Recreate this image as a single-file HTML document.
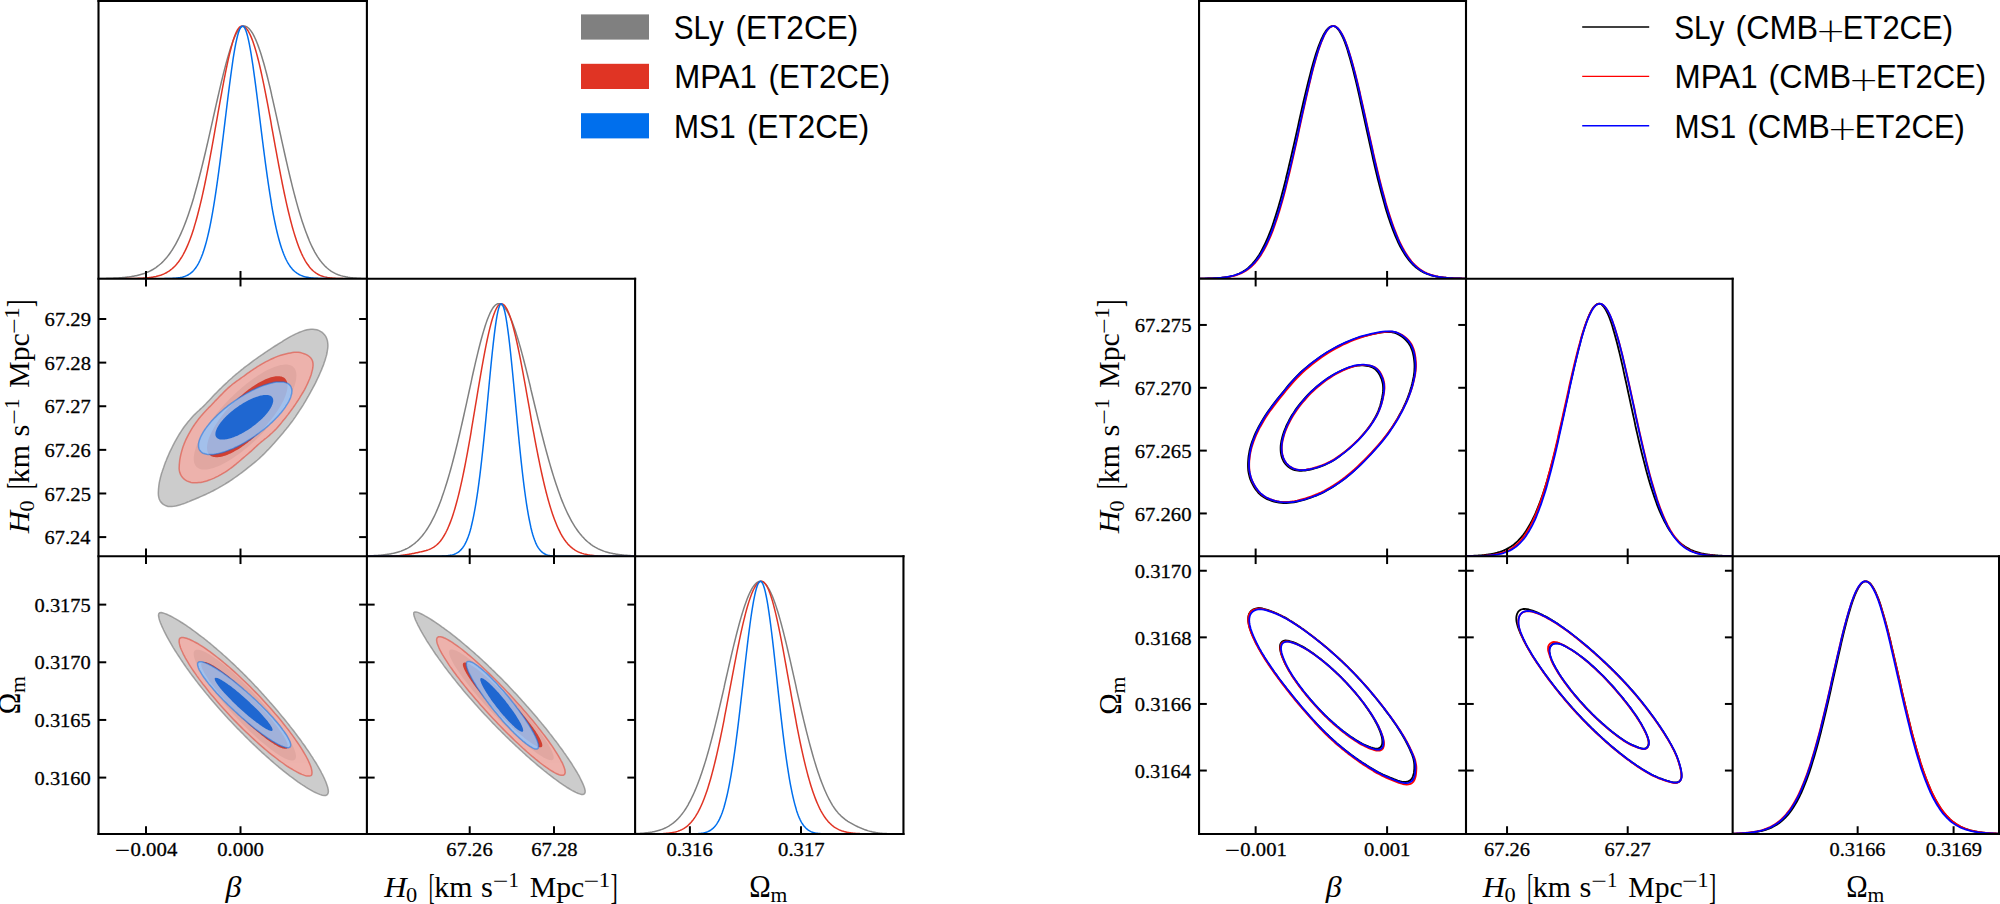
<!DOCTYPE html>
<html><head><meta charset="utf-8"><title>Triangle plots</title>
<style>html,body{margin:0;padding:0;background:#fff}svg{display:block}</style></head>
<body><svg width="2000" height="904" viewBox="0 0 2000 904">
<rect width="2000" height="904" fill="#fff"/>
<g opacity="1"><path d="M204.7,405.0 L206.1,403.6 L207.5,402.1 L208.8,400.7 L210.2,399.2 L211.6,397.7 L212.9,396.3 L214.3,394.8 L215.7,393.4 L217.1,391.9 L218.5,390.5 L219.9,389.1 L221.4,387.7 L222.8,386.3 L224.3,384.9 L225.7,383.6 L227.2,382.2 L228.6,380.8 L230.1,379.5 L231.6,378.2 L233.1,376.8 L234.6,375.5 L236.2,374.2 L237.7,373.0 L239.3,371.7 L240.8,370.4 L242.4,369.2 L243.9,367.9 L245.5,366.7 L247.1,365.5 L248.7,364.3 L250.3,363.1 L251.9,361.9 L253.5,360.7 L255.1,359.5 L256.8,358.3 L258.4,357.2 L260.0,356.0 L261.7,354.9 L263.3,353.8 L265.0,352.6 L266.6,351.5 L268.3,350.4 L270.0,349.3 L271.7,348.2 L273.3,347.1 L275.0,346.0 L276.7,345.0 L278.4,343.9 L280.1,342.8 L281.8,341.8 L283.5,340.7 L285.2,339.6 L286.9,338.6 L288.6,337.6 L290.4,336.6 L292.2,335.7 L293.9,334.8 L295.7,333.9 L297.6,333.1 L299.4,332.3 L301.3,331.6 L303.1,330.9 L305.1,330.3 L307.0,329.8 L309.0,329.5 L310.9,329.3 L312.9,329.2 L314.9,329.4 L316.9,329.8 L318.7,330.4 L320.5,331.3 L322.2,332.4 L323.6,333.7 L324.9,335.2 L326.0,336.9 L326.8,338.7 L327.4,340.6 L327.7,342.6 L327.9,344.6 L327.9,346.6 L327.7,348.6 L327.4,350.5 L327.1,352.5 L326.7,354.5 L326.2,356.4 L325.6,358.3 L325.1,360.2 L324.4,362.1 L323.8,364.0 L323.1,365.9 L322.3,367.8 L321.6,369.6 L320.8,371.5 L320.0,373.3 L319.2,375.1 L318.4,376.9 L317.5,378.8 L316.6,380.6 L315.8,382.4 L314.9,384.2 L314.0,385.9 L313.0,387.7 L312.1,389.5 L311.1,391.2 L310.2,393.0 L309.2,394.7 L308.2,396.5 L307.2,398.2 L306.2,399.9 L305.2,401.7 L304.1,403.4 L303.1,405.1 L302.0,406.8 L300.9,408.5 L299.8,410.1 L298.7,411.8 L297.6,413.5 L296.5,415.1 L295.4,416.8 L294.3,418.4 L293.1,420.1 L291.9,421.7 L290.7,423.3 L289.5,424.9 L288.3,426.5 L287.0,428.0 L285.8,429.6 L284.5,431.1 L283.2,432.7 L281.9,434.2 L280.6,435.7 L279.3,437.3 L278.0,438.8 L276.7,440.3 L275.4,441.8 L274.1,443.3 L272.7,444.8 L271.4,446.2 L270.0,447.7 L268.6,449.2 L267.2,450.6 L265.9,452.0 L264.5,453.5 L263.0,454.9 L261.6,456.3 L260.1,457.6 L258.7,459.0 L257.2,460.3 L255.6,461.6 L254.1,462.9 L252.5,464.1 L251.0,465.4 L249.4,466.6 L247.8,467.9 L246.3,469.1 L244.7,470.4 L243.1,471.6 L241.5,472.8 L239.9,474.0 L238.3,475.2 L236.7,476.3 L235.0,477.5 L233.4,478.6 L231.7,479.8 L230.1,480.9 L228.4,482.0 L226.7,483.0 L225.0,484.1 L223.3,485.1 L221.6,486.1 L219.8,487.1 L218.1,488.1 L216.3,489.1 L214.6,490.0 L212.8,491.0 L211.0,491.9 L209.2,492.8 L207.4,493.6 L205.6,494.5 L203.8,495.3 L201.9,496.1 L200.1,496.9 L198.3,497.7 L196.4,498.5 L194.6,499.3 L192.7,500.0 L190.9,500.8 L189.0,501.6 L187.2,502.3 L185.3,503.1 L183.4,503.8 L181.5,504.4 L179.6,505.0 L177.7,505.5 L175.8,506.0 L173.8,506.3 L171.8,506.5 L169.8,506.6 L167.9,506.4 L166.0,505.8 L164.2,504.9 L162.6,503.8 L161.2,502.4 L160.1,500.8 L159.2,499.0 L158.7,497.1 L158.4,495.1 L158.3,493.1 L158.4,491.1 L158.5,489.1 L158.7,487.2 L158.9,485.2 L159.2,483.2 L159.6,481.2 L160.0,479.3 L160.5,477.3 L161.0,475.4 L161.5,473.5 L162.2,471.6 L162.8,469.7 L163.5,467.8 L164.1,465.9 L164.8,464.0 L165.5,462.1 L166.3,460.3 L167.0,458.4 L167.8,456.6 L168.6,454.7 L169.4,452.9 L170.2,451.1 L171.1,449.3 L172.0,447.5 L172.9,445.7 L173.8,443.9 L174.7,442.2 L175.7,440.4 L176.7,438.6 L177.7,436.9 L178.7,435.2 L179.7,433.5 L180.8,431.8 L181.9,430.1 L183.0,428.5 L184.2,426.8 L185.4,425.2 L186.6,423.7 L187.9,422.1 L189.2,420.6 L190.5,419.0 L191.8,417.5 L193.1,416.1 L194.5,414.6 L195.9,413.2 L197.4,411.8 L198.9,410.5 L200.3,409.1 L201.8,407.8 L203.3,406.4Z" fill="#cccccc"/><path d="M293.5,367.2 L294.2,367.9 L294.7,368.6 L295.2,369.5 L295.6,370.4 L295.9,371.4 L296.2,372.4 L296.3,373.6 L296.4,374.7 L296.4,376.0 L296.3,377.3 L296.2,378.7 L296.0,380.1 L295.7,381.6 L295.3,383.2 L294.8,384.8 L294.3,386.4 L293.6,388.1 L293.0,389.9 L292.2,391.6 L291.3,393.5 L290.4,395.3 L289.5,397.2 L288.4,399.2 L287.3,401.1 L286.1,403.1 L284.9,405.1 L283.6,407.1 L282.2,409.1 L280.8,411.2 L279.3,413.2 L277.8,415.3 L276.2,417.3 L274.6,419.4 L272.9,421.5 L271.2,423.5 L269.4,425.6 L267.6,427.6 L265.8,429.6 L264.0,431.6 L262.1,433.6 L260.1,435.5 L258.2,437.4 L256.3,439.3 L254.3,441.2 L252.3,443.0 L250.3,444.7 L248.3,446.5 L246.3,448.2 L244.2,449.8 L242.2,451.4 L240.2,452.9 L238.2,454.4 L236.2,455.8 L234.2,457.2 L232.3,458.5 L230.3,459.7 L228.4,460.9 L226.5,462.0 L224.7,463.0 L222.8,464.0 L221.0,464.9 L219.3,465.7 L217.5,466.4 L215.9,467.1 L214.2,467.7 L212.6,468.2 L211.1,468.6 L209.6,469.0 L208.2,469.2 L206.8,469.4 L205.5,469.5 L204.3,469.6 L203.1,469.5 L201.9,469.4 L200.9,469.2 L199.9,468.9 L199.0,468.5 L198.1,468.0 L197.3,467.5 L196.6,466.9 L196.0,466.2 L195.4,465.5 L195.0,464.6 L194.6,463.7 L194.2,462.7 L194.0,461.7 L193.8,460.5 L193.8,459.4 L193.7,458.1 L193.8,456.8 L194.0,455.4 L194.2,454.0 L194.5,452.5 L194.9,450.9 L195.4,449.3 L195.9,447.7 L196.5,446.0 L197.2,444.2 L198.0,442.5 L198.8,440.6 L199.7,438.8 L200.7,436.9 L201.7,434.9 L202.9,433.0 L204.0,431.0 L205.3,429.0 L206.6,427.0 L208.0,425.0 L209.4,422.9 L210.8,420.9 L212.4,418.8 L214.0,416.8 L215.6,414.7 L217.3,412.6 L219.0,410.6 L220.7,408.5 L222.5,406.5 L224.3,404.5 L226.2,402.5 L228.1,400.5 L230.0,398.6 L232.0,396.7 L233.9,394.8 L235.9,392.9 L237.9,391.1 L239.9,389.4 L241.9,387.6 L243.9,385.9 L245.9,384.3 L247.9,382.7 L249.9,381.2 L251.9,379.7 L253.9,378.3 L255.9,376.9 L257.9,375.6 L259.8,374.4 L261.7,373.2 L263.6,372.1 L265.5,371.1 L267.3,370.1 L269.1,369.2 L270.9,368.4 L272.6,367.7 L274.3,367.0 L275.9,366.4 L277.5,365.9 L279.1,365.5 L280.5,365.1 L282.0,364.9 L283.3,364.7 L284.7,364.6 L285.9,364.5 L287.1,364.6 L288.2,364.7 L289.3,364.9 L290.3,365.2 L291.2,365.6 L292.0,366.1 L292.8,366.6Z" fill="#808080"/></g>
<path d="M204.7,405.0 L206.1,403.6 L207.5,402.1 L208.8,400.7 L210.2,399.2 L211.6,397.7 L212.9,396.3 L214.3,394.8 L215.7,393.4 L217.1,391.9 L218.5,390.5 L219.9,389.1 L221.4,387.7 L222.8,386.3 L224.3,384.9 L225.7,383.6 L227.2,382.2 L228.6,380.8 L230.1,379.5 L231.6,378.2 L233.1,376.8 L234.6,375.5 L236.2,374.2 L237.7,373.0 L239.3,371.7 L240.8,370.4 L242.4,369.2 L243.9,367.9 L245.5,366.7 L247.1,365.5 L248.7,364.3 L250.3,363.1 L251.9,361.9 L253.5,360.7 L255.1,359.5 L256.8,358.3 L258.4,357.2 L260.0,356.0 L261.7,354.9 L263.3,353.8 L265.0,352.6 L266.6,351.5 L268.3,350.4 L270.0,349.3 L271.7,348.2 L273.3,347.1 L275.0,346.0 L276.7,345.0 L278.4,343.9 L280.1,342.8 L281.8,341.8 L283.5,340.7 L285.2,339.6 L286.9,338.6 L288.6,337.6 L290.4,336.6 L292.2,335.7 L293.9,334.8 L295.7,333.9 L297.6,333.1 L299.4,332.3 L301.3,331.6 L303.1,330.9 L305.1,330.3 L307.0,329.8 L309.0,329.5 L310.9,329.3 L312.9,329.2 L314.9,329.4 L316.9,329.8 L318.7,330.4 L320.5,331.3 L322.2,332.4 L323.6,333.7 L324.9,335.2 L326.0,336.9 L326.8,338.7 L327.4,340.6 L327.7,342.6 L327.9,344.6 L327.9,346.6 L327.7,348.6 L327.4,350.5 L327.1,352.5 L326.7,354.5 L326.2,356.4 L325.6,358.3 L325.1,360.2 L324.4,362.1 L323.8,364.0 L323.1,365.9 L322.3,367.8 L321.6,369.6 L320.8,371.5 L320.0,373.3 L319.2,375.1 L318.4,376.9 L317.5,378.8 L316.6,380.6 L315.8,382.4 L314.9,384.2 L314.0,385.9 L313.0,387.7 L312.1,389.5 L311.1,391.2 L310.2,393.0 L309.2,394.7 L308.2,396.5 L307.2,398.2 L306.2,399.9 L305.2,401.7 L304.1,403.4 L303.1,405.1 L302.0,406.8 L300.9,408.5 L299.8,410.1 L298.7,411.8 L297.6,413.5 L296.5,415.1 L295.4,416.8 L294.3,418.4 L293.1,420.1 L291.9,421.7 L290.7,423.3 L289.5,424.9 L288.3,426.5 L287.0,428.0 L285.8,429.6 L284.5,431.1 L283.2,432.7 L281.9,434.2 L280.6,435.7 L279.3,437.3 L278.0,438.8 L276.7,440.3 L275.4,441.8 L274.1,443.3 L272.7,444.8 L271.4,446.2 L270.0,447.7 L268.6,449.2 L267.2,450.6 L265.9,452.0 L264.5,453.5 L263.0,454.9 L261.6,456.3 L260.1,457.6 L258.7,459.0 L257.2,460.3 L255.6,461.6 L254.1,462.9 L252.5,464.1 L251.0,465.4 L249.4,466.6 L247.8,467.9 L246.3,469.1 L244.7,470.4 L243.1,471.6 L241.5,472.8 L239.9,474.0 L238.3,475.2 L236.7,476.3 L235.0,477.5 L233.4,478.6 L231.7,479.8 L230.1,480.9 L228.4,482.0 L226.7,483.0 L225.0,484.1 L223.3,485.1 L221.6,486.1 L219.8,487.1 L218.1,488.1 L216.3,489.1 L214.6,490.0 L212.8,491.0 L211.0,491.9 L209.2,492.8 L207.4,493.6 L205.6,494.5 L203.8,495.3 L201.9,496.1 L200.1,496.9 L198.3,497.7 L196.4,498.5 L194.6,499.3 L192.7,500.0 L190.9,500.8 L189.0,501.6 L187.2,502.3 L185.3,503.1 L183.4,503.8 L181.5,504.4 L179.6,505.0 L177.7,505.5 L175.8,506.0 L173.8,506.3 L171.8,506.5 L169.8,506.6 L167.9,506.4 L166.0,505.8 L164.2,504.9 L162.6,503.8 L161.2,502.4 L160.1,500.8 L159.2,499.0 L158.7,497.1 L158.4,495.1 L158.3,493.1 L158.4,491.1 L158.5,489.1 L158.7,487.2 L158.9,485.2 L159.2,483.2 L159.6,481.2 L160.0,479.3 L160.5,477.3 L161.0,475.4 L161.5,473.5 L162.2,471.6 L162.8,469.7 L163.5,467.8 L164.1,465.9 L164.8,464.0 L165.5,462.1 L166.3,460.3 L167.0,458.4 L167.8,456.6 L168.6,454.7 L169.4,452.9 L170.2,451.1 L171.1,449.3 L172.0,447.5 L172.9,445.7 L173.8,443.9 L174.7,442.2 L175.7,440.4 L176.7,438.6 L177.7,436.9 L178.7,435.2 L179.7,433.5 L180.8,431.8 L181.9,430.1 L183.0,428.5 L184.2,426.8 L185.4,425.2 L186.6,423.7 L187.9,422.1 L189.2,420.6 L190.5,419.0 L191.8,417.5 L193.1,416.1 L194.5,414.6 L195.9,413.2 L197.4,411.8 L198.9,410.5 L200.3,409.1 L201.8,407.8 L203.3,406.4Z" fill="none" stroke="#808080" stroke-opacity="0.7" stroke-width="1.5"/>
<g opacity="0.85"><path d="M211.4,405.0 L212.8,403.5 L214.2,402.1 L215.5,400.6 L216.9,399.2 L218.3,397.8 L219.7,396.3 L221.1,394.9 L222.5,393.5 L223.9,392.0 L225.3,390.6 L226.8,389.2 L228.2,387.9 L229.7,386.6 L231.3,385.3 L232.8,384.0 L234.4,382.8 L236.0,381.6 L237.7,380.5 L239.3,379.3 L240.9,378.1 L242.5,377.0 L244.2,375.8 L245.8,374.6 L247.4,373.4 L249.0,372.3 L250.7,371.1 L252.3,370.0 L254.0,368.9 L255.7,367.8 L257.4,366.7 L259.1,365.7 L260.8,364.6 L262.5,363.6 L264.3,362.6 L266.0,361.7 L267.8,360.8 L269.6,359.9 L271.4,359.0 L273.2,358.2 L275.0,357.4 L276.9,356.6 L278.8,355.9 L280.7,355.3 L282.6,354.7 L284.5,354.2 L286.5,353.7 L288.4,353.3 L290.4,352.9 L292.3,352.6 L294.3,352.3 L296.3,352.2 L298.3,352.3 L300.3,352.6 L302.2,353.1 L304.1,353.7 L305.9,354.4 L307.7,355.4 L309.3,356.5 L310.8,357.9 L311.9,359.5 L312.6,361.3 L313.0,363.2 L313.1,365.2 L312.9,367.2 L312.6,369.1 L312.1,371.1 L311.6,373.0 L311.1,374.9 L310.4,376.8 L309.7,378.7 L308.9,380.5 L308.1,382.4 L307.3,384.2 L306.4,386.0 L305.5,387.8 L304.6,389.6 L303.6,391.3 L302.6,393.0 L301.6,394.7 L300.5,396.4 L299.5,398.1 L298.4,399.8 L297.3,401.5 L296.2,403.2 L295.1,404.8 L293.9,406.5 L292.8,408.1 L291.6,409.7 L290.4,411.4 L289.2,413.0 L288.0,414.6 L286.8,416.1 L285.6,417.7 L284.3,419.3 L283.0,420.8 L281.8,422.4 L280.5,423.9 L279.2,425.4 L277.9,426.9 L276.6,428.4 L275.2,429.9 L273.8,431.3 L272.3,432.7 L270.8,434.0 L269.4,435.4 L267.8,436.7 L266.3,438.0 L264.7,439.2 L263.2,440.5 L261.6,441.7 L260.1,443.0 L258.6,444.3 L257.1,445.6 L255.6,447.0 L254.1,448.4 L252.7,449.7 L251.2,451.1 L249.7,452.4 L248.2,453.7 L246.7,455.0 L245.2,456.3 L243.6,457.6 L242.1,458.9 L240.6,460.2 L239.1,461.5 L237.5,462.8 L236.0,464.1 L234.4,465.4 L232.9,466.6 L231.3,467.8 L229.7,469.0 L228.1,470.2 L226.4,471.3 L224.7,472.4 L223.0,473.4 L221.3,474.4 L219.5,475.4 L217.8,476.3 L216.0,477.2 L214.2,478.1 L212.3,478.9 L210.5,479.6 L208.6,480.3 L206.7,481.0 L204.8,481.5 L202.8,482.0 L200.9,482.4 L198.9,482.6 L196.9,482.8 L194.9,482.8 L192.9,482.7 L191.0,482.4 L189.1,481.8 L187.2,481.1 L185.5,480.1 L183.9,478.9 L182.5,477.5 L181.3,475.9 L180.4,474.2 L179.7,472.3 L179.3,470.4 L179.1,468.4 L179.2,466.4 L179.3,464.4 L179.5,462.4 L179.7,460.4 L180.0,458.5 L180.4,456.5 L180.8,454.5 L181.3,452.6 L181.8,450.7 L182.4,448.7 L183.0,446.8 L183.7,445.0 L184.4,443.1 L185.2,441.3 L186.0,439.4 L186.9,437.6 L187.8,435.8 L188.7,434.1 L189.7,432.3 L190.7,430.6 L191.7,428.9 L192.8,427.2 L193.9,425.5 L195.0,423.9 L196.2,422.2 L197.4,420.6 L198.6,419.0 L199.8,417.5 L201.1,415.9 L202.4,414.4 L203.7,412.9 L205.1,411.4 L206.5,410.0 L207.9,408.6 L209.3,407.1 L210.7,405.7Z" fill="#f3aea7"/><path d="M285.0,378.6 L285.6,379.2 L286.0,379.8 L286.4,380.5 L286.8,381.2 L287.0,382.0 L287.3,382.9 L287.4,383.8 L287.5,384.7 L287.5,385.7 L287.5,386.8 L287.4,387.9 L287.3,389.0 L287.0,390.2 L286.8,391.4 L286.4,392.7 L286.0,394.0 L285.6,395.3 L285.1,396.7 L284.5,398.1 L283.9,399.5 L283.2,401.0 L282.4,402.5 L281.6,404.0 L280.8,405.5 L279.9,407.0 L278.9,408.6 L277.9,410.2 L276.9,411.7 L275.8,413.3 L274.6,414.9 L273.5,416.5 L272.2,418.1 L271.0,419.7 L269.7,421.3 L268.3,422.8 L267.0,424.4 L265.6,426.0 L264.2,427.5 L262.7,429.0 L261.2,430.5 L259.8,432.0 L258.2,433.5 L256.7,434.9 L255.2,436.3 L253.6,437.7 L252.1,439.0 L250.5,440.4 L248.9,441.6 L247.3,442.9 L245.7,444.1 L244.2,445.2 L242.6,446.3 L241.0,447.4 L239.5,448.4 L237.9,449.4 L236.4,450.3 L234.9,451.1 L233.4,452.0 L231.9,452.7 L230.5,453.4 L229.0,454.1 L227.7,454.7 L226.3,455.2 L225.0,455.7 L223.7,456.1 L222.4,456.4 L221.2,456.7 L220.0,456.9 L218.9,457.1 L217.8,457.2 L216.7,457.2 L215.7,457.2 L214.7,457.1 L213.8,457.0 L213.0,456.8 L212.2,456.5 L211.4,456.2 L210.8,455.8 L210.1,455.3 L209.5,454.8 L209.0,454.2 L208.6,453.6 L208.2,452.9 L207.8,452.2 L207.5,451.4 L207.3,450.5 L207.2,449.6 L207.1,448.7 L207.0,447.7 L207.1,446.6 L207.2,445.5 L207.3,444.4 L207.5,443.2 L207.8,442.0 L208.1,440.7 L208.5,439.4 L209.0,438.1 L209.5,436.7 L210.1,435.3 L210.7,433.9 L211.4,432.4 L212.2,430.9 L213.0,429.4 L213.8,427.9 L214.7,426.4 L215.7,424.8 L216.7,423.2 L217.7,421.7 L218.8,420.1 L219.9,418.5 L221.1,416.9 L222.3,415.3 L223.6,413.7 L224.9,412.1 L226.2,410.6 L227.6,409.0 L229.0,407.4 L230.4,405.9 L231.9,404.4 L233.3,402.9 L234.8,401.4 L236.3,399.9 L237.9,398.5 L239.4,397.1 L241.0,395.7 L242.5,394.4 L244.1,393.0 L245.7,391.8 L247.3,390.5 L248.8,389.3 L250.4,388.2 L252.0,387.1 L253.6,386.0 L255.1,385.0 L256.7,384.0 L258.2,383.1 L259.7,382.3 L261.2,381.4 L262.7,380.7 L264.1,380.0 L265.5,379.3 L266.9,378.7 L268.3,378.2 L269.6,377.7 L270.9,377.3 L272.2,377.0 L273.4,376.7 L274.6,376.5 L275.7,376.3 L276.8,376.2 L277.9,376.2 L278.9,376.2 L279.8,376.3 L280.7,376.4 L281.6,376.6 L282.4,376.9 L283.1,377.2 L283.8,377.6 L284.5,378.1Z" fill="#E03424"/></g>
<path d="M211.4,405.0 L212.8,403.5 L214.2,402.1 L215.5,400.6 L216.9,399.2 L218.3,397.8 L219.7,396.3 L221.1,394.9 L222.5,393.5 L223.9,392.0 L225.3,390.6 L226.8,389.2 L228.2,387.9 L229.7,386.6 L231.3,385.3 L232.8,384.0 L234.4,382.8 L236.0,381.6 L237.7,380.5 L239.3,379.3 L240.9,378.1 L242.5,377.0 L244.2,375.8 L245.8,374.6 L247.4,373.4 L249.0,372.3 L250.7,371.1 L252.3,370.0 L254.0,368.9 L255.7,367.8 L257.4,366.7 L259.1,365.7 L260.8,364.6 L262.5,363.6 L264.3,362.6 L266.0,361.7 L267.8,360.8 L269.6,359.9 L271.4,359.0 L273.2,358.2 L275.0,357.4 L276.9,356.6 L278.8,355.9 L280.7,355.3 L282.6,354.7 L284.5,354.2 L286.5,353.7 L288.4,353.3 L290.4,352.9 L292.3,352.6 L294.3,352.3 L296.3,352.2 L298.3,352.3 L300.3,352.6 L302.2,353.1 L304.1,353.7 L305.9,354.4 L307.7,355.4 L309.3,356.5 L310.8,357.9 L311.9,359.5 L312.6,361.3 L313.0,363.2 L313.1,365.2 L312.9,367.2 L312.6,369.1 L312.1,371.1 L311.6,373.0 L311.1,374.9 L310.4,376.8 L309.7,378.7 L308.9,380.5 L308.1,382.4 L307.3,384.2 L306.4,386.0 L305.5,387.8 L304.6,389.6 L303.6,391.3 L302.6,393.0 L301.6,394.7 L300.5,396.4 L299.5,398.1 L298.4,399.8 L297.3,401.5 L296.2,403.2 L295.1,404.8 L293.9,406.5 L292.8,408.1 L291.6,409.7 L290.4,411.4 L289.2,413.0 L288.0,414.6 L286.8,416.1 L285.6,417.7 L284.3,419.3 L283.0,420.8 L281.8,422.4 L280.5,423.9 L279.2,425.4 L277.9,426.9 L276.6,428.4 L275.2,429.9 L273.8,431.3 L272.3,432.7 L270.8,434.0 L269.4,435.4 L267.8,436.7 L266.3,438.0 L264.7,439.2 L263.2,440.5 L261.6,441.7 L260.1,443.0 L258.6,444.3 L257.1,445.6 L255.6,447.0 L254.1,448.4 L252.7,449.7 L251.2,451.1 L249.7,452.4 L248.2,453.7 L246.7,455.0 L245.2,456.3 L243.6,457.6 L242.1,458.9 L240.6,460.2 L239.1,461.5 L237.5,462.8 L236.0,464.1 L234.4,465.4 L232.9,466.6 L231.3,467.8 L229.7,469.0 L228.1,470.2 L226.4,471.3 L224.7,472.4 L223.0,473.4 L221.3,474.4 L219.5,475.4 L217.8,476.3 L216.0,477.2 L214.2,478.1 L212.3,478.9 L210.5,479.6 L208.6,480.3 L206.7,481.0 L204.8,481.5 L202.8,482.0 L200.9,482.4 L198.9,482.6 L196.9,482.8 L194.9,482.8 L192.9,482.7 L191.0,482.4 L189.1,481.8 L187.2,481.1 L185.5,480.1 L183.9,478.9 L182.5,477.5 L181.3,475.9 L180.4,474.2 L179.7,472.3 L179.3,470.4 L179.1,468.4 L179.2,466.4 L179.3,464.4 L179.5,462.4 L179.7,460.4 L180.0,458.5 L180.4,456.5 L180.8,454.5 L181.3,452.6 L181.8,450.7 L182.4,448.7 L183.0,446.8 L183.7,445.0 L184.4,443.1 L185.2,441.3 L186.0,439.4 L186.9,437.6 L187.8,435.8 L188.7,434.1 L189.7,432.3 L190.7,430.6 L191.7,428.9 L192.8,427.2 L193.9,425.5 L195.0,423.9 L196.2,422.2 L197.4,420.6 L198.6,419.0 L199.8,417.5 L201.1,415.9 L202.4,414.4 L203.7,412.9 L205.1,411.4 L206.5,410.0 L207.9,408.6 L209.3,407.1 L210.7,405.7Z" fill="none" stroke="#E03424" stroke-opacity="0.5" stroke-width="1.5"/>
<g opacity="0.85"><path d="M290.4,385.8 L290.8,386.5 L291.2,387.2 L291.4,388.0 L291.7,388.8 L291.8,389.6 L291.9,390.5 L291.9,391.5 L291.8,392.5 L291.7,393.5 L291.4,394.5 L291.1,395.6 L290.8,396.8 L290.4,398.0 L289.9,399.1 L289.3,400.4 L288.7,401.6 L288.0,402.9 L287.2,404.2 L286.3,405.5 L285.5,406.9 L284.5,408.3 L283.5,409.6 L282.4,411.0 L281.3,412.4 L280.1,413.8 L278.8,415.3 L277.5,416.7 L276.2,418.1 L274.8,419.5 L273.3,421.0 L271.9,422.4 L270.3,423.8 L268.8,425.2 L267.2,426.6 L265.5,428.0 L263.9,429.3 L262.2,430.7 L260.4,432.0 L258.7,433.3 L256.9,434.6 L255.2,435.9 L253.4,437.1 L251.5,438.3 L249.7,439.5 L247.9,440.6 L246.1,441.7 L244.2,442.8 L242.4,443.8 L240.6,444.8 L238.7,445.8 L236.9,446.7 L235.1,447.5 L233.4,448.4 L231.6,449.1 L229.8,449.8 L228.1,450.5 L226.4,451.1 L224.8,451.7 L223.1,452.2 L221.5,452.7 L220.0,453.1 L218.4,453.5 L217.0,453.8 L215.5,454.1 L214.1,454.3 L212.8,454.4 L211.5,454.5 L210.2,454.5 L209.0,454.5 L207.9,454.4 L206.8,454.3 L205.8,454.1 L204.9,453.8 L204.0,453.5 L203.1,453.2 L202.4,452.8 L201.7,452.3 L201.0,451.8 L200.5,451.2 L200.0,450.6 L199.5,449.9 L199.2,449.2 L198.9,448.4 L198.7,447.6 L198.5,446.8 L198.5,445.9 L198.5,444.9 L198.5,443.9 L198.7,442.9 L198.9,441.9 L199.2,440.8 L199.6,439.6 L200.0,438.4 L200.5,437.3 L201.1,436.0 L201.7,434.8 L202.4,433.5 L203.2,432.2 L204.0,430.9 L204.9,429.5 L205.9,428.1 L206.9,426.8 L208.0,425.4 L209.1,424.0 L210.3,422.6 L211.5,421.1 L212.8,419.7 L214.2,418.3 L215.6,416.9 L217.0,415.4 L218.5,414.0 L220.0,412.6 L221.6,411.2 L223.2,409.8 L224.8,408.4 L226.5,407.1 L228.2,405.7 L229.9,404.4 L231.6,403.1 L233.4,401.8 L235.2,400.5 L237.0,399.3 L238.8,398.1 L240.6,396.9 L242.5,395.8 L244.3,394.7 L246.1,393.6 L248.0,392.6 L249.8,391.6 L251.6,390.6 L253.4,389.7 L255.2,388.9 L257.0,388.0 L258.8,387.3 L260.5,386.6 L262.2,385.9 L263.9,385.3 L265.6,384.7 L267.2,384.2 L268.8,383.7 L270.4,383.3 L271.9,382.9 L273.4,382.6 L274.8,382.3 L276.2,382.1 L277.6,382.0 L278.9,381.9 L280.1,381.9 L281.3,381.9 L282.4,382.0 L283.5,382.1 L284.5,382.3 L285.5,382.6 L286.4,382.9 L287.2,383.2 L288.0,383.6 L288.7,384.1 L289.3,384.6 L289.9,385.2Z" fill="#99c5f8"/><path d="M272.3,397.4 L272.6,397.8 L272.8,398.3 L273.0,398.7 L273.1,399.2 L273.2,399.8 L273.2,400.3 L273.2,400.9 L273.2,401.5 L273.1,402.1 L272.9,402.8 L272.7,403.5 L272.5,404.2 L272.2,404.9 L271.9,405.6 L271.6,406.4 L271.2,407.1 L270.7,407.9 L270.3,408.7 L269.7,409.6 L269.2,410.4 L268.6,411.2 L268.0,412.1 L267.3,412.9 L266.6,413.8 L265.8,414.7 L265.1,415.5 L264.3,416.4 L263.4,417.3 L262.6,418.2 L261.7,419.0 L260.7,419.9 L259.8,420.8 L258.8,421.6 L257.8,422.5 L256.8,423.3 L255.8,424.2 L254.7,425.0 L253.7,425.8 L252.6,426.6 L251.5,427.4 L250.4,428.2 L249.3,429.0 L248.2,429.7 L247.0,430.4 L245.9,431.1 L244.8,431.8 L243.6,432.4 L242.5,433.1 L241.4,433.7 L240.2,434.3 L239.1,434.8 L238.0,435.4 L236.9,435.9 L235.8,436.3 L234.7,436.8 L233.7,437.2 L232.6,437.6 L231.6,437.9 L230.6,438.2 L229.6,438.5 L228.6,438.8 L227.7,439.0 L226.8,439.2 L225.9,439.3 L225.0,439.5 L224.2,439.6 L223.4,439.6 L222.6,439.6 L221.9,439.6 L221.2,439.6 L220.5,439.5 L219.9,439.4 L219.3,439.2 L218.8,439.0 L218.2,438.8 L217.8,438.5 L217.3,438.3 L217.0,437.9 L216.6,437.6 L216.3,437.2 L216.0,436.8 L215.8,436.3 L215.7,435.9 L215.5,435.4 L215.4,434.8 L215.4,434.3 L215.4,433.7 L215.5,433.1 L215.5,432.5 L215.7,431.8 L215.9,431.1 L216.1,430.4 L216.4,429.7 L216.7,429.0 L217.0,428.2 L217.4,427.5 L217.9,426.7 L218.3,425.9 L218.9,425.0 L219.4,424.2 L220.0,423.4 L220.6,422.5 L221.3,421.7 L222.0,420.8 L222.8,419.9 L223.5,419.1 L224.3,418.2 L225.2,417.3 L226.0,416.4 L226.9,415.6 L227.9,414.7 L228.8,413.8 L229.8,413.0 L230.8,412.1 L231.8,411.3 L232.8,410.4 L233.9,409.6 L234.9,408.8 L236.0,408.0 L237.1,407.2 L238.2,406.4 L239.3,405.6 L240.5,404.9 L241.6,404.2 L242.7,403.5 L243.8,402.8 L245.0,402.2 L246.1,401.5 L247.2,400.9 L248.4,400.3 L249.5,399.8 L250.6,399.2 L251.7,398.7 L252.8,398.3 L253.9,397.8 L254.9,397.4 L256.0,397.0 L257.0,396.7 L258.0,396.4 L259.0,396.1 L260.0,395.8 L260.9,395.6 L261.8,395.4 L262.7,395.3 L263.6,395.1 L264.4,395.0 L265.2,395.0 L266.0,395.0 L266.7,395.0 L267.4,395.0 L268.1,395.1 L268.7,395.2 L269.3,395.4 L269.9,395.6 L270.4,395.8 L270.8,396.1 L271.3,396.3 L271.7,396.7 L272.0,397.0Z" fill="#006FED"/></g>
<path d="M290.4,385.8 L290.8,386.5 L291.2,387.2 L291.4,388.0 L291.7,388.8 L291.8,389.6 L291.9,390.5 L291.9,391.5 L291.8,392.5 L291.7,393.5 L291.4,394.5 L291.1,395.6 L290.8,396.8 L290.4,398.0 L289.9,399.1 L289.3,400.4 L288.7,401.6 L288.0,402.9 L287.2,404.2 L286.3,405.5 L285.5,406.9 L284.5,408.3 L283.5,409.6 L282.4,411.0 L281.3,412.4 L280.1,413.8 L278.8,415.3 L277.5,416.7 L276.2,418.1 L274.8,419.5 L273.3,421.0 L271.9,422.4 L270.3,423.8 L268.8,425.2 L267.2,426.6 L265.5,428.0 L263.9,429.3 L262.2,430.7 L260.4,432.0 L258.7,433.3 L256.9,434.6 L255.2,435.9 L253.4,437.1 L251.5,438.3 L249.7,439.5 L247.9,440.6 L246.1,441.7 L244.2,442.8 L242.4,443.8 L240.6,444.8 L238.7,445.8 L236.9,446.7 L235.1,447.5 L233.4,448.4 L231.6,449.1 L229.8,449.8 L228.1,450.5 L226.4,451.1 L224.8,451.7 L223.1,452.2 L221.5,452.7 L220.0,453.1 L218.4,453.5 L217.0,453.8 L215.5,454.1 L214.1,454.3 L212.8,454.4 L211.5,454.5 L210.2,454.5 L209.0,454.5 L207.9,454.4 L206.8,454.3 L205.8,454.1 L204.9,453.8 L204.0,453.5 L203.1,453.2 L202.4,452.8 L201.7,452.3 L201.0,451.8 L200.5,451.2 L200.0,450.6 L199.5,449.9 L199.2,449.2 L198.9,448.4 L198.7,447.6 L198.5,446.8 L198.5,445.9 L198.5,444.9 L198.5,443.9 L198.7,442.9 L198.9,441.9 L199.2,440.8 L199.6,439.6 L200.0,438.4 L200.5,437.3 L201.1,436.0 L201.7,434.8 L202.4,433.5 L203.2,432.2 L204.0,430.9 L204.9,429.5 L205.9,428.1 L206.9,426.8 L208.0,425.4 L209.1,424.0 L210.3,422.6 L211.5,421.1 L212.8,419.7 L214.2,418.3 L215.6,416.9 L217.0,415.4 L218.5,414.0 L220.0,412.6 L221.6,411.2 L223.2,409.8 L224.8,408.4 L226.5,407.1 L228.2,405.7 L229.9,404.4 L231.6,403.1 L233.4,401.8 L235.2,400.5 L237.0,399.3 L238.8,398.1 L240.6,396.9 L242.5,395.8 L244.3,394.7 L246.1,393.6 L248.0,392.6 L249.8,391.6 L251.6,390.6 L253.4,389.7 L255.2,388.9 L257.0,388.0 L258.8,387.3 L260.5,386.6 L262.2,385.9 L263.9,385.3 L265.6,384.7 L267.2,384.2 L268.8,383.7 L270.4,383.3 L271.9,382.9 L273.4,382.6 L274.8,382.3 L276.2,382.1 L277.6,382.0 L278.9,381.9 L280.1,381.9 L281.3,381.9 L282.4,382.0 L283.5,382.1 L284.5,382.3 L285.5,382.6 L286.4,382.9 L287.2,383.2 L288.0,383.6 L288.7,384.1 L289.3,384.6 L289.9,385.2Z" fill="none" stroke="#006FED" stroke-opacity="0.5" stroke-width="1.5"/>
<g opacity="1"><path d="M327.3,794.6 L325.9,795.4 L324.1,795.5 L322.2,795.2 L320.3,794.6 L318.4,793.9 L316.6,793.1 L314.8,792.3 L313.0,791.3 L311.3,790.4 L309.5,789.4 L307.8,788.4 L306.1,787.3 L304.4,786.2 L302.7,785.1 L301.1,784.0 L299.4,782.9 L297.8,781.8 L296.2,780.6 L294.5,779.4 L292.9,778.2 L291.3,777.0 L289.7,775.8 L288.2,774.6 L286.6,773.4 L285.0,772.1 L283.4,770.9 L281.9,769.6 L280.3,768.3 L278.8,767.1 L277.3,765.8 L275.7,764.5 L274.2,763.2 L272.7,761.9 L271.2,760.6 L269.7,759.3 L268.2,757.9 L266.7,756.6 L265.2,755.3 L263.7,753.9 L262.2,752.6 L260.8,751.2 L259.3,749.9 L257.8,748.5 L256.4,747.1 L254.9,745.7 L253.5,744.4 L252.0,743.0 L250.6,741.6 L249.2,740.2 L247.7,738.8 L246.3,737.4 L244.9,736.0 L243.5,734.6 L242.1,733.1 L240.7,731.7 L239.3,730.3 L237.9,728.9 L236.5,727.4 L235.1,726.0 L233.7,724.5 L232.3,723.1 L230.9,721.6 L229.6,720.2 L228.2,718.7 L226.9,717.2 L225.5,715.8 L224.2,714.3 L222.8,712.8 L221.5,711.3 L220.1,709.8 L218.8,708.3 L217.5,706.8 L216.2,705.3 L214.9,703.8 L213.6,702.3 L212.3,700.7 L211.0,699.2 L209.7,697.7 L208.4,696.1 L207.1,694.6 L205.9,693.1 L204.6,691.5 L203.3,689.9 L202.1,688.4 L200.8,686.8 L199.6,685.2 L198.4,683.7 L197.2,682.1 L195.9,680.5 L194.7,678.9 L193.5,677.3 L192.3,675.7 L191.1,674.1 L189.9,672.5 L188.8,670.9 L187.6,669.2 L186.4,667.6 L185.3,666.0 L184.1,664.3 L183.0,662.7 L181.9,661.0 L180.8,659.4 L179.7,657.7 L178.6,656.0 L177.5,654.3 L176.4,652.7 L175.3,651.0 L174.3,649.3 L173.2,647.6 L172.2,645.8 L171.2,644.1 L170.2,642.4 L169.2,640.7 L168.2,638.9 L167.2,637.2 L166.3,635.4 L165.4,633.6 L164.5,631.8 L163.6,630.0 L162.8,628.2 L161.9,626.4 L161.2,624.6 L160.4,622.7 L159.7,620.8 L159.1,618.9 L158.7,617.0 L158.5,615.2 L158.8,613.7 L159.7,612.8 L161.2,612.6 L163.1,612.9 L164.9,613.6 L166.8,614.3 L168.6,615.1 L170.4,616.0 L172.2,616.9 L173.9,617.9 L175.7,618.9 L177.4,619.9 L179.1,620.9 L180.8,622.0 L182.5,623.0 L184.2,624.1 L185.8,625.2 L187.5,626.4 L189.1,627.5 L190.8,628.6 L192.4,629.8 L194.0,631.0 L195.6,632.2 L197.2,633.3 L198.8,634.6 L200.4,635.8 L202.0,637.0 L203.6,638.2 L205.2,639.5 L206.7,640.7 L208.3,642.0 L209.8,643.2 L211.4,644.5 L212.9,645.8 L214.4,647.1 L216.0,648.4 L217.5,649.7 L219.0,651.0 L220.5,652.3 L222.0,653.6 L223.5,655.0 L225.0,656.3 L226.5,657.6 L228.0,659.0 L229.4,660.3 L230.9,661.7 L232.4,663.1 L233.8,664.4 L235.3,665.8 L236.7,667.2 L238.2,668.6 L239.6,670.0 L241.0,671.4 L242.5,672.8 L243.9,674.2 L245.3,675.6 L246.7,677.0 L248.1,678.5 L249.5,679.9 L250.9,681.3 L252.3,682.8 L253.7,684.2 L255.0,685.7 L256.4,687.1 L257.8,688.6 L259.1,690.1 L260.5,691.5 L261.8,693.0 L263.2,694.5 L264.5,696.0 L265.9,697.5 L267.2,699.0 L268.5,700.4 L269.8,702.0 L271.2,703.5 L272.5,705.0 L273.8,706.5 L275.1,708.0 L276.4,709.5 L277.7,711.0 L279.0,712.6 L280.2,714.1 L281.5,715.7 L282.8,717.2 L284.1,718.8 L285.3,720.3 L286.6,721.9 L287.8,723.4 L289.1,725.0 L290.3,726.6 L291.5,728.1 L292.8,729.7 L294.0,731.3 L295.2,732.9 L296.4,734.5 L297.6,736.1 L298.8,737.7 L300.0,739.3 L301.2,740.9 L302.3,742.6 L303.5,744.2 L304.7,745.8 L305.8,747.5 L306.9,749.1 L308.1,750.8 L309.2,752.4 L310.3,754.1 L311.4,755.8 L312.5,757.4 L313.5,759.1 L314.6,760.8 L315.7,762.5 L316.7,764.2 L317.7,766.0 L318.7,767.7 L319.7,769.4 L320.7,771.2 L321.6,773.0 L322.5,774.7 L323.4,776.5 L324.3,778.3 L325.1,780.2 L325.9,782.0 L326.6,783.9 L327.2,785.8 L327.8,787.7 L328.2,789.6 L328.4,791.5 L328.1,793.3Z" fill="#cccccc"/><path d="M294.8,759.6 L294.4,759.9 L293.8,760.2 L293.2,760.4 L292.5,760.5 L291.8,760.5 L290.9,760.4 L290.0,760.2 L289.0,760.0 L288.0,759.7 L286.9,759.2 L285.7,758.7 L284.5,758.2 L283.2,757.5 L281.8,756.7 L280.4,755.9 L278.9,755.0 L277.4,754.0 L275.8,753.0 L274.2,751.8 L272.5,750.6 L270.8,749.4 L269.1,748.0 L267.3,746.6 L265.5,745.1 L263.6,743.6 L261.7,742.0 L259.8,740.4 L257.9,738.7 L256.0,736.9 L254.0,735.1 L252.0,733.3 L250.0,731.4 L248.0,729.4 L246.0,727.4 L244.0,725.4 L242.0,723.4 L240.0,721.3 L238.0,719.2 L236.0,717.1 L234.0,715.0 L232.1,712.9 L230.1,710.7 L228.2,708.5 L226.3,706.4 L224.5,704.2 L222.7,702.0 L220.9,699.8 L219.1,697.7 L217.4,695.5 L215.7,693.4 L214.1,691.3 L212.5,689.2 L211.0,687.1 L209.5,685.1 L208.1,683.1 L206.7,681.1 L205.4,679.1 L204.1,677.2 L203.0,675.4 L201.8,673.6 L200.8,671.8 L199.8,670.1 L198.9,668.4 L198.0,666.8 L197.2,665.3 L196.5,663.8 L195.9,662.4 L195.4,661.0 L194.9,659.8 L194.5,658.5 L194.2,657.4 L193.9,656.3 L193.8,655.3 L193.7,654.4 L193.7,653.6 L193.7,652.8 L193.9,652.1 L194.1,651.5 L194.4,651.0 L194.8,650.6 L195.3,650.3 L195.8,650.0 L196.4,649.8 L197.1,649.7 L197.9,649.7 L198.7,649.8 L199.6,650.0 L200.6,650.2 L201.6,650.5 L202.8,651.0 L203.9,651.5 L205.2,652.0 L206.5,652.7 L207.8,653.5 L209.2,654.3 L210.7,655.2 L212.2,656.2 L213.8,657.2 L215.4,658.4 L217.1,659.6 L218.8,660.8 L220.6,662.2 L222.3,663.6 L224.2,665.1 L226.0,666.6 L227.9,668.2 L229.8,669.8 L231.7,671.5 L233.7,673.3 L235.7,675.1 L237.6,676.9 L239.6,678.8 L241.6,680.8 L243.6,682.8 L245.6,684.8 L247.7,686.8 L249.7,688.9 L251.7,691.0 L253.6,693.1 L255.6,695.2 L257.6,697.3 L259.5,699.5 L261.4,701.7 L263.3,703.8 L265.2,706.0 L267.0,708.2 L268.8,710.4 L270.5,712.5 L272.2,714.7 L273.9,716.8 L275.6,718.9 L277.1,721.0 L278.7,723.1 L280.1,725.1 L281.6,727.1 L282.9,729.1 L284.2,731.1 L285.5,733.0 L286.7,734.8 L287.8,736.6 L288.9,738.4 L289.8,740.1 L290.8,741.8 L291.6,743.4 L292.4,744.9 L293.1,746.4 L293.7,747.8 L294.3,749.2 L294.7,750.4 L295.1,751.7 L295.5,752.8 L295.7,753.9 L295.9,754.9 L296.0,755.8 L296.0,756.6 L295.9,757.4 L295.7,758.1 L295.5,758.7 L295.2,759.2Z" fill="#808080"/></g>
<path d="M327.3,794.6 L325.9,795.4 L324.1,795.5 L322.2,795.2 L320.3,794.6 L318.4,793.9 L316.6,793.1 L314.8,792.3 L313.0,791.3 L311.3,790.4 L309.5,789.4 L307.8,788.4 L306.1,787.3 L304.4,786.2 L302.7,785.1 L301.1,784.0 L299.4,782.9 L297.8,781.8 L296.2,780.6 L294.5,779.4 L292.9,778.2 L291.3,777.0 L289.7,775.8 L288.2,774.6 L286.6,773.4 L285.0,772.1 L283.4,770.9 L281.9,769.6 L280.3,768.3 L278.8,767.1 L277.3,765.8 L275.7,764.5 L274.2,763.2 L272.7,761.9 L271.2,760.6 L269.7,759.3 L268.2,757.9 L266.7,756.6 L265.2,755.3 L263.7,753.9 L262.2,752.6 L260.8,751.2 L259.3,749.9 L257.8,748.5 L256.4,747.1 L254.9,745.7 L253.5,744.4 L252.0,743.0 L250.6,741.6 L249.2,740.2 L247.7,738.8 L246.3,737.4 L244.9,736.0 L243.5,734.6 L242.1,733.1 L240.7,731.7 L239.3,730.3 L237.9,728.9 L236.5,727.4 L235.1,726.0 L233.7,724.5 L232.3,723.1 L230.9,721.6 L229.6,720.2 L228.2,718.7 L226.9,717.2 L225.5,715.8 L224.2,714.3 L222.8,712.8 L221.5,711.3 L220.1,709.8 L218.8,708.3 L217.5,706.8 L216.2,705.3 L214.9,703.8 L213.6,702.3 L212.3,700.7 L211.0,699.2 L209.7,697.7 L208.4,696.1 L207.1,694.6 L205.9,693.1 L204.6,691.5 L203.3,689.9 L202.1,688.4 L200.8,686.8 L199.6,685.2 L198.4,683.7 L197.2,682.1 L195.9,680.5 L194.7,678.9 L193.5,677.3 L192.3,675.7 L191.1,674.1 L189.9,672.5 L188.8,670.9 L187.6,669.2 L186.4,667.6 L185.3,666.0 L184.1,664.3 L183.0,662.7 L181.9,661.0 L180.8,659.4 L179.7,657.7 L178.6,656.0 L177.5,654.3 L176.4,652.7 L175.3,651.0 L174.3,649.3 L173.2,647.6 L172.2,645.8 L171.2,644.1 L170.2,642.4 L169.2,640.7 L168.2,638.9 L167.2,637.2 L166.3,635.4 L165.4,633.6 L164.5,631.8 L163.6,630.0 L162.8,628.2 L161.9,626.4 L161.2,624.6 L160.4,622.7 L159.7,620.8 L159.1,618.9 L158.7,617.0 L158.5,615.2 L158.8,613.7 L159.7,612.8 L161.2,612.6 L163.1,612.9 L164.9,613.6 L166.8,614.3 L168.6,615.1 L170.4,616.0 L172.2,616.9 L173.9,617.9 L175.7,618.9 L177.4,619.9 L179.1,620.9 L180.8,622.0 L182.5,623.0 L184.2,624.1 L185.8,625.2 L187.5,626.4 L189.1,627.5 L190.8,628.6 L192.4,629.8 L194.0,631.0 L195.6,632.2 L197.2,633.3 L198.8,634.6 L200.4,635.8 L202.0,637.0 L203.6,638.2 L205.2,639.5 L206.7,640.7 L208.3,642.0 L209.8,643.2 L211.4,644.5 L212.9,645.8 L214.4,647.1 L216.0,648.4 L217.5,649.7 L219.0,651.0 L220.5,652.3 L222.0,653.6 L223.5,655.0 L225.0,656.3 L226.5,657.6 L228.0,659.0 L229.4,660.3 L230.9,661.7 L232.4,663.1 L233.8,664.4 L235.3,665.8 L236.7,667.2 L238.2,668.6 L239.6,670.0 L241.0,671.4 L242.5,672.8 L243.9,674.2 L245.3,675.6 L246.7,677.0 L248.1,678.5 L249.5,679.9 L250.9,681.3 L252.3,682.8 L253.7,684.2 L255.0,685.7 L256.4,687.1 L257.8,688.6 L259.1,690.1 L260.5,691.5 L261.8,693.0 L263.2,694.5 L264.5,696.0 L265.9,697.5 L267.2,699.0 L268.5,700.4 L269.8,702.0 L271.2,703.5 L272.5,705.0 L273.8,706.5 L275.1,708.0 L276.4,709.5 L277.7,711.0 L279.0,712.6 L280.2,714.1 L281.5,715.7 L282.8,717.2 L284.1,718.8 L285.3,720.3 L286.6,721.9 L287.8,723.4 L289.1,725.0 L290.3,726.6 L291.5,728.1 L292.8,729.7 L294.0,731.3 L295.2,732.9 L296.4,734.5 L297.6,736.1 L298.8,737.7 L300.0,739.3 L301.2,740.9 L302.3,742.6 L303.5,744.2 L304.7,745.8 L305.8,747.5 L306.9,749.1 L308.1,750.8 L309.2,752.4 L310.3,754.1 L311.4,755.8 L312.5,757.4 L313.5,759.1 L314.6,760.8 L315.7,762.5 L316.7,764.2 L317.7,766.0 L318.7,767.7 L319.7,769.4 L320.7,771.2 L321.6,773.0 L322.5,774.7 L323.4,776.5 L324.3,778.3 L325.1,780.2 L325.9,782.0 L326.6,783.9 L327.2,785.8 L327.8,787.7 L328.2,789.6 L328.4,791.5 L328.1,793.3Z" fill="none" stroke="#808080" stroke-opacity="0.7" stroke-width="1.5"/>
<g opacity="0.85"><path d="M311.2,775.4 L310.8,775.7 L310.2,775.9 L309.6,776.1 L308.8,776.1 L307.9,776.1 L306.8,775.9 L305.7,775.7 L304.5,775.4 L303.2,774.9 L301.8,774.4 L300.3,773.7 L298.8,773.0 L297.1,772.1 L295.4,771.2 L293.5,770.2 L291.7,769.0 L289.7,767.8 L287.6,766.5 L285.5,765.1 L283.4,763.5 L281.2,762.0 L278.9,760.3 L276.6,758.5 L274.2,756.7 L271.8,754.8 L269.3,752.8 L266.8,750.7 L264.3,748.6 L261.7,746.4 L259.1,744.1 L256.5,741.8 L253.9,739.4 L251.3,737.0 L248.7,734.5 L246.0,732.0 L243.4,729.5 L240.8,726.9 L238.2,724.2 L235.6,721.6 L233.0,718.9 L230.4,716.2 L227.9,713.5 L225.4,710.7 L222.9,708.0 L220.4,705.3 L218.0,702.5 L215.7,699.8 L213.4,697.1 L211.1,694.4 L208.9,691.7 L206.8,689.0 L204.7,686.3 L202.6,683.7 L200.7,681.1 L198.8,678.6 L197.0,676.1 L195.3,673.6 L193.6,671.2 L192.0,668.9 L190.5,666.6 L189.1,664.4 L187.8,662.2 L186.6,660.1 L185.4,658.1 L184.4,656.2 L183.4,654.3 L182.6,652.5 L181.8,650.8 L181.1,649.2 L180.5,647.7 L180.0,646.3 L179.7,645.0 L179.4,643.7 L179.2,642.6 L179.1,641.6 L179.1,640.7 L179.2,639.9 L179.3,639.2 L179.6,638.7 L179.9,638.3 L180.3,638.0 L180.9,637.8 L181.5,637.6 L182.3,637.6 L183.2,637.6 L184.3,637.8 L185.4,638.0 L186.6,638.3 L187.9,638.8 L189.3,639.3 L190.8,640.0 L192.3,640.7 L194.0,641.6 L195.7,642.5 L197.6,643.5 L199.4,644.7 L201.4,645.9 L203.5,647.2 L205.6,648.6 L207.7,650.2 L209.9,651.7 L212.2,653.4 L214.5,655.2 L216.9,657.0 L219.3,658.9 L221.8,660.9 L224.3,663.0 L226.8,665.1 L229.4,667.3 L232.0,669.6 L234.6,671.9 L237.2,674.3 L239.8,676.7 L242.4,679.2 L245.1,681.7 L247.7,684.2 L250.3,686.8 L252.9,689.5 L255.5,692.1 L258.1,694.8 L260.7,697.5 L263.2,700.2 L265.7,703.0 L268.2,705.7 L270.7,708.4 L273.1,711.2 L275.4,713.9 L277.7,716.6 L280.0,719.3 L282.2,722.0 L284.3,724.7 L286.4,727.4 L288.5,730.0 L290.4,732.6 L292.3,735.1 L294.1,737.6 L295.8,740.1 L297.5,742.5 L299.1,744.8 L300.6,747.1 L302.0,749.3 L303.3,751.5 L304.5,753.6 L305.7,755.6 L306.7,757.5 L307.7,759.4 L308.6,761.2 L309.3,762.9 L310.0,764.5 L310.6,766.0 L311.1,767.4 L311.4,768.7 L311.7,770.0 L311.9,771.1 L312.0,772.1 L312.0,773.0 L311.9,773.8 L311.8,774.5 L311.5,775.0Z" fill="#f3aea7"/><path d="M287.1,748.2 L286.8,748.5 L286.4,748.7 L285.9,748.8 L285.4,748.8 L284.8,748.8 L284.2,748.8 L283.4,748.6 L282.7,748.4 L281.8,748.1 L281.0,747.8 L280.0,747.4 L279.0,746.9 L278.0,746.4 L276.9,745.8 L275.7,745.1 L274.5,744.4 L273.3,743.6 L272.0,742.8 L270.7,741.9 L269.3,740.9 L267.9,739.9 L266.4,738.9 L264.9,737.8 L263.4,736.6 L261.9,735.4 L260.3,734.1 L258.7,732.8 L257.1,731.5 L255.5,730.1 L253.8,728.7 L252.2,727.2 L250.5,725.7 L248.8,724.2 L247.1,722.6 L245.4,721.1 L243.7,719.4 L242.0,717.8 L240.3,716.2 L238.6,714.5 L237.0,712.8 L235.3,711.1 L233.6,709.5 L232.0,707.7 L230.4,706.0 L228.8,704.3 L227.2,702.6 L225.7,700.9 L224.2,699.2 L222.7,697.5 L221.2,695.9 L219.8,694.2 L218.4,692.6 L217.1,690.9 L215.8,689.3 L214.6,687.8 L213.4,686.2 L212.2,684.7 L211.1,683.2 L210.0,681.8 L209.0,680.3 L208.1,679.0 L207.2,677.6 L206.4,676.3 L205.6,675.1 L204.9,673.9 L204.2,672.7 L203.6,671.6 L203.1,670.6 L202.6,669.6 L202.2,668.6 L201.9,667.7 L201.6,666.9 L201.4,666.1 L201.3,665.4 L201.2,664.8 L201.2,664.2 L201.3,663.7 L201.4,663.2 L201.6,662.8 L201.9,662.5 L202.2,662.2 L202.6,662.0 L203.1,661.9 L203.6,661.9 L204.2,661.9 L204.8,661.9 L205.5,662.1 L206.3,662.3 L207.1,662.6 L208.0,662.9 L209.0,663.3 L210.0,663.8 L211.0,664.3 L212.1,664.9 L213.3,665.6 L214.5,666.3 L215.7,667.1 L217.0,667.9 L218.3,668.8 L219.7,669.8 L221.1,670.8 L222.5,671.8 L224.0,672.9 L225.5,674.1 L227.1,675.3 L228.7,676.6 L230.2,677.9 L231.9,679.2 L233.5,680.6 L235.1,682.0 L236.8,683.5 L238.5,685.0 L240.2,686.5 L241.9,688.1 L243.6,689.6 L245.3,691.3 L247.0,692.9 L248.7,694.5 L250.3,696.2 L252.0,697.9 L253.7,699.6 L255.3,701.2 L257.0,703.0 L258.6,704.7 L260.2,706.4 L261.8,708.1 L263.3,709.8 L264.8,711.5 L266.3,713.2 L267.7,714.8 L269.2,716.5 L270.5,718.1 L271.9,719.8 L273.2,721.4 L274.4,722.9 L275.6,724.5 L276.8,726.0 L277.9,727.5 L278.9,728.9 L279.9,730.4 L280.9,731.7 L281.8,733.1 L282.6,734.4 L283.4,735.6 L284.1,736.8 L284.7,738.0 L285.3,739.1 L285.9,740.1 L286.3,741.1 L286.7,742.1 L287.1,743.0 L287.3,743.8 L287.5,744.6 L287.7,745.3 L287.7,745.9 L287.7,746.5 L287.7,747.0 L287.5,747.5 L287.4,747.9Z" fill="#E03424"/></g>
<path d="M311.2,775.4 L310.8,775.7 L310.2,775.9 L309.6,776.1 L308.8,776.1 L307.9,776.1 L306.8,775.9 L305.7,775.7 L304.5,775.4 L303.2,774.9 L301.8,774.4 L300.3,773.7 L298.8,773.0 L297.1,772.1 L295.4,771.2 L293.5,770.2 L291.7,769.0 L289.7,767.8 L287.6,766.5 L285.5,765.1 L283.4,763.5 L281.2,762.0 L278.9,760.3 L276.6,758.5 L274.2,756.7 L271.8,754.8 L269.3,752.8 L266.8,750.7 L264.3,748.6 L261.7,746.4 L259.1,744.1 L256.5,741.8 L253.9,739.4 L251.3,737.0 L248.7,734.5 L246.0,732.0 L243.4,729.5 L240.8,726.9 L238.2,724.2 L235.6,721.6 L233.0,718.9 L230.4,716.2 L227.9,713.5 L225.4,710.7 L222.9,708.0 L220.4,705.3 L218.0,702.5 L215.7,699.8 L213.4,697.1 L211.1,694.4 L208.9,691.7 L206.8,689.0 L204.7,686.3 L202.6,683.7 L200.7,681.1 L198.8,678.6 L197.0,676.1 L195.3,673.6 L193.6,671.2 L192.0,668.9 L190.5,666.6 L189.1,664.4 L187.8,662.2 L186.6,660.1 L185.4,658.1 L184.4,656.2 L183.4,654.3 L182.6,652.5 L181.8,650.8 L181.1,649.2 L180.5,647.7 L180.0,646.3 L179.7,645.0 L179.4,643.7 L179.2,642.6 L179.1,641.6 L179.1,640.7 L179.2,639.9 L179.3,639.2 L179.6,638.7 L179.9,638.3 L180.3,638.0 L180.9,637.8 L181.5,637.6 L182.3,637.6 L183.2,637.6 L184.3,637.8 L185.4,638.0 L186.6,638.3 L187.9,638.8 L189.3,639.3 L190.8,640.0 L192.3,640.7 L194.0,641.6 L195.7,642.5 L197.6,643.5 L199.4,644.7 L201.4,645.9 L203.5,647.2 L205.6,648.6 L207.7,650.2 L209.9,651.7 L212.2,653.4 L214.5,655.2 L216.9,657.0 L219.3,658.9 L221.8,660.9 L224.3,663.0 L226.8,665.1 L229.4,667.3 L232.0,669.6 L234.6,671.9 L237.2,674.3 L239.8,676.7 L242.4,679.2 L245.1,681.7 L247.7,684.2 L250.3,686.8 L252.9,689.5 L255.5,692.1 L258.1,694.8 L260.7,697.5 L263.2,700.2 L265.7,703.0 L268.2,705.7 L270.7,708.4 L273.1,711.2 L275.4,713.9 L277.7,716.6 L280.0,719.3 L282.2,722.0 L284.3,724.7 L286.4,727.4 L288.5,730.0 L290.4,732.6 L292.3,735.1 L294.1,737.6 L295.8,740.1 L297.5,742.5 L299.1,744.8 L300.6,747.1 L302.0,749.3 L303.3,751.5 L304.5,753.6 L305.7,755.6 L306.7,757.5 L307.7,759.4 L308.6,761.2 L309.3,762.9 L310.0,764.5 L310.6,766.0 L311.1,767.4 L311.4,768.7 L311.7,770.0 L311.9,771.1 L312.0,772.1 L312.0,773.0 L311.9,773.8 L311.8,774.5 L311.5,775.0Z" fill="none" stroke="#E03424" stroke-opacity="0.5" stroke-width="1.5"/>
<g opacity="0.85"><path d="M290.1,746.9 L289.8,747.2 L289.4,747.4 L288.9,747.6 L288.3,747.7 L287.7,747.7 L287.1,747.7 L286.3,747.6 L285.5,747.4 L284.6,747.1 L283.7,746.8 L282.7,746.5 L281.6,746.0 L280.5,745.6 L279.4,745.0 L278.1,744.4 L276.9,743.7 L275.5,742.9 L274.2,742.1 L272.7,741.3 L271.3,740.4 L269.8,739.4 L268.2,738.4 L266.6,737.3 L265.0,736.2 L263.4,735.0 L261.7,733.8 L260.0,732.5 L258.3,731.2 L256.5,729.9 L254.7,728.5 L252.9,727.0 L251.1,725.6 L249.3,724.1 L247.5,722.6 L245.7,721.0 L243.9,719.4 L242.0,717.9 L240.2,716.2 L238.4,714.6 L236.6,712.9 L234.8,711.3 L233.0,709.6 L231.2,707.9 L229.5,706.2 L227.8,704.6 L226.1,702.9 L224.4,701.2 L222.7,699.5 L221.1,697.8 L219.6,696.2 L218.0,694.5 L216.5,692.9 L215.1,691.3 L213.7,689.7 L212.3,688.1 L211.0,686.6 L209.7,685.1 L208.5,683.6 L207.4,682.1 L206.3,680.7 L205.3,679.3 L204.3,678.0 L203.4,676.7 L202.5,675.4 L201.7,674.2 L201.0,673.0 L200.4,671.9 L199.8,670.8 L199.2,669.8 L198.8,668.9 L198.4,668.0 L198.1,667.1 L197.9,666.3 L197.7,665.6 L197.6,664.9 L197.6,664.3 L197.6,663.8 L197.7,663.3 L197.9,662.9 L198.2,662.5 L198.5,662.2 L198.9,662.0 L199.4,661.8 L199.9,661.7 L200.6,661.7 L201.2,661.7 L202.0,661.8 L202.8,662.0 L203.7,662.3 L204.6,662.6 L205.6,662.9 L206.6,663.4 L207.8,663.8 L208.9,664.4 L210.2,665.0 L211.4,665.7 L212.8,666.5 L214.1,667.3 L215.5,668.1 L217.0,669.0 L218.5,670.0 L220.1,671.0 L221.7,672.1 L223.3,673.2 L224.9,674.4 L226.6,675.6 L228.3,676.9 L230.0,678.2 L231.8,679.5 L233.6,680.9 L235.4,682.4 L237.2,683.8 L239.0,685.3 L240.8,686.8 L242.6,688.4 L244.4,690.0 L246.3,691.5 L248.1,693.2 L249.9,694.8 L251.7,696.5 L253.5,698.1 L255.3,699.8 L257.1,701.5 L258.8,703.2 L260.5,704.8 L262.2,706.5 L263.9,708.2 L265.6,709.9 L267.2,711.6 L268.7,713.2 L270.3,714.9 L271.8,716.5 L273.2,718.1 L274.6,719.7 L276.0,721.3 L277.3,722.8 L278.5,724.3 L279.8,725.8 L280.9,727.3 L282.0,728.7 L283.0,730.1 L284.0,731.4 L284.9,732.7 L285.8,734.0 L286.6,735.2 L287.3,736.4 L287.9,737.5 L288.5,738.6 L289.0,739.6 L289.5,740.5 L289.9,741.4 L290.2,742.3 L290.4,743.1 L290.6,743.8 L290.7,744.5 L290.7,745.1 L290.7,745.6 L290.6,746.1 L290.4,746.5Z" fill="#99c5f8"/><path d="M272.3,730.6 L272.2,730.7 L272.0,730.8 L271.7,730.9 L271.4,730.9 L271.1,730.9 L270.7,730.8 L270.2,730.7 L269.8,730.6 L269.3,730.4 L268.7,730.2 L268.1,729.9 L267.5,729.6 L266.8,729.3 L266.1,728.9 L265.4,728.5 L264.6,728.0 L263.8,727.5 L263.0,727.0 L262.2,726.4 L261.3,725.8 L260.4,725.2 L259.4,724.5 L258.5,723.8 L257.5,723.1 L256.5,722.4 L255.4,721.6 L254.4,720.8 L253.3,719.9 L252.2,719.1 L251.1,718.2 L250.0,717.3 L248.9,716.4 L247.8,715.4 L246.7,714.5 L245.5,713.5 L244.4,712.5 L243.3,711.5 L242.1,710.5 L241.0,709.5 L239.9,708.5 L238.8,707.4 L237.6,706.4 L236.5,705.3 L235.4,704.3 L234.3,703.3 L233.3,702.2 L232.2,701.2 L231.2,700.1 L230.2,699.1 L229.2,698.1 L228.2,697.1 L227.3,696.1 L226.3,695.1 L225.4,694.1 L224.6,693.2 L223.7,692.2 L222.9,691.3 L222.1,690.4 L221.4,689.5 L220.7,688.7 L220.0,687.9 L219.4,687.1 L218.8,686.3 L218.2,685.5 L217.7,684.8 L217.2,684.1 L216.8,683.5 L216.4,682.8 L216.0,682.2 L215.7,681.7 L215.4,681.1 L215.2,680.7 L215.0,680.2 L214.9,679.8 L214.8,679.4 L214.7,679.1 L214.7,678.8 L214.7,678.5 L214.8,678.3 L214.9,678.1 L215.1,678.0 L215.3,677.9 L215.6,677.8 L215.9,677.8 L216.2,677.8 L216.6,677.9 L217.0,678.0 L217.5,678.1 L218.0,678.3 L218.6,678.5 L219.1,678.8 L219.8,679.1 L220.4,679.4 L221.1,679.8 L221.9,680.2 L222.6,680.7 L223.4,681.2 L224.3,681.7 L225.1,682.3 L226.0,682.9 L226.9,683.5 L227.9,684.2 L228.8,684.9 L229.8,685.6 L230.8,686.3 L231.8,687.1 L232.9,687.9 L234.0,688.8 L235.0,689.6 L236.1,690.5 L237.2,691.4 L238.3,692.3 L239.5,693.3 L240.6,694.2 L241.7,695.2 L242.9,696.2 L244.0,697.2 L245.1,698.2 L246.3,699.2 L247.4,700.2 L248.5,701.3 L249.6,702.3 L250.7,703.4 L251.8,704.4 L252.9,705.4 L254.0,706.5 L255.0,707.5 L256.1,708.6 L257.1,709.6 L258.1,710.6 L259.1,711.6 L260.0,712.6 L260.9,713.6 L261.8,714.6 L262.7,715.5 L263.5,716.5 L264.4,717.4 L265.1,718.3 L265.9,719.2 L266.6,720.0 L267.3,720.8 L267.9,721.6 L268.5,722.4 L269.1,723.2 L269.6,723.9 L270.1,724.6 L270.5,725.2 L270.9,725.9 L271.3,726.5 L271.6,727.0 L271.9,727.6 L272.1,728.0 L272.3,728.5 L272.4,728.9 L272.5,729.3 L272.6,729.6 L272.6,729.9 L272.5,730.2 L272.5,730.4Z" fill="#006FED"/></g>
<path d="M290.1,746.9 L289.8,747.2 L289.4,747.4 L288.9,747.6 L288.3,747.7 L287.7,747.7 L287.1,747.7 L286.3,747.6 L285.5,747.4 L284.6,747.1 L283.7,746.8 L282.7,746.5 L281.6,746.0 L280.5,745.6 L279.4,745.0 L278.1,744.4 L276.9,743.7 L275.5,742.9 L274.2,742.1 L272.7,741.3 L271.3,740.4 L269.8,739.4 L268.2,738.4 L266.6,737.3 L265.0,736.2 L263.4,735.0 L261.7,733.8 L260.0,732.5 L258.3,731.2 L256.5,729.9 L254.7,728.5 L252.9,727.0 L251.1,725.6 L249.3,724.1 L247.5,722.6 L245.7,721.0 L243.9,719.4 L242.0,717.9 L240.2,716.2 L238.4,714.6 L236.6,712.9 L234.8,711.3 L233.0,709.6 L231.2,707.9 L229.5,706.2 L227.8,704.6 L226.1,702.9 L224.4,701.2 L222.7,699.5 L221.1,697.8 L219.6,696.2 L218.0,694.5 L216.5,692.9 L215.1,691.3 L213.7,689.7 L212.3,688.1 L211.0,686.6 L209.7,685.1 L208.5,683.6 L207.4,682.1 L206.3,680.7 L205.3,679.3 L204.3,678.0 L203.4,676.7 L202.5,675.4 L201.7,674.2 L201.0,673.0 L200.4,671.9 L199.8,670.8 L199.2,669.8 L198.8,668.9 L198.4,668.0 L198.1,667.1 L197.9,666.3 L197.7,665.6 L197.6,664.9 L197.6,664.3 L197.6,663.8 L197.7,663.3 L197.9,662.9 L198.2,662.5 L198.5,662.2 L198.9,662.0 L199.4,661.8 L199.9,661.7 L200.6,661.7 L201.2,661.7 L202.0,661.8 L202.8,662.0 L203.7,662.3 L204.6,662.6 L205.6,662.9 L206.6,663.4 L207.8,663.8 L208.9,664.4 L210.2,665.0 L211.4,665.7 L212.8,666.5 L214.1,667.3 L215.5,668.1 L217.0,669.0 L218.5,670.0 L220.1,671.0 L221.7,672.1 L223.3,673.2 L224.9,674.4 L226.6,675.6 L228.3,676.9 L230.0,678.2 L231.8,679.5 L233.6,680.9 L235.4,682.4 L237.2,683.8 L239.0,685.3 L240.8,686.8 L242.6,688.4 L244.4,690.0 L246.3,691.5 L248.1,693.2 L249.9,694.8 L251.7,696.5 L253.5,698.1 L255.3,699.8 L257.1,701.5 L258.8,703.2 L260.5,704.8 L262.2,706.5 L263.9,708.2 L265.6,709.9 L267.2,711.6 L268.7,713.2 L270.3,714.9 L271.8,716.5 L273.2,718.1 L274.6,719.7 L276.0,721.3 L277.3,722.8 L278.5,724.3 L279.8,725.8 L280.9,727.3 L282.0,728.7 L283.0,730.1 L284.0,731.4 L284.9,732.7 L285.8,734.0 L286.6,735.2 L287.3,736.4 L287.9,737.5 L288.5,738.6 L289.0,739.6 L289.5,740.5 L289.9,741.4 L290.2,742.3 L290.4,743.1 L290.6,743.8 L290.7,744.5 L290.7,745.1 L290.7,745.6 L290.6,746.1 L290.4,746.5Z" fill="none" stroke="#006FED" stroke-opacity="0.5" stroke-width="1.5"/>
<g opacity="1"><path d="M584.4,793.9 L583.1,794.5 L581.4,794.4 L579.5,793.9 L577.7,793.2 L575.8,792.4 L574.1,791.5 L572.3,790.6 L570.6,789.6 L568.8,788.5 L567.1,787.5 L565.5,786.4 L563.8,785.3 L562.1,784.2 L560.5,783.1 L558.8,781.9 L557.2,780.7 L555.6,779.5 L554.0,778.4 L552.4,777.1 L550.8,775.9 L549.2,774.7 L547.6,773.5 L546.1,772.2 L544.5,771.0 L543.0,769.7 L541.4,768.4 L539.9,767.2 L538.3,765.9 L536.8,764.6 L535.3,763.3 L533.8,762.0 L532.3,760.7 L530.7,759.4 L529.2,758.0 L527.7,756.7 L526.2,755.4 L524.8,754.0 L523.3,752.7 L521.8,751.3 L520.3,750.0 L518.9,748.6 L517.4,747.3 L515.9,745.9 L514.5,744.5 L513.0,743.1 L511.6,741.8 L510.1,740.4 L508.7,739.0 L507.3,737.6 L505.8,736.2 L504.4,734.8 L503.0,733.4 L501.6,732.0 L500.2,730.5 L498.7,729.1 L497.3,727.7 L495.9,726.3 L494.5,724.8 L493.1,723.4 L491.8,721.9 L490.4,720.5 L489.0,719.0 L487.6,717.6 L486.2,716.1 L484.9,714.7 L483.5,713.2 L482.1,711.7 L480.8,710.3 L479.4,708.8 L478.1,707.3 L476.8,705.8 L475.4,704.3 L474.1,702.8 L472.8,701.3 L471.5,699.8 L470.1,698.3 L468.8,696.8 L467.5,695.3 L466.2,693.8 L464.9,692.2 L463.6,690.7 L462.4,689.2 L461.1,687.6 L459.8,686.1 L458.5,684.5 L457.3,683.0 L456.0,681.4 L454.8,679.8 L453.5,678.3 L452.3,676.7 L451.1,675.1 L449.8,673.5 L448.6,672.0 L447.4,670.4 L446.2,668.8 L445.0,667.2 L443.8,665.6 L442.6,663.9 L441.4,662.3 L440.3,660.7 L439.1,659.1 L437.9,657.4 L436.8,655.8 L435.6,654.2 L434.5,652.5 L433.4,650.9 L432.3,649.2 L431.2,647.5 L430.1,645.8 L429.0,644.2 L427.9,642.5 L426.8,640.8 L425.8,639.1 L424.8,637.4 L423.7,635.6 L422.7,633.9 L421.7,632.2 L420.7,630.4 L419.8,628.7 L418.9,626.9 L417.9,625.1 L417.1,623.3 L416.2,621.5 L415.4,619.7 L414.7,617.8 L414.1,616.0 L413.7,614.2 L413.8,612.7 L414.7,612.0 L416.1,611.9 L417.9,612.4 L419.7,613.1 L421.5,614.0 L423.3,614.9 L425.0,615.9 L426.8,616.9 L428.5,617.9 L430.2,618.9 L431.9,620.0 L433.6,621.1 L435.2,622.2 L436.9,623.3 L438.5,624.4 L440.2,625.6 L441.8,626.8 L443.4,627.9 L445.0,629.1 L446.7,630.3 L448.3,631.5 L449.9,632.7 L451.4,633.9 L453.0,635.2 L454.6,636.4 L456.2,637.6 L457.7,638.9 L459.3,640.2 L460.8,641.4 L462.4,642.7 L463.9,644.0 L465.4,645.3 L467.0,646.6 L468.5,647.9 L470.0,649.2 L471.5,650.5 L473.0,651.8 L474.5,653.1 L476.0,654.5 L477.5,655.8 L479.0,657.1 L480.5,658.5 L481.9,659.8 L483.4,661.2 L484.9,662.6 L486.3,663.9 L487.8,665.3 L489.2,666.7 L490.7,668.1 L492.1,669.5 L493.6,670.9 L495.0,672.3 L496.4,673.7 L497.8,675.1 L499.3,676.5 L500.7,677.9 L502.1,679.3 L503.5,680.8 L504.9,682.2 L506.3,683.6 L507.7,685.1 L509.0,686.5 L510.4,688.0 L511.8,689.4 L513.2,690.9 L514.5,692.4 L515.9,693.8 L517.3,695.3 L518.6,696.8 L520.0,698.2 L521.3,699.7 L522.6,701.2 L524.0,702.7 L525.3,704.2 L526.6,705.7 L528.0,707.2 L529.3,708.7 L530.6,710.2 L531.9,711.7 L533.2,713.3 L534.5,714.8 L535.8,716.3 L537.1,717.8 L538.4,719.4 L539.7,720.9 L540.9,722.4 L542.2,724.0 L543.5,725.5 L544.7,727.1 L546.0,728.6 L547.3,730.2 L548.5,731.8 L549.7,733.4 L551.0,734.9 L552.2,736.5 L553.4,738.1 L554.6,739.7 L555.9,741.3 L557.1,742.9 L558.3,744.5 L559.4,746.1 L560.6,747.7 L561.8,749.3 L563.0,751.0 L564.1,752.6 L565.3,754.2 L566.4,755.9 L567.5,757.5 L568.7,759.2 L569.8,760.8 L570.9,762.5 L572.0,764.2 L573.0,765.9 L574.1,767.6 L575.2,769.3 L576.2,771.0 L577.2,772.7 L578.2,774.5 L579.2,776.2 L580.1,778.0 L581.0,779.8 L581.9,781.6 L582.7,783.4 L583.5,785.2 L584.2,787.1 L584.8,789.0 L585.2,790.9 L585.1,792.6Z" fill="#cccccc"/><path d="M553.0,759.6 L552.6,759.9 L552.2,760.1 L551.6,760.2 L551.0,760.2 L550.3,760.1 L549.5,760.0 L548.7,759.8 L547.8,759.5 L546.8,759.1 L545.7,758.6 L544.6,758.0 L543.4,757.4 L542.2,756.6 L540.9,755.8 L539.5,754.9 L538.0,754.0 L536.5,752.9 L535.0,751.8 L533.4,750.6 L531.7,749.4 L530.0,748.0 L528.3,746.6 L526.5,745.2 L524.7,743.7 L522.8,742.1 L520.9,740.5 L519.0,738.8 L517.1,737.0 L515.1,735.2 L513.1,733.4 L511.1,731.5 L509.1,729.6 L507.0,727.6 L505.0,725.6 L502.9,723.6 L500.9,721.5 L498.8,719.4 L496.8,717.3 L494.7,715.2 L492.7,713.1 L490.7,710.9 L488.7,708.7 L486.7,706.6 L484.7,704.4 L482.8,702.2 L480.9,700.0 L479.0,697.9 L477.2,695.7 L475.4,693.6 L473.6,691.5 L471.9,689.4 L470.2,687.3 L468.6,685.3 L467.0,683.2 L465.5,681.3 L464.0,679.3 L462.6,677.4 L461.3,675.5 L460.0,673.7 L458.8,671.9 L457.6,670.2 L456.5,668.5 L455.5,666.9 L454.5,665.4 L453.7,663.9 L452.9,662.5 L452.1,661.1 L451.5,659.8 L450.9,658.6 L450.4,657.4 L450.0,656.3 L449.6,655.3 L449.4,654.4 L449.2,653.5 L449.1,652.8 L449.1,652.1 L449.1,651.4 L449.3,650.9 L449.5,650.5 L449.8,650.1 L450.2,649.8 L450.6,649.6 L451.2,649.5 L451.8,649.5 L452.5,649.6 L453.3,649.7 L454.1,649.9 L455.0,650.2 L456.0,650.6 L457.1,651.1 L458.2,651.7 L459.4,652.3 L460.6,653.1 L462.0,653.9 L463.3,654.8 L464.8,655.7 L466.3,656.8 L467.8,657.9 L469.4,659.1 L471.1,660.3 L472.8,661.7 L474.5,663.1 L476.3,664.5 L478.1,666.0 L480.0,667.6 L481.9,669.2 L483.8,670.9 L485.7,672.7 L487.7,674.5 L489.7,676.3 L491.7,678.2 L493.7,680.1 L495.8,682.1 L497.8,684.1 L499.9,686.1 L501.9,688.2 L504.0,690.3 L506.0,692.4 L508.1,694.5 L510.1,696.6 L512.1,698.8 L514.1,701.0 L516.1,703.1 L518.1,705.3 L520.0,707.5 L521.9,709.7 L523.8,711.8 L525.6,714.0 L527.4,716.1 L529.2,718.2 L530.9,720.3 L532.6,722.4 L534.2,724.4 L535.8,726.5 L537.3,728.4 L538.8,730.4 L540.2,732.3 L541.5,734.2 L542.8,736.0 L544.0,737.8 L545.2,739.5 L546.3,741.2 L547.3,742.8 L548.3,744.3 L549.1,745.8 L550.0,747.2 L550.7,748.6 L551.3,749.9 L551.9,751.1 L552.4,752.3 L552.8,753.4 L553.2,754.4 L553.4,755.3 L553.6,756.2 L553.7,756.9 L553.7,757.6 L553.7,758.3 L553.5,758.8 L553.3,759.2Z" fill="#808080"/></g>
<path d="M584.4,793.9 L583.1,794.5 L581.4,794.4 L579.5,793.9 L577.7,793.2 L575.8,792.4 L574.1,791.5 L572.3,790.6 L570.6,789.6 L568.8,788.5 L567.1,787.5 L565.5,786.4 L563.8,785.3 L562.1,784.2 L560.5,783.1 L558.8,781.9 L557.2,780.7 L555.6,779.5 L554.0,778.4 L552.4,777.1 L550.8,775.9 L549.2,774.7 L547.6,773.5 L546.1,772.2 L544.5,771.0 L543.0,769.7 L541.4,768.4 L539.9,767.2 L538.3,765.9 L536.8,764.6 L535.3,763.3 L533.8,762.0 L532.3,760.7 L530.7,759.4 L529.2,758.0 L527.7,756.7 L526.2,755.4 L524.8,754.0 L523.3,752.7 L521.8,751.3 L520.3,750.0 L518.9,748.6 L517.4,747.3 L515.9,745.9 L514.5,744.5 L513.0,743.1 L511.6,741.8 L510.1,740.4 L508.7,739.0 L507.3,737.6 L505.8,736.2 L504.4,734.8 L503.0,733.4 L501.6,732.0 L500.2,730.5 L498.7,729.1 L497.3,727.7 L495.9,726.3 L494.5,724.8 L493.1,723.4 L491.8,721.9 L490.4,720.5 L489.0,719.0 L487.6,717.6 L486.2,716.1 L484.9,714.7 L483.5,713.2 L482.1,711.7 L480.8,710.3 L479.4,708.8 L478.1,707.3 L476.8,705.8 L475.4,704.3 L474.1,702.8 L472.8,701.3 L471.5,699.8 L470.1,698.3 L468.8,696.8 L467.5,695.3 L466.2,693.8 L464.9,692.2 L463.6,690.7 L462.4,689.2 L461.1,687.6 L459.8,686.1 L458.5,684.5 L457.3,683.0 L456.0,681.4 L454.8,679.8 L453.5,678.3 L452.3,676.7 L451.1,675.1 L449.8,673.5 L448.6,672.0 L447.4,670.4 L446.2,668.8 L445.0,667.2 L443.8,665.6 L442.6,663.9 L441.4,662.3 L440.3,660.7 L439.1,659.1 L437.9,657.4 L436.8,655.8 L435.6,654.2 L434.5,652.5 L433.4,650.9 L432.3,649.2 L431.2,647.5 L430.1,645.8 L429.0,644.2 L427.9,642.5 L426.8,640.8 L425.8,639.1 L424.8,637.4 L423.7,635.6 L422.7,633.9 L421.7,632.2 L420.7,630.4 L419.8,628.7 L418.9,626.9 L417.9,625.1 L417.1,623.3 L416.2,621.5 L415.4,619.7 L414.7,617.8 L414.1,616.0 L413.7,614.2 L413.8,612.7 L414.7,612.0 L416.1,611.9 L417.9,612.4 L419.7,613.1 L421.5,614.0 L423.3,614.9 L425.0,615.9 L426.8,616.9 L428.5,617.9 L430.2,618.9 L431.9,620.0 L433.6,621.1 L435.2,622.2 L436.9,623.3 L438.5,624.4 L440.2,625.6 L441.8,626.8 L443.4,627.9 L445.0,629.1 L446.7,630.3 L448.3,631.5 L449.9,632.7 L451.4,633.9 L453.0,635.2 L454.6,636.4 L456.2,637.6 L457.7,638.9 L459.3,640.2 L460.8,641.4 L462.4,642.7 L463.9,644.0 L465.4,645.3 L467.0,646.6 L468.5,647.9 L470.0,649.2 L471.5,650.5 L473.0,651.8 L474.5,653.1 L476.0,654.5 L477.5,655.8 L479.0,657.1 L480.5,658.5 L481.9,659.8 L483.4,661.2 L484.9,662.6 L486.3,663.9 L487.8,665.3 L489.2,666.7 L490.7,668.1 L492.1,669.5 L493.6,670.9 L495.0,672.3 L496.4,673.7 L497.8,675.1 L499.3,676.5 L500.7,677.9 L502.1,679.3 L503.5,680.8 L504.9,682.2 L506.3,683.6 L507.7,685.1 L509.0,686.5 L510.4,688.0 L511.8,689.4 L513.2,690.9 L514.5,692.4 L515.9,693.8 L517.3,695.3 L518.6,696.8 L520.0,698.2 L521.3,699.7 L522.6,701.2 L524.0,702.7 L525.3,704.2 L526.6,705.7 L528.0,707.2 L529.3,708.7 L530.6,710.2 L531.9,711.7 L533.2,713.3 L534.5,714.8 L535.8,716.3 L537.1,717.8 L538.4,719.4 L539.7,720.9 L540.9,722.4 L542.2,724.0 L543.5,725.5 L544.7,727.1 L546.0,728.6 L547.3,730.2 L548.5,731.8 L549.7,733.4 L551.0,734.9 L552.2,736.5 L553.4,738.1 L554.6,739.7 L555.9,741.3 L557.1,742.9 L558.3,744.5 L559.4,746.1 L560.6,747.7 L561.8,749.3 L563.0,751.0 L564.1,752.6 L565.3,754.2 L566.4,755.9 L567.5,757.5 L568.7,759.2 L569.8,760.8 L570.9,762.5 L572.0,764.2 L573.0,765.9 L574.1,767.6 L575.2,769.3 L576.2,771.0 L577.2,772.7 L578.2,774.5 L579.2,776.2 L580.1,778.0 L581.0,779.8 L581.9,781.6 L582.7,783.4 L583.5,785.2 L584.2,787.1 L584.8,789.0 L585.2,790.9 L585.1,792.6Z" fill="none" stroke="#808080" stroke-opacity="0.7" stroke-width="1.5"/>
<g opacity="0.85"><path d="M564.3,774.6 L563.8,774.9 L563.3,775.2 L562.6,775.3 L561.9,775.3 L561.0,775.2 L560.1,775.0 L559.1,774.7 L557.9,774.2 L556.7,773.7 L555.4,773.1 L554.1,772.4 L552.6,771.5 L551.1,770.6 L549.5,769.6 L547.8,768.4 L546.0,767.2 L544.2,765.9 L542.3,764.5 L540.3,763.0 L538.3,761.4 L536.2,759.7 L534.1,757.9 L531.9,756.1 L529.7,754.2 L527.4,752.2 L525.1,750.1 L522.7,748.0 L520.3,745.8 L517.9,743.5 L515.4,741.2 L513.0,738.9 L510.5,736.4 L508.0,734.0 L505.5,731.5 L502.9,728.9 L500.4,726.3 L497.9,723.7 L495.4,721.1 L492.9,718.4 L490.4,715.7 L487.9,713.0 L485.4,710.3 L483.0,707.6 L480.6,704.9 L478.2,702.1 L475.9,699.4 L473.6,696.7 L471.3,694.0 L469.1,691.4 L466.9,688.7 L464.8,686.1 L462.7,683.5 L460.7,681.0 L458.8,678.4 L456.9,676.0 L455.1,673.5 L453.4,671.2 L451.7,668.8 L450.1,666.6 L448.6,664.4 L447.2,662.2 L445.9,660.1 L444.6,658.1 L443.4,656.2 L442.3,654.4 L441.3,652.6 L440.4,650.9 L439.6,649.3 L438.9,647.8 L438.3,646.3 L437.8,645.0 L437.3,643.8 L437.0,642.6 L436.8,641.6 L436.7,640.6 L436.6,639.8 L436.7,639.0 L436.9,638.4 L437.1,637.8 L437.5,637.4 L438.0,637.1 L438.5,636.8 L439.2,636.7 L439.9,636.7 L440.8,636.8 L441.7,637.0 L442.7,637.3 L443.8,637.8 L445.1,638.3 L446.3,638.9 L447.7,639.6 L449.2,640.5 L450.7,641.4 L452.3,642.4 L454.0,643.6 L455.8,644.8 L457.6,646.1 L459.5,647.5 L461.5,649.0 L463.5,650.6 L465.6,652.3 L467.7,654.1 L469.9,655.9 L472.1,657.8 L474.4,659.8 L476.7,661.9 L479.1,664.0 L481.5,666.2 L483.9,668.5 L486.3,670.8 L488.8,673.1 L491.3,675.6 L493.8,678.0 L496.3,680.5 L498.8,683.1 L501.4,685.7 L503.9,688.3 L506.4,690.9 L508.9,693.6 L511.4,696.3 L513.9,699.0 L516.3,701.7 L518.8,704.4 L521.2,707.1 L523.6,709.9 L525.9,712.6 L528.2,715.3 L530.5,718.0 L532.7,720.6 L534.9,723.3 L537.0,725.9 L539.0,728.5 L541.0,731.0 L543.0,733.6 L544.9,736.0 L546.7,738.5 L548.4,740.8 L550.1,743.2 L551.7,745.4 L553.2,747.6 L554.6,749.8 L555.9,751.9 L557.2,753.9 L558.4,755.8 L559.4,757.6 L560.4,759.4 L561.3,761.1 L562.2,762.7 L562.9,764.2 L563.5,765.7 L564.0,767.0 L564.4,768.2 L564.8,769.4 L565.0,770.4 L565.1,771.4 L565.2,772.2 L565.1,773.0 L564.9,773.6 L564.7,774.2Z" fill="#f3aea7"/><path d="M541.8,746.9 L541.5,747.1 L541.1,747.2 L540.7,747.3 L540.3,747.3 L539.8,747.3 L539.2,747.2 L538.5,747.0 L537.9,746.7 L537.1,746.4 L536.3,746.0 L535.5,745.6 L534.6,745.1 L533.6,744.5 L532.6,743.9 L531.6,743.2 L530.5,742.4 L529.4,741.6 L528.2,740.8 L527.0,739.9 L525.7,738.9 L524.4,737.9 L523.1,736.8 L521.8,735.7 L520.4,734.5 L519.0,733.3 L517.5,732.0 L516.1,730.7 L514.6,729.4 L513.1,728.0 L511.6,726.6 L510.1,725.1 L508.5,723.7 L507.0,722.2 L505.4,720.6 L503.9,719.1 L502.3,717.5 L500.8,715.9 L499.2,714.3 L497.6,712.6 L496.1,711.0 L494.6,709.3 L493.0,707.7 L491.5,706.0 L490.1,704.4 L488.6,702.7 L487.1,701.0 L485.7,699.4 L484.3,697.7 L482.9,696.1 L481.6,694.5 L480.3,692.9 L479.0,691.3 L477.8,689.7 L476.6,688.2 L475.4,686.7 L474.3,685.2 L473.2,683.7 L472.2,682.3 L471.2,680.9 L470.3,679.6 L469.4,678.3 L468.6,677.0 L467.8,675.8 L467.1,674.6 L466.4,673.4 L465.8,672.3 L465.2,671.3 L464.7,670.3 L464.3,669.4 L463.9,668.5 L463.6,667.7 L463.3,666.9 L463.1,666.2 L462.9,665.6 L462.9,665.0 L462.8,664.5 L462.9,664.0 L463.0,663.6 L463.2,663.3 L463.4,663.0 L463.7,662.8 L464.0,662.7 L464.4,662.6 L464.9,662.6 L465.4,662.6 L466.0,662.7 L466.6,662.9 L467.3,663.2 L468.0,663.5 L468.8,663.9 L469.7,664.3 L470.6,664.8 L471.5,665.4 L472.5,666.0 L473.6,666.7 L474.7,667.5 L475.8,668.3 L477.0,669.1 L478.2,670.0 L479.4,671.0 L480.7,672.0 L482.0,673.1 L483.4,674.2 L484.8,675.4 L486.2,676.6 L487.6,677.9 L489.1,679.2 L490.5,680.5 L492.0,681.9 L493.6,683.3 L495.1,684.8 L496.6,686.2 L498.2,687.7 L499.7,689.3 L501.3,690.8 L502.8,692.4 L504.4,694.0 L506.0,695.6 L507.5,697.3 L509.1,698.9 L510.6,700.6 L512.1,702.2 L513.6,703.9 L515.1,705.5 L516.6,707.2 L518.0,708.9 L519.4,710.5 L520.8,712.2 L522.2,713.8 L523.6,715.4 L524.9,717.0 L526.1,718.6 L527.4,720.2 L528.6,721.7 L529.7,723.2 L530.9,724.7 L531.9,726.2 L533.0,727.6 L533.9,729.0 L534.9,730.3 L535.8,731.6 L536.6,732.9 L537.4,734.1 L538.1,735.3 L538.8,736.5 L539.4,737.6 L539.9,738.6 L540.4,739.6 L540.9,740.5 L541.3,741.4 L541.6,742.2 L541.9,743.0 L542.1,743.7 L542.2,744.3 L542.3,744.9 L542.3,745.4 L542.3,745.9 L542.2,746.3 L542.0,746.6Z" fill="#E03424"/></g>
<path d="M564.3,774.6 L563.8,774.9 L563.3,775.2 L562.6,775.3 L561.9,775.3 L561.0,775.2 L560.1,775.0 L559.1,774.7 L557.9,774.2 L556.7,773.7 L555.4,773.1 L554.1,772.4 L552.6,771.5 L551.1,770.6 L549.5,769.6 L547.8,768.4 L546.0,767.2 L544.2,765.9 L542.3,764.5 L540.3,763.0 L538.3,761.4 L536.2,759.7 L534.1,757.9 L531.9,756.1 L529.7,754.2 L527.4,752.2 L525.1,750.1 L522.7,748.0 L520.3,745.8 L517.9,743.5 L515.4,741.2 L513.0,738.9 L510.5,736.4 L508.0,734.0 L505.5,731.5 L502.9,728.9 L500.4,726.3 L497.9,723.7 L495.4,721.1 L492.9,718.4 L490.4,715.7 L487.9,713.0 L485.4,710.3 L483.0,707.6 L480.6,704.9 L478.2,702.1 L475.9,699.4 L473.6,696.7 L471.3,694.0 L469.1,691.4 L466.9,688.7 L464.8,686.1 L462.7,683.5 L460.7,681.0 L458.8,678.4 L456.9,676.0 L455.1,673.5 L453.4,671.2 L451.7,668.8 L450.1,666.6 L448.6,664.4 L447.2,662.2 L445.9,660.1 L444.6,658.1 L443.4,656.2 L442.3,654.4 L441.3,652.6 L440.4,650.9 L439.6,649.3 L438.9,647.8 L438.3,646.3 L437.8,645.0 L437.3,643.8 L437.0,642.6 L436.8,641.6 L436.7,640.6 L436.6,639.8 L436.7,639.0 L436.9,638.4 L437.1,637.8 L437.5,637.4 L438.0,637.1 L438.5,636.8 L439.2,636.7 L439.9,636.7 L440.8,636.8 L441.7,637.0 L442.7,637.3 L443.8,637.8 L445.1,638.3 L446.3,638.9 L447.7,639.6 L449.2,640.5 L450.7,641.4 L452.3,642.4 L454.0,643.6 L455.8,644.8 L457.6,646.1 L459.5,647.5 L461.5,649.0 L463.5,650.6 L465.6,652.3 L467.7,654.1 L469.9,655.9 L472.1,657.8 L474.4,659.8 L476.7,661.9 L479.1,664.0 L481.5,666.2 L483.9,668.5 L486.3,670.8 L488.8,673.1 L491.3,675.6 L493.8,678.0 L496.3,680.5 L498.8,683.1 L501.4,685.7 L503.9,688.3 L506.4,690.9 L508.9,693.6 L511.4,696.3 L513.9,699.0 L516.3,701.7 L518.8,704.4 L521.2,707.1 L523.6,709.9 L525.9,712.6 L528.2,715.3 L530.5,718.0 L532.7,720.6 L534.9,723.3 L537.0,725.9 L539.0,728.5 L541.0,731.0 L543.0,733.6 L544.9,736.0 L546.7,738.5 L548.4,740.8 L550.1,743.2 L551.7,745.4 L553.2,747.6 L554.6,749.8 L555.9,751.9 L557.2,753.9 L558.4,755.8 L559.4,757.6 L560.4,759.4 L561.3,761.1 L562.2,762.7 L562.9,764.2 L563.5,765.7 L564.0,767.0 L564.4,768.2 L564.8,769.4 L565.0,770.4 L565.1,771.4 L565.2,772.2 L565.1,773.0 L564.9,773.6 L564.7,774.2Z" fill="none" stroke="#E03424" stroke-opacity="0.5" stroke-width="1.5"/>
<g opacity="0.85"><path d="M537.7,748.6 L537.4,748.8 L537.0,749.0 L536.6,749.0 L536.1,749.0 L535.6,749.0 L535.0,748.9 L534.3,748.7 L533.6,748.4 L532.9,748.1 L532.1,747.7 L531.3,747.2 L530.4,746.7 L529.5,746.1 L528.5,745.5 L527.5,744.7 L526.5,744.0 L525.4,743.1 L524.3,742.2 L523.1,741.3 L522.0,740.3 L520.8,739.2 L519.5,738.1 L518.3,737.0 L517.0,735.8 L515.7,734.5 L514.3,733.2 L513.0,731.8 L511.6,730.5 L510.2,729.0 L508.9,727.6 L507.5,726.1 L506.0,724.5 L504.6,723.0 L503.2,721.4 L501.8,719.8 L500.4,718.1 L499.0,716.5 L497.6,714.8 L496.2,713.1 L494.8,711.4 L493.4,709.7 L492.0,708.0 L490.7,706.3 L489.3,704.6 L488.0,702.8 L486.7,701.1 L485.5,699.4 L484.2,697.7 L483.0,696.0 L481.8,694.3 L480.7,692.7 L479.6,691.0 L478.5,689.4 L477.4,687.8 L476.4,686.3 L475.5,684.7 L474.6,683.2 L473.7,681.8 L472.8,680.3 L472.0,678.9 L471.3,677.6 L470.6,676.2 L470.0,675.0 L469.4,673.8 L468.8,672.6 L468.3,671.5 L467.9,670.4 L467.5,669.4 L467.2,668.4 L466.9,667.5 L466.7,666.6 L466.5,665.9 L466.4,665.1 L466.3,664.5 L466.3,663.8 L466.4,663.3 L466.5,662.8 L466.6,662.4 L466.9,662.1 L467.1,661.8 L467.5,661.6 L467.8,661.4 L468.3,661.4 L468.8,661.4 L469.3,661.4 L469.9,661.5 L470.5,661.7 L471.2,662.0 L472.0,662.3 L472.7,662.7 L473.6,663.2 L474.5,663.7 L475.4,664.3 L476.3,664.9 L477.3,665.7 L478.4,666.4 L479.4,667.3 L480.6,668.2 L481.7,669.1 L482.9,670.1 L484.1,671.2 L485.3,672.3 L486.6,673.4 L487.9,674.6 L489.2,675.9 L490.5,677.2 L491.9,678.6 L493.2,679.9 L494.6,681.4 L496.0,682.8 L497.4,684.3 L498.8,685.9 L500.2,687.4 L501.6,689.0 L503.1,690.6 L504.5,692.3 L505.9,693.9 L507.3,695.6 L508.7,697.3 L510.1,699.0 L511.5,700.7 L512.8,702.4 L514.2,704.1 L515.5,705.8 L516.8,707.6 L518.1,709.3 L519.4,711.0 L520.6,712.7 L521.8,714.4 L523.0,716.1 L524.2,717.7 L525.3,719.4 L526.4,721.0 L527.4,722.6 L528.4,724.1 L529.4,725.7 L530.3,727.2 L531.2,728.6 L532.0,730.1 L532.8,731.5 L533.6,732.8 L534.2,734.2 L534.9,735.4 L535.5,736.6 L536.0,737.8 L536.5,738.9 L537.0,740.0 L537.4,741.0 L537.7,742.0 L538.0,742.9 L538.2,743.8 L538.4,744.5 L538.5,745.3 L538.5,745.9 L538.5,746.6 L538.5,747.1 L538.4,747.6 L538.2,748.0 L538.0,748.3Z" fill="#99c5f8"/><path d="M522.8,731.6 L522.6,731.7 L522.4,731.8 L522.1,731.8 L521.9,731.8 L521.6,731.7 L521.2,731.6 L520.9,731.5 L520.5,731.3 L520.0,731.1 L519.6,730.8 L519.1,730.5 L518.6,730.2 L518.1,729.8 L517.5,729.4 L516.9,728.9 L516.3,728.5 L515.7,727.9 L515.0,727.4 L514.3,726.8 L513.7,726.1 L512.9,725.5 L512.2,724.8 L511.5,724.0 L510.7,723.3 L509.9,722.5 L509.2,721.7 L508.4,720.9 L507.6,720.0 L506.7,719.1 L505.9,718.2 L505.1,717.3 L504.3,716.3 L503.4,715.4 L502.6,714.4 L501.7,713.4 L500.9,712.4 L500.0,711.4 L499.2,710.3 L498.4,709.3 L497.5,708.3 L496.7,707.2 L495.9,706.2 L495.1,705.1 L494.3,704.0 L493.5,703.0 L492.7,701.9 L492.0,700.9 L491.2,699.9 L490.5,698.8 L489.8,697.8 L489.1,696.8 L488.4,695.8 L487.8,694.8 L487.2,693.8 L486.6,692.9 L486.0,692.0 L485.4,691.0 L484.9,690.2 L484.4,689.3 L483.9,688.4 L483.4,687.6 L483.0,686.8 L482.6,686.1 L482.2,685.3 L481.9,684.6 L481.6,684.0 L481.3,683.3 L481.1,682.7 L480.9,682.1 L480.7,681.6 L480.5,681.1 L480.4,680.6 L480.3,680.2 L480.3,679.8 L480.3,679.5 L480.3,679.1 L480.3,678.9 L480.4,678.6 L480.5,678.5 L480.7,678.3 L480.9,678.2 L481.1,678.1 L481.3,678.1 L481.6,678.1 L481.9,678.2 L482.2,678.3 L482.6,678.4 L483.0,678.6 L483.4,678.8 L483.9,679.1 L484.4,679.4 L484.9,679.7 L485.4,680.1 L486.0,680.5 L486.6,681.0 L487.2,681.4 L487.8,682.0 L488.4,682.5 L489.1,683.1 L489.8,683.8 L490.5,684.4 L491.2,685.1 L492.0,685.9 L492.7,686.6 L493.5,687.4 L494.3,688.2 L495.1,689.0 L495.9,689.9 L496.7,690.8 L497.5,691.7 L498.4,692.6 L499.2,693.6 L500.0,694.5 L500.9,695.5 L501.7,696.5 L502.6,697.5 L503.4,698.5 L504.3,699.6 L505.1,700.6 L505.9,701.6 L506.7,702.7 L507.6,703.7 L508.4,704.8 L509.2,705.9 L509.9,706.9 L510.7,708.0 L511.5,709.0 L512.2,710.0 L512.9,711.1 L513.7,712.1 L514.3,713.1 L515.0,714.1 L515.7,715.1 L516.3,716.1 L516.9,717.0 L517.5,717.9 L518.1,718.9 L518.6,719.7 L519.1,720.6 L519.6,721.5 L520.0,722.3 L520.5,723.1 L520.9,723.8 L521.2,724.6 L521.6,725.3 L521.9,725.9 L522.1,726.6 L522.4,727.2 L522.6,727.8 L522.8,728.3 L522.9,728.8 L523.0,729.3 L523.1,729.7 L523.2,730.1 L523.2,730.4 L523.2,730.8 L523.1,731.0 L523.0,731.3 L522.9,731.4Z" fill="#006FED"/></g>
<path d="M537.7,748.6 L537.4,748.8 L537.0,749.0 L536.6,749.0 L536.1,749.0 L535.6,749.0 L535.0,748.9 L534.3,748.7 L533.6,748.4 L532.9,748.1 L532.1,747.7 L531.3,747.2 L530.4,746.7 L529.5,746.1 L528.5,745.5 L527.5,744.7 L526.5,744.0 L525.4,743.1 L524.3,742.2 L523.1,741.3 L522.0,740.3 L520.8,739.2 L519.5,738.1 L518.3,737.0 L517.0,735.8 L515.7,734.5 L514.3,733.2 L513.0,731.8 L511.6,730.5 L510.2,729.0 L508.9,727.6 L507.5,726.1 L506.0,724.5 L504.6,723.0 L503.2,721.4 L501.8,719.8 L500.4,718.1 L499.0,716.5 L497.6,714.8 L496.2,713.1 L494.8,711.4 L493.4,709.7 L492.0,708.0 L490.7,706.3 L489.3,704.6 L488.0,702.8 L486.7,701.1 L485.5,699.4 L484.2,697.7 L483.0,696.0 L481.8,694.3 L480.7,692.7 L479.6,691.0 L478.5,689.4 L477.4,687.8 L476.4,686.3 L475.5,684.7 L474.6,683.2 L473.7,681.8 L472.8,680.3 L472.0,678.9 L471.3,677.6 L470.6,676.2 L470.0,675.0 L469.4,673.8 L468.8,672.6 L468.3,671.5 L467.9,670.4 L467.5,669.4 L467.2,668.4 L466.9,667.5 L466.7,666.6 L466.5,665.9 L466.4,665.1 L466.3,664.5 L466.3,663.8 L466.4,663.3 L466.5,662.8 L466.6,662.4 L466.9,662.1 L467.1,661.8 L467.5,661.6 L467.8,661.4 L468.3,661.4 L468.8,661.4 L469.3,661.4 L469.9,661.5 L470.5,661.7 L471.2,662.0 L472.0,662.3 L472.7,662.7 L473.6,663.2 L474.5,663.7 L475.4,664.3 L476.3,664.9 L477.3,665.7 L478.4,666.4 L479.4,667.3 L480.6,668.2 L481.7,669.1 L482.9,670.1 L484.1,671.2 L485.3,672.3 L486.6,673.4 L487.9,674.6 L489.2,675.9 L490.5,677.2 L491.9,678.6 L493.2,679.9 L494.6,681.4 L496.0,682.8 L497.4,684.3 L498.8,685.9 L500.2,687.4 L501.6,689.0 L503.1,690.6 L504.5,692.3 L505.9,693.9 L507.3,695.6 L508.7,697.3 L510.1,699.0 L511.5,700.7 L512.8,702.4 L514.2,704.1 L515.5,705.8 L516.8,707.6 L518.1,709.3 L519.4,711.0 L520.6,712.7 L521.8,714.4 L523.0,716.1 L524.2,717.7 L525.3,719.4 L526.4,721.0 L527.4,722.6 L528.4,724.1 L529.4,725.7 L530.3,727.2 L531.2,728.6 L532.0,730.1 L532.8,731.5 L533.6,732.8 L534.2,734.2 L534.9,735.4 L535.5,736.6 L536.0,737.8 L536.5,738.9 L537.0,740.0 L537.4,741.0 L537.7,742.0 L538.0,742.9 L538.2,743.8 L538.4,744.5 L538.5,745.3 L538.5,745.9 L538.5,746.6 L538.5,747.1 L538.4,747.6 L538.2,748.0 L538.0,748.3Z" fill="none" stroke="#006FED" stroke-opacity="0.5" stroke-width="1.5"/>
<clipPath id="c98_0"><rect x="98.5" y="1.05" width="268.4" height="277.65"/></clipPath>
<path d="M98.5,278.53 L99.4,278.51 L100.3,278.50 L101.2,278.48 L102.1,278.47 L103.0,278.45 L103.9,278.43 L104.8,278.41 L105.7,278.39 L106.6,278.37 L107.5,278.34 L108.4,278.32 L109.3,278.29 L110.2,278.26 L111.1,278.23 L112.0,278.19 L112.9,278.16 L113.8,278.12 L114.7,278.08 L115.6,278.03 L116.5,277.99 L117.4,277.93 L118.2,277.88 L119.1,277.82 L120.0,277.76 L120.9,277.70 L121.8,277.63 L122.7,277.55 L123.6,277.47 L124.5,277.39 L125.4,277.30 L126.3,277.20 L127.2,277.10 L128.1,277.00 L129.0,276.88 L129.9,276.76 L130.8,276.63 L131.7,276.49 L132.6,276.35 L133.5,276.19 L134.4,276.03 L135.3,275.85 L136.2,275.67 L137.1,275.47 L138.0,275.27 L138.9,275.05 L139.8,274.81 L140.7,274.57 L141.6,274.31 L142.5,274.03 L143.4,273.74 L144.3,273.43 L145.2,273.11 L146.1,272.77 L147.0,272.40 L147.9,272.02 L148.8,271.62 L149.7,271.20 L150.6,270.75 L151.5,270.28 L152.4,269.78 L153.3,269.26 L154.2,268.71 L155.1,268.13 L156.0,267.53 L156.8,266.89 L157.7,266.22 L158.6,265.52 L159.5,264.78 L160.4,264.01 L161.3,263.20 L162.2,262.35 L163.1,261.46 L164.0,260.54 L164.9,259.56 L165.8,258.55 L166.7,257.49 L167.6,256.38 L168.5,255.22 L169.4,254.01 L170.3,252.75 L171.2,251.44 L172.1,250.07 L173.0,248.65 L173.9,247.17 L174.8,245.63 L175.7,244.03 L176.6,242.37 L177.5,240.65 L178.4,238.86 L179.3,237.01 L180.2,235.09 L181.1,233.10 L182.0,231.05 L182.9,228.92 L183.8,226.72 L184.7,224.45 L185.6,222.11 L186.5,219.70 L187.4,217.22 L188.3,214.66 L189.2,212.02 L190.1,209.31 L191.0,206.53 L191.9,203.68 L192.8,200.75 L193.7,197.75 L194.5,194.67 L195.4,191.53 L196.3,188.31 L197.2,185.03 L198.1,181.68 L199.0,178.26 L199.9,174.78 L200.8,171.24 L201.7,167.64 L202.6,163.99 L203.5,160.28 L204.4,156.52 L205.3,152.71 L206.2,148.86 L207.1,144.97 L208.0,141.05 L208.9,137.09 L209.8,133.11 L210.7,129.11 L211.6,125.09 L212.5,121.06 L213.4,117.03 L214.3,112.99 L215.2,108.97 L216.1,104.95 L217.0,100.96 L217.9,97.00 L218.8,93.06 L219.7,89.17 L220.6,85.32 L221.5,81.53 L222.4,77.81 L223.3,74.15 L224.2,70.57 L225.1,67.07 L226.0,63.67 L226.9,60.37 L227.8,57.17 L228.7,54.10 L229.6,51.14 L230.5,48.32 L231.4,45.63 L232.3,43.09 L233.1,40.70 L234.0,38.47 L234.9,36.40 L235.8,34.51 L236.7,32.79 L237.6,31.26 L238.5,29.91 L239.4,28.76 L240.3,27.81 L241.2,27.06 L242.1,26.51 L243.0,26.18 L243.9,26.05 L244.8,26.12 L245.7,26.35 L246.6,26.74 L247.5,27.29 L248.4,28.00 L249.3,28.88 L250.2,29.91 L251.1,31.11 L252.0,32.46 L252.9,33.97 L253.8,35.63 L254.7,37.44 L255.6,39.40 L256.5,41.50 L257.4,43.75 L258.3,46.13 L259.2,48.65 L260.1,51.29 L261.0,54.06 L261.9,56.96 L262.8,59.96 L263.7,63.08 L264.6,66.31 L265.5,69.63 L266.4,73.05 L267.3,76.56 L268.2,80.15 L269.1,83.81 L270.0,87.55 L270.9,91.35 L271.7,95.22 L272.6,99.13 L273.5,103.09 L274.4,107.09 L275.3,111.12 L276.2,115.18 L277.1,119.27 L278.0,123.36 L278.9,127.47 L279.8,131.58 L280.7,135.69 L281.6,139.79 L282.5,143.88 L283.4,147.95 L284.3,152.00 L285.2,156.01 L286.1,159.99 L287.0,163.94 L287.9,167.84 L288.8,171.69 L289.7,175.49 L290.6,179.24 L291.5,182.93 L292.4,186.56 L293.3,190.12 L294.2,193.61 L295.1,197.04 L296.0,200.39 L296.9,203.66 L297.8,206.86 L298.7,209.98 L299.6,213.02 L300.5,215.98 L301.4,218.85 L302.3,221.65 L303.2,224.36 L304.1,226.98 L305.0,229.52 L305.9,231.98 L306.8,234.35 L307.7,236.64 L308.6,238.85 L309.4,240.97 L310.3,243.01 L311.2,244.98 L312.1,246.86 L313.0,248.66 L313.9,250.39 L314.8,252.05 L315.7,253.62 L316.6,255.13 L317.5,256.57 L318.4,257.94 L319.3,259.24 L320.2,260.48 L321.1,261.65 L322.0,262.77 L322.9,263.82 L323.8,264.82 L324.7,265.77 L325.6,266.66 L326.5,267.50 L327.4,268.29 L328.3,269.04 L329.2,269.74 L330.1,270.40 L331.0,271.01 L331.9,271.59 L332.8,272.14 L333.7,272.64 L334.6,273.11 L335.5,273.56 L336.4,273.97 L337.3,274.35 L338.2,274.71 L339.1,275.04 L340.0,275.34 L340.9,275.63 L341.8,275.89 L342.7,276.13 L343.6,276.36 L344.5,276.57 L345.4,276.76 L346.3,276.93 L347.2,277.09 L348.0,277.24 L348.9,277.38 L349.8,277.50 L350.7,277.62 L351.6,277.72 L352.5,277.82 L353.4,277.90 L354.3,277.98 L355.2,278.06 L356.1,278.12 L357.0,278.18 L357.9,278.23 L358.8,278.28 L359.7,278.33 L360.6,278.37 L361.5,278.40 L362.4,278.43 L363.3,278.46 L364.2,278.49 L365.1,278.51 L366.0,278.53 L366.9,278.55" fill="none" stroke="#808080" stroke-width="1.5" stroke-linejoin="round" clip-path="url(#c98_0)"/>
<path d="M98.5,278.70 L99.4,278.70 L100.3,278.70 L101.2,278.70 L102.1,278.70 L103.0,278.70 L103.9,278.70 L104.8,278.69 L105.7,278.69 L106.6,278.69 L107.5,278.69 L108.4,278.69 L109.3,278.69 L110.2,278.69 L111.1,278.69 L112.0,278.69 L112.9,278.68 L113.8,278.68 L114.7,278.68 L115.6,278.68 L116.5,278.68 L117.4,278.67 L118.2,278.67 L119.1,278.67 L120.0,278.66 L120.9,278.66 L121.8,278.65 L122.7,278.65 L123.6,278.64 L124.5,278.63 L125.4,278.63 L126.3,278.62 L127.2,278.61 L128.1,278.60 L129.0,278.59 L129.9,278.57 L130.8,278.56 L131.7,278.54 L132.6,278.52 L133.5,278.51 L134.4,278.48 L135.3,278.46 L136.2,278.43 L137.1,278.40 L138.0,278.37 L138.9,278.34 L139.8,278.30 L140.7,278.26 L141.6,278.21 L142.5,278.16 L143.4,278.10 L144.3,278.04 L145.2,277.97 L146.1,277.90 L147.0,277.82 L147.9,277.73 L148.8,277.63 L149.7,277.53 L150.6,277.41 L151.5,277.29 L152.4,277.15 L153.3,277.00 L154.2,276.84 L155.1,276.66 L156.0,276.47 L156.8,276.26 L157.7,276.03 L158.6,275.79 L159.5,275.52 L160.4,275.24 L161.3,274.93 L162.2,274.59 L163.1,274.23 L164.0,273.84 L164.9,273.42 L165.8,272.97 L166.7,272.48 L167.6,271.96 L168.5,271.39 L169.4,270.79 L170.3,270.15 L171.2,269.45 L172.1,268.71 L173.0,267.92 L173.9,267.08 L174.8,266.17 L175.7,265.21 L176.6,264.19 L177.5,263.10 L178.4,261.94 L179.3,260.71 L180.2,259.40 L181.1,258.02 L182.0,256.56 L182.9,255.01 L183.8,253.37 L184.7,251.65 L185.6,249.83 L186.5,247.91 L187.4,245.89 L188.3,243.77 L189.2,241.55 L190.1,239.22 L191.0,236.77 L191.9,234.22 L192.8,231.55 L193.7,228.77 L194.5,225.86 L195.4,222.84 L196.3,219.70 L197.2,216.44 L198.1,213.05 L199.0,209.55 L199.9,205.93 L200.8,202.19 L201.7,198.33 L202.6,194.35 L203.5,190.26 L204.4,186.06 L205.3,181.76 L206.2,177.35 L207.1,172.85 L208.0,168.25 L208.9,163.57 L209.8,158.80 L210.7,153.97 L211.6,149.06 L212.5,144.10 L213.4,139.10 L214.3,134.05 L215.2,128.98 L216.1,123.88 L217.0,118.78 L217.9,113.69 L218.8,108.61 L219.7,103.56 L220.6,98.55 L221.5,93.60 L222.4,88.72 L223.3,83.92 L224.2,79.22 L225.1,74.63 L226.0,70.16 L226.9,65.84 L227.8,61.67 L228.7,57.66 L229.6,53.84 L230.5,50.21 L231.4,46.80 L232.3,43.60 L233.1,40.64 L234.0,37.92 L234.9,35.46 L235.8,33.26 L236.7,31.35 L237.6,29.71 L238.5,28.37 L239.4,27.33 L240.3,26.59 L241.2,26.17 L242.1,26.05 L243.0,26.19 L243.9,26.53 L244.8,27.08 L245.7,27.85 L246.6,28.83 L247.5,30.02 L248.4,31.43 L249.3,33.04 L250.2,34.86 L251.1,36.89 L252.0,39.12 L252.9,41.55 L253.8,44.17 L254.7,46.98 L255.6,49.98 L256.5,53.15 L257.4,56.50 L258.3,60.01 L259.2,63.68 L260.1,67.51 L261.0,71.47 L261.9,75.57 L262.8,79.79 L263.7,84.13 L264.6,88.57 L265.5,93.12 L266.4,97.74 L267.3,102.45 L268.2,107.22 L269.1,112.05 L270.0,116.92 L270.9,121.84 L271.7,126.77 L272.6,131.72 L273.5,136.68 L274.4,141.63 L275.3,146.57 L276.2,151.48 L277.1,156.36 L278.0,161.20 L278.9,165.99 L279.8,170.72 L280.7,175.38 L281.6,179.97 L282.5,184.48 L283.4,188.90 L284.3,193.23 L285.2,197.45 L286.1,201.57 L287.0,205.59 L287.9,209.49 L288.8,213.27 L289.7,216.94 L290.6,220.48 L291.5,223.90 L292.4,227.19 L293.3,230.36 L294.2,233.40 L295.1,236.31 L296.0,239.10 L296.9,241.76 L297.8,244.29 L298.7,246.70 L299.6,248.99 L300.5,251.16 L301.4,253.22 L302.3,255.15 L303.2,256.98 L304.1,258.70 L305.0,260.31 L305.9,261.83 L306.8,263.24 L307.7,264.56 L308.6,265.79 L309.4,266.94 L310.3,268.00 L311.2,268.98 L312.1,269.89 L313.0,270.73 L313.9,271.51 L314.8,272.22 L315.7,272.87 L316.6,273.46 L317.5,274.01 L318.4,274.51 L319.3,274.96 L320.2,275.37 L321.1,275.74 L322.0,276.07 L322.9,276.37 L323.8,276.65 L324.7,276.89 L325.6,277.11 L326.5,277.30 L327.4,277.48 L328.3,277.63 L329.2,277.77 L330.1,277.89 L331.0,278.00 L331.9,278.09 L332.8,278.17 L333.7,278.25 L334.6,278.31 L335.5,278.37 L336.4,278.41 L337.3,278.46 L338.2,278.49 L339.1,278.52 L340.0,278.55 L340.9,278.57 L341.8,278.59 L342.7,278.61 L343.6,278.63 L344.5,278.64 L345.4,278.65 L346.3,278.66 L347.2,278.66 L348.0,278.67 L348.9,278.68 L349.8,278.68 L350.7,278.68 L351.6,278.69 L352.5,278.69 L353.4,278.69 L354.3,278.69 L355.2,278.69 L356.1,278.70 L357.0,278.70 L357.9,278.70 L358.8,278.70 L359.7,278.70 L360.6,278.70 L361.5,278.70 L362.4,278.70 L363.3,278.70 L364.2,278.70 L365.1,278.70 L366.0,278.70 L366.9,278.70" fill="none" stroke="#E03424" stroke-width="1.5" stroke-linejoin="round" clip-path="url(#c98_0)"/>
<path d="M98.5,278.70 L99.4,278.70 L100.3,278.70 L101.2,278.70 L102.1,278.70 L103.0,278.70 L103.9,278.70 L104.8,278.70 L105.7,278.70 L106.6,278.70 L107.5,278.70 L108.4,278.70 L109.3,278.70 L110.2,278.70 L111.1,278.70 L112.0,278.70 L112.9,278.70 L113.8,278.70 L114.7,278.70 L115.6,278.70 L116.5,278.70 L117.4,278.70 L118.2,278.70 L119.1,278.70 L120.0,278.70 L120.9,278.70 L121.8,278.70 L122.7,278.70 L123.6,278.70 L124.5,278.70 L125.4,278.70 L126.3,278.70 L127.2,278.70 L128.1,278.70 L129.0,278.70 L129.9,278.70 L130.8,278.70 L131.7,278.70 L132.6,278.70 L133.5,278.70 L134.4,278.70 L135.3,278.70 L136.2,278.70 L137.1,278.70 L138.0,278.70 L138.9,278.70 L139.8,278.70 L140.7,278.70 L141.6,278.70 L142.5,278.70 L143.4,278.70 L144.3,278.70 L145.2,278.70 L146.1,278.70 L147.0,278.70 L147.9,278.70 L148.8,278.70 L149.7,278.70 L150.6,278.70 L151.5,278.70 L152.4,278.69 L153.3,278.69 L154.2,278.69 L155.1,278.69 L156.0,278.69 L156.8,278.68 L157.7,278.68 L158.6,278.68 L159.5,278.67 L160.4,278.67 L161.3,278.66 L162.2,278.65 L163.1,278.65 L164.0,278.64 L164.9,278.62 L165.8,278.61 L166.7,278.59 L167.6,278.57 L168.5,278.55 L169.4,278.52 L170.3,278.49 L171.2,278.45 L172.1,278.41 L173.0,278.36 L173.9,278.30 L174.8,278.24 L175.7,278.16 L176.6,278.07 L177.5,277.97 L178.4,277.85 L179.3,277.71 L180.2,277.56 L181.1,277.38 L182.0,277.18 L182.9,276.95 L183.8,276.68 L184.7,276.39 L185.6,276.05 L186.5,275.67 L187.4,275.24 L188.3,274.76 L189.2,274.22 L190.1,273.61 L191.0,272.94 L191.9,272.18 L192.8,271.34 L193.7,270.40 L194.5,269.37 L195.4,268.22 L196.3,266.95 L197.2,265.55 L198.1,264.02 L199.0,262.34 L199.9,260.50 L200.8,258.49 L201.7,256.30 L202.6,253.93 L203.5,251.36 L204.4,248.58 L205.3,245.58 L206.2,242.35 L207.1,238.89 L208.0,235.19 L208.9,231.24 L209.8,227.04 L210.7,222.58 L211.6,217.86 L212.5,212.89 L213.4,207.65 L214.3,202.16 L215.2,196.41 L216.1,190.43 L217.0,184.21 L217.9,177.77 L218.8,171.12 L219.7,164.29 L220.6,157.29 L221.5,150.14 L222.4,142.87 L223.3,135.51 L224.2,128.10 L225.1,120.65 L226.0,113.22 L226.9,105.83 L227.8,98.52 L228.7,91.34 L229.6,84.33 L230.5,77.53 L231.4,70.98 L232.3,64.72 L233.1,58.80 L234.0,53.26 L234.9,48.13 L235.8,43.46 L236.7,39.29 L237.6,35.63 L238.5,32.53 L239.4,30.01 L240.3,28.10 L241.2,26.80 L242.1,26.14 L243.0,26.13 L243.9,26.79 L244.8,28.12 L245.7,30.09 L246.6,32.69 L247.5,35.88 L248.4,39.63 L249.3,43.91 L250.2,48.68 L251.1,53.89 L252.0,59.51 L252.9,65.48 L253.8,71.78 L254.7,78.34 L255.6,85.13 L256.5,92.11 L257.4,99.23 L258.3,106.45 L259.2,113.73 L260.1,121.03 L261.0,128.32 L261.9,135.57 L262.8,142.74 L263.7,149.80 L264.6,156.74 L265.5,163.53 L266.4,170.14 L267.3,176.57 L268.2,182.79 L269.1,188.80 L270.0,194.58 L270.9,200.13 L271.7,205.44 L272.6,210.51 L273.5,215.34 L274.4,219.92 L275.3,224.26 L276.2,228.36 L277.1,232.23 L278.0,235.87 L278.9,239.28 L279.8,242.48 L280.7,245.47 L281.6,248.26 L282.5,250.85 L283.4,253.26 L284.3,255.49 L285.2,257.56 L286.1,259.47 L287.0,261.24 L287.9,262.86 L288.8,264.35 L289.7,265.71 L290.6,266.97 L291.5,268.11 L292.4,269.16 L293.3,270.11 L294.2,270.97 L295.1,271.76 L296.0,272.48 L296.9,273.12 L297.8,273.71 L298.7,274.24 L299.6,274.72 L300.5,275.15 L301.4,275.54 L302.3,275.88 L303.2,276.20 L304.1,276.48 L305.0,276.73 L305.9,276.95 L306.8,277.15 L307.7,277.33 L308.6,277.49 L309.4,277.63 L310.3,277.76 L311.2,277.87 L312.1,277.97 L313.0,278.06 L313.9,278.13 L314.8,278.20 L315.7,278.26 L316.6,278.32 L317.5,278.36 L318.4,278.41 L319.3,278.44 L320.2,278.48 L321.1,278.50 L322.0,278.53 L322.9,278.55 L323.8,278.57 L324.7,278.59 L325.6,278.60 L326.5,278.61 L327.4,278.63 L328.3,278.64 L329.2,278.64 L330.1,278.65 L331.0,278.66 L331.9,278.66 L332.8,278.67 L333.7,278.67 L334.6,278.68 L335.5,278.68 L336.4,278.68 L337.3,278.68 L338.2,278.69 L339.1,278.69 L340.0,278.69 L340.9,278.69 L341.8,278.69 L342.7,278.69 L343.6,278.69 L344.5,278.70 L345.4,278.70 L346.3,278.70 L347.2,278.70 L348.0,278.70 L348.9,278.70 L349.8,278.70 L350.7,278.70 L351.6,278.70 L352.5,278.70 L353.4,278.70 L354.3,278.70 L355.2,278.70 L356.1,278.70 L357.0,278.70 L357.9,278.70 L358.8,278.70 L359.7,278.70 L360.6,278.70 L361.5,278.70 L362.4,278.70 L363.3,278.70 L364.2,278.70 L365.1,278.70 L366.0,278.70 L366.9,278.70" fill="none" stroke="#006FED" stroke-width="1.5" stroke-linejoin="round" clip-path="url(#c98_0)"/>
<clipPath id="c98_1"><rect x="366.9" y="278.7" width="268.2" height="277.6"/></clipPath>
<path d="M366.9,555.91 L367.8,555.88 L368.7,555.85 L369.6,555.82 L370.5,555.78 L371.4,555.74 L372.3,555.70 L373.2,555.66 L374.1,555.61 L375.0,555.56 L375.9,555.50 L376.8,555.44 L377.7,555.38 L378.6,555.31 L379.5,555.24 L380.4,555.16 L381.3,555.08 L382.1,554.99 L383.0,554.90 L383.9,554.80 L384.8,554.70 L385.7,554.58 L386.6,554.46 L387.5,554.33 L388.4,554.20 L389.3,554.05 L390.2,553.90 L391.1,553.73 L392.0,553.56 L392.9,553.37 L393.8,553.17 L394.7,552.96 L395.6,552.74 L396.5,552.50 L397.4,552.25 L398.3,551.98 L399.2,551.70 L400.1,551.40 L401.0,551.09 L401.9,550.75 L402.8,550.40 L403.7,550.03 L404.6,549.63 L405.5,549.21 L406.4,548.77 L407.3,548.31 L408.2,547.82 L409.1,547.30 L410.0,546.75 L410.9,546.18 L411.7,545.57 L412.6,544.94 L413.5,544.27 L414.4,543.56 L415.3,542.82 L416.2,542.04 L417.1,541.23 L418.0,540.37 L418.9,539.47 L419.8,538.53 L420.7,537.55 L421.6,536.52 L422.5,535.44 L423.4,534.31 L424.3,533.13 L425.2,531.90 L426.1,530.61 L427.0,529.27 L427.9,527.87 L428.8,526.42 L429.7,524.90 L430.6,523.32 L431.5,521.68 L432.4,519.97 L433.3,518.20 L434.2,516.36 L435.1,514.45 L436.0,512.47 L436.9,510.42 L437.8,508.30 L438.7,506.11 L439.6,503.84 L440.5,501.50 L441.4,499.08 L442.2,496.59 L443.1,494.02 L444.0,491.37 L444.9,488.64 L445.8,485.84 L446.7,482.97 L447.6,480.01 L448.5,476.99 L449.4,473.88 L450.3,470.71 L451.2,467.45 L452.1,464.13 L453.0,460.74 L453.9,457.28 L454.8,453.76 L455.7,450.17 L456.6,446.52 L457.5,442.81 L458.4,439.04 L459.3,435.23 L460.2,431.36 L461.1,427.45 L462.0,423.50 L462.9,419.51 L463.8,415.49 L464.7,411.45 L465.6,407.38 L466.5,403.30 L467.4,399.20 L468.3,395.11 L469.2,391.01 L470.1,386.92 L471.0,382.84 L471.8,378.79 L472.7,374.77 L473.6,370.78 L474.5,366.83 L475.4,362.93 L476.3,359.09 L477.2,355.32 L478.1,351.61 L479.0,347.99 L479.9,344.46 L480.8,341.03 L481.7,337.70 L482.6,334.48 L483.5,331.38 L484.4,328.41 L485.3,325.57 L486.2,322.88 L487.1,320.34 L488.0,317.95 L488.9,315.73 L489.8,313.68 L490.7,311.80 L491.6,310.11 L492.5,308.60 L493.4,307.29 L494.3,306.17 L495.2,305.26 L496.1,304.56 L497.0,304.06 L497.9,303.77 L498.8,303.70 L499.7,303.82 L500.6,304.10 L501.4,304.55 L502.3,305.17 L503.2,305.95 L504.1,306.89 L505.0,307.99 L505.9,309.25 L506.8,310.66 L507.7,312.22 L508.6,313.92 L509.5,315.77 L510.4,317.75 L511.3,319.87 L512.2,322.12 L513.1,324.49 L514.0,326.98 L514.9,329.58 L515.8,332.29 L516.7,335.11 L517.6,338.02 L518.5,341.03 L519.4,344.13 L520.3,347.30 L521.2,350.56 L522.1,353.88 L523.0,357.27 L523.9,360.71 L524.8,364.22 L525.7,367.77 L526.6,371.36 L527.5,374.99 L528.4,378.65 L529.3,382.33 L530.2,386.04 L531.0,389.77 L531.9,393.50 L532.8,397.24 L533.7,400.99 L534.6,404.73 L535.5,408.46 L536.4,412.18 L537.3,415.88 L538.2,419.57 L539.1,423.23 L540.0,426.86 L540.9,430.46 L541.8,434.03 L542.7,437.56 L543.6,441.05 L544.5,444.50 L545.4,447.90 L546.3,451.26 L547.2,454.56 L548.1,457.81 L549.0,461.01 L549.9,464.15 L550.8,467.23 L551.7,470.25 L552.6,473.22 L553.5,476.12 L554.4,478.96 L555.3,481.74 L556.2,484.45 L557.1,487.10 L558.0,489.68 L558.9,492.20 L559.8,494.66 L560.6,497.05 L561.5,499.37 L562.4,501.63 L563.3,503.83 L564.2,505.96 L565.1,508.03 L566.0,510.03 L566.9,511.98 L567.8,513.86 L568.7,515.68 L569.6,517.44 L570.5,519.14 L571.4,520.78 L572.3,522.37 L573.2,523.90 L574.1,525.37 L575.0,526.80 L575.9,528.17 L576.8,529.48 L577.7,530.75 L578.6,531.97 L579.5,533.14 L580.4,534.26 L581.3,535.34 L582.2,536.38 L583.1,537.37 L584.0,538.32 L584.9,539.23 L585.8,540.10 L586.7,540.93 L587.6,541.73 L588.5,542.49 L589.4,543.21 L590.3,543.91 L591.1,544.57 L592.0,545.20 L592.9,545.80 L593.8,546.37 L594.7,546.92 L595.6,547.44 L596.5,547.93 L597.4,548.40 L598.3,548.85 L599.2,549.27 L600.1,549.67 L601.0,550.06 L601.9,550.42 L602.8,550.76 L603.7,551.09 L604.6,551.39 L605.5,551.69 L606.4,551.96 L607.3,552.22 L608.2,552.47 L609.1,552.70 L610.0,552.92 L610.9,553.13 L611.8,553.33 L612.7,553.51 L613.6,553.69 L614.5,553.85 L615.4,554.01 L616.3,554.15 L617.2,554.29 L618.1,554.42 L619.0,554.54 L619.9,554.66 L620.7,554.76 L621.6,554.86 L622.5,554.96 L623.4,555.05 L624.3,555.13 L625.2,555.21 L626.1,555.28 L627.0,555.35 L627.9,555.42 L628.8,555.48 L629.7,555.53 L630.6,555.59 L631.5,555.63 L632.4,555.68 L633.3,555.72 L634.2,555.76 L635.1,555.80" fill="none" stroke="#808080" stroke-width="1.5" stroke-linejoin="round" clip-path="url(#c98_1)"/>
<path d="M366.9,556.30 L367.8,556.30 L368.7,556.30 L369.6,556.30 L370.5,556.30 L371.4,556.30 L372.3,556.30 L373.2,556.30 L374.1,556.30 L375.0,556.29 L375.9,556.29 L376.8,556.29 L377.7,556.29 L378.6,556.29 L379.5,556.28 L380.4,556.28 L381.3,556.28 L382.1,556.27 L383.0,556.26 L383.9,556.26 L384.8,556.25 L385.7,556.24 L386.6,556.22 L387.5,556.21 L388.4,556.19 L389.3,556.17 L390.2,556.14 L391.1,556.11 L392.0,556.08 L392.9,556.04 L393.8,556.00 L394.7,555.96 L395.6,555.90 L396.5,555.84 L397.4,555.78 L398.3,555.71 L399.2,555.63 L400.1,555.54 L401.0,555.44 L401.9,555.34 L402.8,555.23 L403.7,555.11 L404.6,554.99 L405.5,554.86 L406.4,554.72 L407.3,554.57 L408.2,554.42 L409.1,554.26 L410.0,554.10 L410.9,553.93 L411.7,553.76 L412.6,553.58 L413.5,553.41 L414.4,553.23 L415.3,553.04 L416.2,552.86 L417.1,552.67 L418.0,552.48 L418.9,552.29 L419.8,552.09 L420.7,551.89 L421.6,551.68 L422.5,551.47 L423.4,551.25 L424.3,551.02 L425.2,550.77 L426.1,550.51 L427.0,550.22 L427.9,549.92 L428.8,549.59 L429.7,549.23 L430.6,548.83 L431.5,548.40 L432.4,547.93 L433.3,547.40 L434.2,546.83 L435.1,546.20 L436.0,545.51 L436.9,544.75 L437.8,543.92 L438.7,543.02 L439.6,542.04 L440.5,540.97 L441.4,539.81 L442.2,538.56 L443.1,537.21 L444.0,535.76 L444.9,534.20 L445.8,532.53 L446.7,530.74 L447.6,528.83 L448.5,526.80 L449.4,524.65 L450.3,522.37 L451.2,519.95 L452.1,517.40 L453.0,514.71 L453.9,511.89 L454.8,508.92 L455.7,505.81 L456.6,502.57 L457.5,499.17 L458.4,495.64 L459.3,491.96 L460.2,488.14 L461.1,484.18 L462.0,480.09 L462.9,475.86 L463.8,471.51 L464.7,467.02 L465.6,462.42 L466.5,457.70 L467.4,452.87 L468.3,447.94 L469.2,442.92 L470.1,437.81 L471.0,432.62 L471.8,427.37 L472.7,422.06 L473.6,416.71 L474.5,411.33 L475.4,405.92 L476.3,400.51 L477.2,395.11 L478.1,389.72 L479.0,384.37 L479.9,379.07 L480.8,373.84 L481.7,368.68 L482.6,363.62 L483.5,358.67 L484.4,353.85 L485.3,349.16 L486.2,344.63 L487.1,340.27 L488.0,336.10 L488.9,332.13 L489.8,328.37 L490.7,324.83 L491.6,321.54 L492.5,318.49 L493.4,315.70 L494.3,313.19 L495.2,310.95 L496.1,309.01 L497.0,307.36 L497.9,306.01 L498.8,304.96 L499.7,304.23 L500.6,303.81 L501.4,303.70 L502.3,303.89 L503.2,304.35 L504.1,305.08 L505.0,306.09 L505.9,307.37 L506.8,308.91 L507.7,310.71 L508.6,312.76 L509.5,315.07 L510.4,317.61 L511.3,320.38 L512.2,323.38 L513.1,326.59 L514.0,330.01 L514.9,333.61 L515.8,337.41 L516.7,341.37 L517.6,345.49 L518.5,349.76 L519.4,354.16 L520.3,358.69 L521.2,363.33 L522.1,368.06 L523.0,372.88 L523.9,377.78 L524.8,382.73 L525.7,387.73 L526.6,392.76 L527.5,397.82 L528.4,402.89 L529.3,407.96 L530.2,413.02 L531.0,418.06 L531.9,423.07 L532.8,428.04 L533.7,432.95 L534.6,437.81 L535.5,442.61 L536.4,447.32 L537.3,451.96 L538.2,456.51 L539.1,460.96 L540.0,465.32 L540.9,469.57 L541.8,473.72 L542.7,477.75 L543.6,481.66 L544.5,485.46 L545.4,489.14 L546.3,492.70 L547.2,496.14 L548.1,499.45 L549.0,502.64 L549.9,505.70 L550.8,508.65 L551.7,511.47 L552.6,514.17 L553.5,516.75 L554.4,519.21 L555.3,521.56 L556.2,523.79 L557.1,525.92 L558.0,527.94 L558.9,529.85 L559.8,531.66 L560.6,533.37 L561.5,534.98 L562.4,536.51 L563.3,537.94 L564.2,539.29 L565.1,540.56 L566.0,541.75 L566.9,542.86 L567.8,543.91 L568.7,544.88 L569.6,545.79 L570.5,546.64 L571.4,547.42 L572.3,548.16 L573.2,548.84 L574.1,549.47 L575.0,550.05 L575.9,550.60 L576.8,551.10 L577.7,551.56 L578.6,551.98 L579.5,552.37 L580.4,552.73 L581.3,553.06 L582.2,553.37 L583.1,553.64 L584.0,553.90 L584.9,554.13 L585.8,554.34 L586.7,554.53 L587.6,554.71 L588.5,554.87 L589.4,555.02 L590.3,555.15 L591.1,555.27 L592.0,555.37 L592.9,555.47 L593.8,555.56 L594.7,555.64 L595.6,555.71 L596.5,555.78 L597.4,555.83 L598.3,555.89 L599.2,555.93 L600.1,555.97 L601.0,556.01 L601.9,556.04 L602.8,556.07 L603.7,556.10 L604.6,556.12 L605.5,556.14 L606.4,556.16 L607.3,556.18 L608.2,556.19 L609.1,556.21 L610.0,556.22 L610.9,556.23 L611.8,556.24 L612.7,556.25 L613.6,556.25 L614.5,556.26 L615.4,556.26 L616.3,556.27 L617.2,556.27 L618.1,556.28 L619.0,556.28 L619.9,556.28 L620.7,556.28 L621.6,556.29 L622.5,556.29 L623.4,556.29 L624.3,556.29 L625.2,556.29 L626.1,556.29 L627.0,556.29 L627.9,556.30 L628.8,556.30 L629.7,556.30 L630.6,556.30 L631.5,556.30 L632.4,556.30 L633.3,556.30 L634.2,556.30 L635.1,556.30" fill="none" stroke="#E03424" stroke-width="1.5" stroke-linejoin="round" clip-path="url(#c98_1)"/>
<path d="M366.9,556.30 L367.8,556.30 L368.7,556.30 L369.6,556.30 L370.5,556.30 L371.4,556.30 L372.3,556.30 L373.2,556.30 L374.1,556.30 L375.0,556.30 L375.9,556.30 L376.8,556.30 L377.7,556.30 L378.6,556.30 L379.5,556.30 L380.4,556.30 L381.3,556.30 L382.1,556.30 L383.0,556.30 L383.9,556.30 L384.8,556.30 L385.7,556.30 L386.6,556.30 L387.5,556.30 L388.4,556.30 L389.3,556.30 L390.2,556.30 L391.1,556.30 L392.0,556.30 L392.9,556.30 L393.8,556.30 L394.7,556.30 L395.6,556.30 L396.5,556.30 L397.4,556.30 L398.3,556.30 L399.2,556.30 L400.1,556.30 L401.0,556.30 L401.9,556.30 L402.8,556.30 L403.7,556.30 L404.6,556.30 L405.5,556.30 L406.4,556.30 L407.3,556.30 L408.2,556.30 L409.1,556.30 L410.0,556.30 L410.9,556.30 L411.7,556.30 L412.6,556.30 L413.5,556.30 L414.4,556.30 L415.3,556.30 L416.2,556.30 L417.1,556.30 L418.0,556.30 L418.9,556.30 L419.8,556.30 L420.7,556.30 L421.6,556.30 L422.5,556.30 L423.4,556.30 L424.3,556.30 L425.2,556.30 L426.1,556.29 L427.0,556.29 L427.9,556.29 L428.8,556.29 L429.7,556.29 L430.6,556.28 L431.5,556.28 L432.4,556.28 L433.3,556.27 L434.2,556.26 L435.1,556.25 L436.0,556.25 L436.9,556.23 L437.8,556.22 L438.7,556.20 L439.6,556.18 L440.5,556.16 L441.4,556.13 L442.2,556.09 L443.1,556.05 L444.0,556.00 L444.9,555.95 L445.8,555.88 L446.7,555.79 L447.6,555.70 L448.5,555.58 L449.4,555.45 L450.3,555.29 L451.2,555.11 L452.1,554.89 L453.0,554.64 L453.9,554.35 L454.8,554.01 L455.7,553.61 L456.6,553.16 L457.5,552.63 L458.4,552.03 L459.3,551.34 L460.2,550.54 L461.1,549.64 L462.0,548.61 L462.9,547.44 L463.8,546.11 L464.7,544.61 L465.6,542.92 L466.5,541.03 L467.4,538.91 L468.3,536.55 L469.2,533.92 L470.1,531.00 L471.0,527.78 L471.8,524.23 L472.7,520.34 L473.6,516.09 L474.5,511.45 L475.4,506.42 L476.3,500.99 L477.2,495.15 L478.1,488.88 L479.0,482.20 L479.9,475.10 L480.8,467.60 L481.7,459.71 L482.6,451.46 L483.5,442.87 L484.4,433.99 L485.3,424.85 L486.2,415.52 L487.1,406.04 L488.0,396.49 L488.9,386.95 L489.8,377.49 L490.7,368.20 L491.6,359.18 L492.5,350.51 L493.4,342.30 L494.3,334.65 L495.2,327.64 L496.1,321.37 L497.0,315.94 L497.9,311.42 L498.8,307.88 L499.7,305.39 L500.6,304.00 L501.4,303.74 L502.3,304.51 L503.2,306.27 L504.1,309.00 L505.0,312.67 L505.9,317.22 L506.8,322.62 L507.7,328.80 L508.6,335.68 L509.5,343.20 L510.4,351.28 L511.3,359.83 L512.2,368.76 L513.1,378.00 L514.0,387.45 L514.9,397.02 L515.8,406.65 L516.7,416.25 L517.6,425.75 L518.5,435.09 L519.4,444.20 L520.3,453.04 L521.2,461.55 L522.1,469.71 L523.0,477.48 L523.9,484.83 L524.8,491.75 L525.7,498.23 L526.6,504.27 L527.5,509.86 L528.4,515.02 L529.3,519.75 L530.2,524.06 L531.0,527.98 L531.9,531.52 L532.8,534.70 L533.7,537.55 L534.6,540.08 L535.5,542.33 L536.4,544.32 L537.3,546.06 L538.2,547.58 L539.1,548.91 L540.0,550.06 L540.9,551.05 L541.8,551.90 L542.7,552.63 L543.6,553.25 L544.5,553.77 L545.4,554.22 L546.3,554.59 L547.2,554.90 L548.1,555.16 L549.0,555.37 L549.9,555.55 L550.8,555.70 L551.7,555.82 L552.6,555.91 L553.5,555.99 L554.4,556.06 L555.3,556.11 L556.2,556.15 L557.1,556.18 L558.0,556.21 L558.9,556.23 L559.8,556.24 L560.6,556.26 L561.5,556.27 L562.4,556.27 L563.3,556.28 L564.2,556.29 L565.1,556.29 L566.0,556.29 L566.9,556.29 L567.8,556.30 L568.7,556.30 L569.6,556.30 L570.5,556.30 L571.4,556.30 L572.3,556.30 L573.2,556.30 L574.1,556.30 L575.0,556.30 L575.9,556.30 L576.8,556.30 L577.7,556.30 L578.6,556.30 L579.5,556.30 L580.4,556.30 L581.3,556.30 L582.2,556.30 L583.1,556.30 L584.0,556.30 L584.9,556.30 L585.8,556.30 L586.7,556.30 L587.6,556.30 L588.5,556.30 L589.4,556.30 L590.3,556.30 L591.1,556.30 L592.0,556.30 L592.9,556.30 L593.8,556.30 L594.7,556.30 L595.6,556.30 L596.5,556.30 L597.4,556.30 L598.3,556.30 L599.2,556.30 L600.1,556.30 L601.0,556.30 L601.9,556.30 L602.8,556.30 L603.7,556.30 L604.6,556.30 L605.5,556.30 L606.4,556.30 L607.3,556.30 L608.2,556.30 L609.1,556.30 L610.0,556.30 L610.9,556.30 L611.8,556.30 L612.7,556.30 L613.6,556.30 L614.5,556.30 L615.4,556.30 L616.3,556.30 L617.2,556.30 L618.1,556.30 L619.0,556.30 L619.9,556.30 L620.7,556.30 L621.6,556.30 L622.5,556.30 L623.4,556.30 L624.3,556.30 L625.2,556.30 L626.1,556.30 L627.0,556.30 L627.9,556.30 L628.8,556.30 L629.7,556.30 L630.6,556.30 L631.5,556.30 L632.4,556.30 L633.3,556.30 L634.2,556.30 L635.1,556.30" fill="none" stroke="#006FED" stroke-width="1.5" stroke-linejoin="round" clip-path="url(#c98_1)"/>
<clipPath id="c98_2"><rect x="635.1" y="556.3" width="268.35" height="277.7"/></clipPath>
<path d="M635.1,833.61 L636.0,833.57 L636.9,833.53 L637.8,833.49 L638.7,833.44 L639.6,833.39 L640.5,833.33 L641.4,833.27 L642.3,833.20 L643.2,833.13 L644.1,833.05 L645.0,832.96 L645.9,832.87 L646.8,832.77 L647.7,832.66 L648.6,832.55 L649.5,832.42 L650.4,832.29 L651.3,832.14 L652.2,831.99 L653.0,831.82 L653.9,831.64 L654.8,831.45 L655.7,831.24 L656.6,831.02 L657.5,830.78 L658.4,830.53 L659.3,830.26 L660.2,829.97 L661.1,829.66 L662.0,829.33 L662.9,828.98 L663.8,828.60 L664.7,828.20 L665.6,827.78 L666.5,827.33 L667.4,826.85 L668.3,826.35 L669.2,825.81 L670.1,825.24 L671.0,824.64 L671.9,824.00 L672.8,823.33 L673.7,822.62 L674.6,821.87 L675.5,821.08 L676.4,820.24 L677.3,819.36 L678.2,818.44 L679.1,817.47 L680.0,816.45 L680.9,815.38 L681.8,814.26 L682.7,813.08 L683.6,811.85 L684.5,810.56 L685.4,809.21 L686.3,807.81 L687.2,806.34 L688.1,804.81 L688.9,803.21 L689.8,801.55 L690.7,799.82 L691.6,798.03 L692.5,796.16 L693.4,794.23 L694.3,792.22 L695.2,790.14 L696.1,787.99 L697.0,785.76 L697.9,783.46 L698.8,781.09 L699.7,778.64 L700.6,776.11 L701.5,773.52 L702.4,770.84 L703.3,768.09 L704.2,765.27 L705.1,762.38 L706.0,759.41 L706.9,756.37 L707.8,753.26 L708.7,750.08 L709.6,746.84 L710.5,743.53 L711.4,740.16 L712.3,736.72 L713.2,733.23 L714.1,729.68 L715.0,726.08 L715.9,722.42 L716.8,718.72 L717.7,714.98 L718.6,711.20 L719.5,707.38 L720.4,703.52 L721.3,699.64 L722.2,695.74 L723.1,691.82 L724.0,687.88 L724.8,683.94 L725.7,679.99 L726.6,676.04 L727.5,672.10 L728.4,668.16 L729.3,664.25 L730.2,660.36 L731.1,656.50 L732.0,652.67 L732.9,648.89 L733.8,645.15 L734.7,641.46 L735.6,637.83 L736.5,634.26 L737.4,630.77 L738.3,627.35 L739.2,624.01 L740.1,620.77 L741.0,617.61 L741.9,614.56 L742.8,611.60 L743.7,608.76 L744.6,606.04 L745.5,603.43 L746.4,600.95 L747.3,598.60 L748.2,596.38 L749.1,594.30 L750.0,592.37 L750.9,590.58 L751.8,588.94 L752.7,587.45 L753.6,586.12 L754.5,584.94 L755.4,583.93 L756.3,583.08 L757.2,582.39 L758.1,581.87 L759.0,581.52 L759.9,581.33 L760.7,581.31 L761.6,581.47 L762.5,581.79 L763.4,582.29 L764.3,582.96 L765.2,583.80 L766.1,584.80 L767.0,585.98 L767.9,587.31 L768.8,588.81 L769.7,590.46 L770.6,592.27 L771.5,594.22 L772.4,596.33 L773.3,598.58 L774.2,600.96 L775.1,603.48 L776.0,606.13 L776.9,608.90 L777.8,611.79 L778.7,614.80 L779.6,617.91 L780.5,621.12 L781.4,624.43 L782.3,627.82 L783.2,631.30 L784.1,634.86 L785.0,638.49 L785.9,642.19 L786.8,645.94 L787.7,649.75 L788.6,653.60 L789.5,657.49 L790.4,661.42 L791.3,665.38 L792.2,669.35 L793.1,673.35 L794.0,677.35 L794.9,681.36 L795.8,685.37 L796.6,689.37 L797.5,693.36 L798.4,697.33 L799.3,701.28 L800.2,705.21 L801.1,709.10 L802.0,712.96 L802.9,716.78 L803.8,720.56 L804.7,724.29 L805.6,727.97 L806.5,731.60 L807.4,735.17 L808.3,738.68 L809.2,742.12 L810.1,745.51 L811.0,748.82 L811.9,752.07 L812.8,755.24 L813.7,758.34 L814.6,761.37 L815.5,764.32 L816.4,767.19 L817.3,769.99 L818.2,772.71 L819.1,775.34 L820.0,777.90 L820.9,780.38 L821.8,782.77 L822.7,785.09 L823.6,787.32 L824.5,789.47 L825.4,791.54 L826.3,793.54 L827.2,795.45 L828.1,797.28 L829.0,799.04 L829.9,800.72 L830.8,802.32 L831.7,803.85 L832.5,805.31 L833.4,806.69 L834.3,808.01 L835.2,809.26 L836.1,810.45 L837.0,811.57 L837.9,812.64 L838.8,813.65 L839.7,814.60 L840.6,815.51 L841.5,816.36 L842.4,817.17 L843.3,817.94 L844.2,818.67 L845.1,819.37 L846.0,820.03 L846.9,820.66 L847.8,821.27 L848.7,821.85 L849.6,822.41 L850.5,822.94 L851.4,823.46 L852.3,823.97 L853.2,824.46 L854.1,824.93 L855.0,825.39 L855.9,825.84 L856.8,826.28 L857.7,826.70 L858.6,827.12 L859.5,827.52 L860.4,827.91 L861.3,828.29 L862.2,828.66 L863.1,829.01 L864.0,829.36 L864.9,829.69 L865.8,830.00 L866.7,830.30 L867.6,830.59 L868.4,830.86 L869.3,831.12 L870.2,831.36 L871.1,831.59 L872.0,831.81 L872.9,832.00 L873.8,832.19 L874.7,832.36 L875.6,832.52 L876.5,832.67 L877.4,832.80 L878.3,832.92 L879.2,833.03 L880.1,833.13 L881.0,833.22 L881.9,833.31 L882.8,833.38 L883.7,833.45 L884.6,833.51 L885.5,833.56 L886.4,833.61 L887.3,833.65 L888.2,833.69 L889.1,833.73 L890.0,833.76 L890.9,833.78 L891.8,833.81 L892.7,833.83 L893.6,833.85 L894.5,833.86 L895.4,833.88 L896.3,833.89 L897.2,833.90 L898.1,833.91 L899.0,833.92 L899.9,833.93 L900.8,833.94 L901.7,833.95 L902.6,833.95 L903.5,833.96" fill="none" stroke="#808080" stroke-width="1.5" stroke-linejoin="round" clip-path="url(#c98_2)"/>
<path d="M635.1,834.00 L636.0,834.00 L636.9,834.00 L637.8,834.00 L638.7,834.00 L639.6,833.99 L640.5,833.99 L641.4,833.99 L642.3,833.99 L643.2,833.99 L644.1,833.99 L645.0,833.98 L645.9,833.98 L646.8,833.98 L647.7,833.97 L648.6,833.97 L649.5,833.96 L650.4,833.95 L651.3,833.95 L652.2,833.94 L653.0,833.93 L653.9,833.91 L654.8,833.90 L655.7,833.88 L656.6,833.86 L657.5,833.84 L658.4,833.82 L659.3,833.79 L660.2,833.76 L661.1,833.72 L662.0,833.68 L662.9,833.63 L663.8,833.58 L664.7,833.52 L665.6,833.45 L666.5,833.37 L667.4,833.29 L668.3,833.19 L669.2,833.09 L670.1,832.97 L671.0,832.83 L671.9,832.68 L672.8,832.52 L673.7,832.34 L674.6,832.13 L675.5,831.91 L676.4,831.66 L677.3,831.39 L678.2,831.09 L679.1,830.76 L680.0,830.41 L680.9,830.01 L681.8,829.58 L682.7,829.11 L683.6,828.61 L684.5,828.05 L685.4,827.45 L686.3,826.80 L687.2,826.10 L688.1,825.34 L688.9,824.52 L689.8,823.64 L690.7,822.69 L691.6,821.68 L692.5,820.59 L693.4,819.43 L694.3,818.19 L695.2,816.87 L696.1,815.46 L697.0,813.96 L697.9,812.37 L698.8,810.69 L699.7,808.91 L700.6,807.03 L701.5,805.05 L702.4,802.97 L703.3,800.77 L704.2,798.47 L705.1,796.06 L706.0,793.54 L706.9,790.90 L707.8,788.15 L708.7,785.28 L709.6,782.30 L710.5,779.20 L711.4,775.99 L712.3,772.67 L713.2,769.23 L714.1,765.68 L715.0,762.03 L715.9,758.27 L716.8,754.40 L717.7,750.44 L718.6,746.38 L719.5,742.23 L720.4,737.99 L721.3,733.67 L722.2,729.28 L723.1,724.81 L724.0,720.28 L724.8,715.69 L725.7,711.05 L726.6,706.37 L727.5,701.66 L728.4,696.91 L729.3,692.15 L730.2,687.38 L731.1,682.61 L732.0,677.84 L732.9,673.10 L733.8,668.38 L734.7,663.69 L735.6,659.05 L736.5,654.46 L737.4,649.94 L738.3,645.50 L739.2,641.13 L740.1,636.86 L741.0,632.69 L741.9,628.63 L742.8,624.69 L743.7,620.88 L744.6,617.20 L745.5,613.67 L746.4,610.29 L747.3,607.07 L748.2,604.01 L749.1,601.13 L750.0,598.42 L750.9,595.90 L751.8,593.57 L752.7,591.43 L753.6,589.49 L754.5,587.75 L755.4,586.21 L756.3,584.88 L757.2,583.76 L758.1,582.85 L759.0,582.14 L759.9,581.65 L760.7,581.37 L761.6,581.30 L762.5,581.49 L763.4,581.94 L764.3,582.67 L765.2,583.68 L766.1,584.95 L767.0,586.48 L767.9,588.27 L768.8,590.32 L769.7,592.61 L770.6,595.14 L771.5,597.90 L772.4,600.88 L773.3,604.08 L774.2,607.48 L775.1,611.07 L776.0,614.85 L776.9,618.79 L777.8,622.90 L778.7,627.15 L779.6,631.54 L780.5,636.05 L781.4,640.67 L782.3,645.39 L783.2,650.20 L784.1,655.07 L785.0,660.01 L785.9,665.00 L786.8,670.02 L787.7,675.07 L788.6,680.13 L789.5,685.19 L790.4,690.24 L791.3,695.27 L792.2,700.27 L793.1,705.23 L794.0,710.14 L794.9,714.99 L795.8,719.78 L796.6,724.50 L797.5,729.13 L798.4,733.68 L799.3,738.14 L800.2,742.49 L801.1,746.75 L802.0,750.90 L802.9,754.93 L803.8,758.86 L804.7,762.66 L805.6,766.35 L806.5,769.92 L807.4,773.36 L808.3,776.68 L809.2,779.88 L810.1,782.96 L811.0,785.91 L811.9,788.74 L812.8,791.45 L813.7,794.05 L814.6,796.52 L815.5,798.88 L816.4,801.13 L817.3,803.27 L818.2,805.30 L819.1,807.22 L820.0,809.05 L820.9,810.77 L821.8,812.40 L822.7,813.94 L823.6,815.38 L824.5,816.75 L825.4,818.03 L826.3,819.23 L827.2,820.35 L828.1,821.41 L829.0,822.39 L829.9,823.31 L830.8,824.17 L831.7,824.97 L832.5,825.71 L833.4,826.40 L834.3,827.04 L835.2,827.63 L836.1,828.18 L837.0,828.69 L837.9,829.16 L838.8,829.59 L839.7,829.99 L840.6,830.35 L841.5,830.69 L842.4,831.00 L843.3,831.28 L844.2,831.54 L845.1,831.77 L846.0,831.99 L846.9,832.19 L847.8,832.37 L848.7,832.53 L849.6,832.68 L850.5,832.81 L851.4,832.94 L852.3,833.05 L853.2,833.15 L854.1,833.24 L855.0,833.32 L855.9,833.39 L856.8,833.46 L857.7,833.52 L858.6,833.57 L859.5,833.62 L860.4,833.66 L861.3,833.70 L862.2,833.73 L863.1,833.77 L864.0,833.79 L864.9,833.82 L865.8,833.84 L866.7,833.86 L867.6,833.88 L868.4,833.89 L869.3,833.90 L870.2,833.92 L871.1,833.93 L872.0,833.94 L872.9,833.94 L873.8,833.95 L874.7,833.96 L875.6,833.96 L876.5,833.97 L877.4,833.97 L878.3,833.98 L879.2,833.98 L880.1,833.98 L881.0,833.98 L881.9,833.99 L882.8,833.99 L883.7,833.99 L884.6,833.99 L885.5,833.99 L886.4,833.99 L887.3,833.99 L888.2,834.00 L889.1,834.00 L890.0,834.00 L890.9,834.00 L891.8,834.00 L892.7,834.00 L893.6,834.00 L894.5,834.00 L895.4,834.00 L896.3,834.00 L897.2,834.00 L898.1,834.00 L899.0,834.00 L899.9,834.00 L900.8,834.00 L901.7,834.00 L902.6,834.00 L903.5,834.00" fill="none" stroke="#E03424" stroke-width="1.5" stroke-linejoin="round" clip-path="url(#c98_2)"/>
<path d="M635.1,834.00 L636.0,834.00 L636.9,834.00 L637.8,834.00 L638.7,834.00 L639.6,834.00 L640.5,834.00 L641.4,834.00 L642.3,834.00 L643.2,834.00 L644.1,834.00 L645.0,834.00 L645.9,834.00 L646.8,834.00 L647.7,834.00 L648.6,834.00 L649.5,834.00 L650.4,834.00 L651.3,834.00 L652.2,834.00 L653.0,834.00 L653.9,834.00 L654.8,834.00 L655.7,834.00 L656.6,834.00 L657.5,834.00 L658.4,834.00 L659.3,834.00 L660.2,834.00 L661.1,834.00 L662.0,834.00 L662.9,834.00 L663.8,834.00 L664.7,834.00 L665.6,834.00 L666.5,834.00 L667.4,834.00 L668.3,834.00 L669.2,834.00 L670.1,834.00 L671.0,834.00 L671.9,834.00 L672.8,834.00 L673.7,834.00 L674.6,834.00 L675.5,834.00 L676.4,834.00 L677.3,834.00 L678.2,834.00 L679.1,834.00 L680.0,834.00 L680.9,833.99 L681.8,833.99 L682.7,833.99 L683.6,833.99 L684.5,833.98 L685.4,833.98 L686.3,833.98 L687.2,833.97 L688.1,833.96 L688.9,833.95 L689.8,833.94 L690.7,833.93 L691.6,833.91 L692.5,833.89 L693.4,833.87 L694.3,833.84 L695.2,833.80 L696.1,833.76 L697.0,833.71 L697.9,833.65 L698.8,833.58 L699.7,833.49 L700.6,833.39 L701.5,833.27 L702.4,833.13 L703.3,832.97 L704.2,832.78 L705.1,832.55 L706.0,832.29 L706.9,831.99 L707.8,831.64 L708.7,831.23 L709.6,830.77 L710.5,830.24 L711.4,829.63 L712.3,828.94 L713.2,828.15 L714.1,827.26 L715.0,826.26 L715.9,825.13 L716.8,823.87 L717.7,822.45 L718.6,820.88 L719.5,819.12 L720.4,817.18 L721.3,815.04 L722.2,812.69 L723.1,810.10 L724.0,807.28 L724.8,804.20 L725.7,800.86 L726.6,797.25 L727.5,793.35 L728.4,789.15 L729.3,784.66 L730.2,779.87 L731.1,774.77 L732.0,769.36 L732.9,763.66 L733.8,757.66 L734.7,751.36 L735.6,744.80 L736.5,737.97 L737.4,730.90 L738.3,723.60 L739.2,716.11 L740.1,708.46 L741.0,700.66 L741.9,692.77 L742.8,684.82 L743.7,676.84 L744.6,668.88 L745.5,661.00 L746.4,653.22 L747.3,645.61 L748.2,638.21 L749.1,631.06 L750.0,624.23 L750.9,617.75 L751.8,611.68 L752.7,606.05 L753.6,600.92 L754.5,596.31 L755.4,592.27 L756.3,588.82 L757.2,586.00 L758.1,583.83 L759.0,582.31 L759.9,581.48 L760.7,581.33 L761.6,581.90 L762.5,583.22 L763.4,585.25 L764.3,588.00 L765.2,591.42 L766.1,595.51 L767.0,600.21 L767.9,605.48 L768.8,611.30 L769.7,617.60 L770.6,624.34 L771.5,631.47 L772.4,638.93 L773.3,646.66 L774.2,654.62 L775.1,662.74 L776.0,670.97 L776.9,679.27 L777.8,687.57 L778.7,695.83 L779.6,704.01 L780.5,712.06 L781.4,719.95 L782.3,727.64 L783.2,735.11 L784.1,742.32 L785.0,749.25 L785.9,755.89 L786.8,762.22 L787.7,768.23 L788.6,773.91 L789.5,779.27 L790.4,784.29 L791.3,788.98 L792.2,793.35 L793.1,797.41 L794.0,801.15 L794.9,804.60 L795.8,807.77 L796.6,810.66 L797.5,813.29 L798.4,815.68 L799.3,817.85 L800.2,819.79 L801.1,821.55 L802.0,823.11 L802.9,824.51 L803.8,825.75 L804.7,826.85 L805.6,827.82 L806.5,828.68 L807.4,829.43 L808.3,830.09 L809.2,830.66 L810.1,831.15 L811.0,831.58 L811.9,831.96 L812.8,832.27 L813.7,832.55 L814.6,832.78 L815.5,832.98 L816.4,833.15 L817.3,833.29 L818.2,833.41 L819.1,833.52 L820.0,833.60 L820.9,833.67 L821.8,833.73 L822.7,833.78 L823.6,833.82 L824.5,833.85 L825.4,833.88 L826.3,833.90 L827.2,833.92 L828.1,833.94 L829.0,833.95 L829.9,833.96 L830.8,833.97 L831.7,833.98 L832.5,833.98 L833.4,833.98 L834.3,833.99 L835.2,833.99 L836.1,833.99 L837.0,833.99 L837.9,834.00 L838.8,834.00 L839.7,834.00 L840.6,834.00 L841.5,834.00 L842.4,834.00 L843.3,834.00 L844.2,834.00 L845.1,834.00 L846.0,834.00 L846.9,834.00 L847.8,834.00 L848.7,834.00 L849.6,834.00 L850.5,834.00 L851.4,834.00 L852.3,834.00 L853.2,834.00 L854.1,834.00 L855.0,834.00 L855.9,834.00 L856.8,834.00 L857.7,834.00 L858.6,834.00 L859.5,834.00 L860.4,834.00 L861.3,834.00 L862.2,834.00 L863.1,834.00 L864.0,834.00 L864.9,834.00 L865.8,834.00 L866.7,834.00 L867.6,834.00 L868.4,834.00 L869.3,834.00 L870.2,834.00 L871.1,834.00 L872.0,834.00 L872.9,834.00 L873.8,834.00 L874.7,834.00 L875.6,834.00 L876.5,834.00 L877.4,834.00 L878.3,834.00 L879.2,834.00 L880.1,834.00 L881.0,834.00 L881.9,834.00 L882.8,834.00 L883.7,834.00 L884.6,834.00 L885.5,834.00 L886.4,834.00 L887.3,834.00 L888.2,834.00 L889.1,834.00 L890.0,834.00 L890.9,834.00 L891.8,834.00 L892.7,834.00 L893.6,834.00 L894.5,834.00 L895.4,834.00 L896.3,834.00 L897.2,834.00 L898.1,834.00 L899.0,834.00 L899.9,834.00 L900.8,834.00 L901.7,834.00 L902.6,834.00 L903.5,834.00" fill="none" stroke="#006FED" stroke-width="1.5" stroke-linejoin="round" clip-path="url(#c98_2)"/>
<line x1="98.5" y1="1.05" x2="366.9" y2="1.05" stroke="#000" stroke-width="2.1" stroke-linecap="square"/>
<line x1="98.5" y1="278.7" x2="635.1" y2="278.7" stroke="#000" stroke-width="2.1" stroke-linecap="square"/>
<line x1="98.5" y1="556.3" x2="903.45" y2="556.3" stroke="#000" stroke-width="2.1" stroke-linecap="square"/>
<line x1="98.5" y1="834" x2="903.45" y2="834" stroke="#000" stroke-width="2.1" stroke-linecap="square"/>
<line x1="98.5" y1="1.05" x2="98.5" y2="834" stroke="#000" stroke-width="2.1" stroke-linecap="square"/>
<line x1="366.9" y1="1.05" x2="366.9" y2="834" stroke="#000" stroke-width="2.1" stroke-linecap="square"/>
<line x1="635.1" y1="278.7" x2="635.1" y2="834" stroke="#000" stroke-width="2.1" stroke-linecap="square"/>
<line x1="903.45" y1="556.3" x2="903.45" y2="834" stroke="#000" stroke-width="2.1" stroke-linecap="square"/>
<line x1="146" y1="278.7" x2="146" y2="270.95" stroke="#000" stroke-width="2.0" />
<line x1="240.5" y1="278.7" x2="240.5" y2="270.95" stroke="#000" stroke-width="2.0" />
<line x1="146" y1="556.3" x2="146" y2="548.55" stroke="#000" stroke-width="2.0" />
<line x1="146" y1="278.7" x2="146" y2="286.45" stroke="#000" stroke-width="2.0" />
<line x1="240.5" y1="556.3" x2="240.5" y2="548.55" stroke="#000" stroke-width="2.0" />
<line x1="240.5" y1="278.7" x2="240.5" y2="286.45" stroke="#000" stroke-width="2.0" />
<line x1="98.5" y1="319" x2="106.25" y2="319" stroke="#000" stroke-width="2.0" />
<line x1="366.9" y1="319" x2="359.15" y2="319" stroke="#000" stroke-width="2.0" />
<line x1="98.5" y1="362.62" x2="106.25" y2="362.62" stroke="#000" stroke-width="2.0" />
<line x1="366.9" y1="362.62" x2="359.15" y2="362.62" stroke="#000" stroke-width="2.0" />
<line x1="98.5" y1="406.24" x2="106.25" y2="406.24" stroke="#000" stroke-width="2.0" />
<line x1="366.9" y1="406.24" x2="359.15" y2="406.24" stroke="#000" stroke-width="2.0" />
<line x1="98.5" y1="449.86" x2="106.25" y2="449.86" stroke="#000" stroke-width="2.0" />
<line x1="366.9" y1="449.86" x2="359.15" y2="449.86" stroke="#000" stroke-width="2.0" />
<line x1="98.5" y1="493.48" x2="106.25" y2="493.48" stroke="#000" stroke-width="2.0" />
<line x1="366.9" y1="493.48" x2="359.15" y2="493.48" stroke="#000" stroke-width="2.0" />
<line x1="98.5" y1="537.1" x2="106.25" y2="537.1" stroke="#000" stroke-width="2.0" />
<line x1="366.9" y1="537.1" x2="359.15" y2="537.1" stroke="#000" stroke-width="2.0" />
<line x1="469.7" y1="556.3" x2="469.7" y2="548.55" stroke="#000" stroke-width="2.0" />
<line x1="554" y1="556.3" x2="554" y2="548.55" stroke="#000" stroke-width="2.0" />
<line x1="146" y1="834" x2="146" y2="826.25" stroke="#000" stroke-width="2.0" />
<line x1="146" y1="556.3" x2="146" y2="564.05" stroke="#000" stroke-width="2.0" />
<line x1="240.5" y1="834" x2="240.5" y2="826.25" stroke="#000" stroke-width="2.0" />
<line x1="240.5" y1="556.3" x2="240.5" y2="564.05" stroke="#000" stroke-width="2.0" />
<line x1="98.5" y1="604.62" x2="106.25" y2="604.62" stroke="#000" stroke-width="2.0" />
<line x1="366.9" y1="604.62" x2="359.15" y2="604.62" stroke="#000" stroke-width="2.0" />
<line x1="98.5" y1="662.28" x2="106.25" y2="662.28" stroke="#000" stroke-width="2.0" />
<line x1="366.9" y1="662.28" x2="359.15" y2="662.28" stroke="#000" stroke-width="2.0" />
<line x1="98.5" y1="719.94" x2="106.25" y2="719.94" stroke="#000" stroke-width="2.0" />
<line x1="366.9" y1="719.94" x2="359.15" y2="719.94" stroke="#000" stroke-width="2.0" />
<line x1="98.5" y1="777.6" x2="106.25" y2="777.6" stroke="#000" stroke-width="2.0" />
<line x1="366.9" y1="777.6" x2="359.15" y2="777.6" stroke="#000" stroke-width="2.0" />
<line x1="469.7" y1="834" x2="469.7" y2="826.25" stroke="#000" stroke-width="2.0" />
<line x1="469.7" y1="556.3" x2="469.7" y2="564.05" stroke="#000" stroke-width="2.0" />
<line x1="554" y1="834" x2="554" y2="826.25" stroke="#000" stroke-width="2.0" />
<line x1="554" y1="556.3" x2="554" y2="564.05" stroke="#000" stroke-width="2.0" />
<line x1="366.9" y1="604.62" x2="374.65" y2="604.62" stroke="#000" stroke-width="2.0" />
<line x1="635.1" y1="604.62" x2="627.35" y2="604.62" stroke="#000" stroke-width="2.0" />
<line x1="366.9" y1="662.28" x2="374.65" y2="662.28" stroke="#000" stroke-width="2.0" />
<line x1="635.1" y1="662.28" x2="627.35" y2="662.28" stroke="#000" stroke-width="2.0" />
<line x1="366.9" y1="719.94" x2="374.65" y2="719.94" stroke="#000" stroke-width="2.0" />
<line x1="635.1" y1="719.94" x2="627.35" y2="719.94" stroke="#000" stroke-width="2.0" />
<line x1="366.9" y1="777.6" x2="374.65" y2="777.6" stroke="#000" stroke-width="2.0" />
<line x1="635.1" y1="777.6" x2="627.35" y2="777.6" stroke="#000" stroke-width="2.0" />
<line x1="689.9" y1="834" x2="689.9" y2="826.25" stroke="#000" stroke-width="2.0" />
<line x1="801" y1="834" x2="801" y2="826.25" stroke="#000" stroke-width="2.0" />
<text transform="translate(115.05 859.23) scale(1.3548 1.3000)" font-size="20.0" font-family='"Liberation Serif", serif' fill="#000">−</text>
<text transform="translate(130.47 856.00) scale(1.0410 0.9500)" font-size="20.0" font-family='"Liberation Serif", serif' stroke="#000" stroke-width="0.3" fill="#000">0.004</text>
<text transform="translate(217.27 856.00) scale(1.0346 0.9500)" font-size="20.0" font-family='"Liberation Serif", serif' stroke="#000" stroke-width="0.3" fill="#000">0.000</text>
<text transform="translate(446.37 856.00) scale(1.0299 0.9500)" font-size="20.0" font-family='"Liberation Serif", serif' stroke="#000" stroke-width="0.3" fill="#000">67.26</text>
<text transform="translate(531.17 856.00) scale(1.0323 0.9500)" font-size="20.0" font-family='"Liberation Serif", serif' stroke="#000" stroke-width="0.3" fill="#000">67.28</text>
<text transform="translate(666.38 856.00) scale(1.0298 0.9500)" font-size="20.0" font-family='"Liberation Serif", serif' stroke="#000" stroke-width="0.3" fill="#000">0.316</text>
<text transform="translate(778.07 856.00) scale(1.0344 0.9500)" font-size="20.0" font-family='"Liberation Serif", serif' stroke="#000" stroke-width="0.3" fill="#000">0.317</text>
<text transform="translate(44.57 326.15) scale(1.0323 0.9500)" font-size="20.0" font-family='"Liberation Serif", serif' stroke="#000" stroke-width="0.3" fill="#000">67.29</text>
<text transform="translate(44.57 369.77) scale(1.0323 0.9500)" font-size="20.0" font-family='"Liberation Serif", serif' stroke="#000" stroke-width="0.3" fill="#000">67.28</text>
<text transform="translate(44.58 413.39) scale(1.0276 0.9500)" font-size="20.0" font-family='"Liberation Serif", serif' stroke="#000" stroke-width="0.3" fill="#000">67.27</text>
<text transform="translate(44.58 457.01) scale(1.0276 0.9500)" font-size="20.0" font-family='"Liberation Serif", serif' stroke="#000" stroke-width="0.3" fill="#000">67.26</text>
<text transform="translate(44.57 500.63) scale(1.0323 0.9500)" font-size="20.0" font-family='"Liberation Serif", serif' stroke="#000" stroke-width="0.3" fill="#000">67.25</text>
<text transform="translate(44.58 544.25) scale(1.0205 0.9500)" font-size="20.0" font-family='"Liberation Serif", serif' stroke="#000" stroke-width="0.3" fill="#000">67.24</text>
<text transform="translate(34.58 611.77) scale(1.0225 0.9500)" font-size="20.0" font-family='"Liberation Serif", serif' stroke="#000" stroke-width="0.3" fill="#000">0.3175</text>
<text transform="translate(34.58 669.43) scale(1.0225 0.9500)" font-size="20.0" font-family='"Liberation Serif", serif' stroke="#000" stroke-width="0.3" fill="#000">0.3170</text>
<text transform="translate(34.58 727.09) scale(1.0225 0.9500)" font-size="20.0" font-family='"Liberation Serif", serif' stroke="#000" stroke-width="0.3" fill="#000">0.3165</text>
<text transform="translate(34.58 784.75) scale(1.0225 0.9500)" font-size="20.0" font-family='"Liberation Serif", serif' stroke="#000" stroke-width="0.3" fill="#000">0.3160</text>
<text transform="translate(225.48 897.00) scale(1.0838 1.0000)" font-size="29.4" font-family='"Liberation Serif", serif' font-style="italic" fill="#000">β</text>
<text transform="translate(384.21 897.00) scale(1.0498 1.0000)" font-size="29.5" font-family='"Liberation Serif", serif' font-style="italic" fill="#000">H</text>
<text transform="translate(406.00 901.50) scale(1.0658 1.0000)" font-size="21.0" font-family='"Liberation Serif", serif' fill="#000">0</text>
<text transform="translate(428.77 899.45) scale(0.6009 1.1900)" font-size="29.5" font-family='"Liberation Serif", serif' fill="#000">[</text>
<text transform="translate(434.30 897.00) scale(1.0087 1.0000)" font-size="29.5" font-family='"Liberation Serif", serif' fill="#000">km</text>
<text transform="translate(481.08 897.00) scale(1.0331 1.0000)" font-size="29.5" font-family='"Liberation Serif", serif' fill="#000">s</text>
<text transform="translate(492.82 888.30) scale(1.3108 1.0000)" font-size="21.0" font-family='"Liberation Serif", serif' fill="#000">−</text>
<text transform="translate(508.62 886.90) scale(0.9932 1.0000)" font-size="21.0" font-family='"Liberation Serif", serif' fill="#000">1</text>
<text transform="translate(529.71 897.00) scale(1.0093 1.0000)" font-size="29.5" font-family='"Liberation Serif", serif' fill="#000">Mpc</text>
<text transform="translate(583.61 888.30) scale(1.3210 1.0000)" font-size="21.0" font-family='"Liberation Serif", serif' fill="#000">−</text>
<text transform="translate(598.74 886.90) scale(1.0884 1.0000)" font-size="21.0" font-family='"Liberation Serif", serif' fill="#000">1</text>
<text transform="translate(610.44 899.45) scale(0.7382 1.1900)" font-size="29.5" font-family='"Liberation Serif", serif' fill="#000">]</text>
<text transform="translate(749.25 897.00) scale(0.9799 1.0400)" font-size="29.5" font-family='"Liberation Serif", serif' fill="#000">Ω</text>
<text transform="translate(770.52 901.50) scale(1.0547 1.0000)" font-size="20.5" font-family='"Liberation Serif", serif' fill="#000">m</text>
<text transform="translate(29.30 533.29) rotate(-90) scale(1.0498 1.0000)" font-size="29.5" font-family='"Liberation Serif", serif' font-style="italic" fill="#000">H</text>
<text transform="translate(33.80 511.50) rotate(-90) scale(1.0658 1.0000)" font-size="21.0" font-family='"Liberation Serif", serif' fill="#000">0</text>
<text transform="translate(31.75 488.73) rotate(-90) scale(0.6009 1.1900)" font-size="29.5" font-family='"Liberation Serif", serif' fill="#000">[</text>
<text transform="translate(29.30 483.20) rotate(-90) scale(1.0087 1.0000)" font-size="29.5" font-family='"Liberation Serif", serif' fill="#000">km</text>
<text transform="translate(29.30 436.42) rotate(-90) scale(1.0331 1.0000)" font-size="29.5" font-family='"Liberation Serif", serif' fill="#000">s</text>
<text transform="translate(20.60 424.68) rotate(-90) scale(1.3108 1.0000)" font-size="21.0" font-family='"Liberation Serif", serif' fill="#000">−</text>
<text transform="translate(19.20 408.88) rotate(-90) scale(0.9932 1.0000)" font-size="21.0" font-family='"Liberation Serif", serif' fill="#000">1</text>
<text transform="translate(29.30 387.79) rotate(-90) scale(1.0093 1.0000)" font-size="29.5" font-family='"Liberation Serif", serif' fill="#000">Mpc</text>
<text transform="translate(20.60 333.89) rotate(-90) scale(1.3210 1.0000)" font-size="21.0" font-family='"Liberation Serif", serif' fill="#000">−</text>
<text transform="translate(19.20 318.76) rotate(-90) scale(1.0884 1.0000)" font-size="21.0" font-family='"Liberation Serif", serif' fill="#000">1</text>
<text transform="translate(31.75 307.06) rotate(-90) scale(0.7382 1.1900)" font-size="29.5" font-family='"Liberation Serif", serif' fill="#000">]</text>
<text transform="translate(20.00 714.35) rotate(-90) scale(0.9799 1.0400)" font-size="29.5" font-family='"Liberation Serif", serif' fill="#000">Ω</text>
<text transform="translate(24.50 693.08) rotate(-90) scale(1.0547 1.0000)" font-size="20.5" font-family='"Liberation Serif", serif' fill="#000">m</text>
<rect x="581" y="14.4" width="68" height="25.2" fill="#808080"/>
<text transform="translate(673.66 39.00) scale(0.8743 1.0000)" font-size="34.0" font-family='"Liberation Sans", sans-serif' fill="#000">SLy</text>
<text transform="translate(735.51 39.00) scale(0.9281 1.0000)" font-size="34.0" font-family='"Liberation Sans", sans-serif' fill="#000">(ET2CE)</text>
<rect x="581" y="63.8" width="68" height="25.2" fill="#E03424"/>
<text transform="translate(674.30 88.30) scale(0.9174 1.0000)" font-size="34.0" font-family='"Liberation Sans", sans-serif' fill="#000">MPA1</text>
<text transform="translate(768.52 88.30) scale(0.9202 1.0000)" font-size="34.0" font-family='"Liberation Sans", sans-serif' fill="#000">(ET2CE)</text>
<rect x="581" y="113.2" width="68" height="25.2" fill="#006FED"/>
<text transform="translate(674.10 137.50) scale(0.8816 1.0000)" font-size="34.0" font-family='"Liberation Sans", sans-serif' fill="#000">MS1</text>
<text transform="translate(747.12 137.50) scale(0.9234 1.0000)" font-size="34.0" font-family='"Liberation Sans", sans-serif' fill="#000">(ET2CE)</text>
<path d="M1384.7,332.1 L1387.3,332.0 L1389.5,332.0 L1391.4,332.2 L1393.2,332.5 L1394.8,332.9 L1396.3,333.5 L1397.8,334.2 L1399.3,335.0 L1400.9,336.0 L1402.5,337.1 L1404.0,338.3 L1405.4,339.6 L1406.8,341.1 L1408.1,342.6 L1409.2,344.3 L1410.3,346.0 L1411.1,347.8 L1411.9,349.8 L1412.6,351.9 L1413.1,354.0 L1413.6,356.3 L1413.9,358.5 L1414.2,360.8 L1414.4,363.0 L1414.5,365.2 L1414.5,367.4 L1414.4,369.6 L1414.3,371.8 L1414.0,374.1 L1413.7,376.4 L1413.2,378.8 L1412.7,381.3 L1412.1,383.8 L1411.4,386.4 L1410.6,389.1 L1409.8,391.8 L1408.8,394.6 L1407.8,397.4 L1406.6,400.3 L1405.4,403.2 L1404.0,406.1 L1402.6,409.1 L1401.0,412.2 L1399.3,415.3 L1397.6,418.4 L1395.8,421.5 L1393.9,424.5 L1392.0,427.5 L1390.1,430.3 L1388.2,433.1 L1386.2,435.8 L1384.2,438.4 L1382.1,441.1 L1379.8,443.8 L1377.5,446.5 L1375.0,449.4 L1372.3,452.4 L1369.4,455.5 L1366.4,458.7 L1363.3,461.9 L1360.1,465.0 L1356.9,468.1 L1353.7,471.0 L1350.7,473.7 L1347.6,476.2 L1344.6,478.7 L1341.5,481.0 L1338.5,483.1 L1335.4,485.2 L1332.4,487.2 L1329.4,489.0 L1326.3,490.7 L1323.3,492.4 L1320.2,493.9 L1317.0,495.3 L1313.9,496.5 L1310.8,497.7 L1307.8,498.7 L1304.9,499.7 L1302.0,500.5 L1299.2,501.2 L1296.5,501.8 L1293.9,502.3 L1291.3,502.7 L1288.7,502.9 L1286.2,503.1 L1283.8,503.1 L1281.3,502.9 L1278.9,502.6 L1276.4,502.2 L1274.0,501.6 L1271.6,500.9 L1269.3,500.0 L1267.1,499.1 L1265.0,498.0 L1263.1,496.8 L1261.3,495.5 L1259.7,494.1 L1258.1,492.5 L1256.7,490.8 L1255.4,489.1 L1254.2,487.2 L1253.1,485.3 L1252.1,483.4 L1251.2,481.5 L1250.4,479.6 L1249.7,477.5 L1249.2,475.5 L1248.7,473.3 L1248.3,471.1 L1248.1,468.8 L1248.0,466.4 L1248.0,463.9 L1248.1,461.3 L1248.3,458.6 L1248.6,455.9 L1249.1,453.1 L1249.6,450.2 L1250.3,447.4 L1251.1,444.5 L1252.1,441.6 L1253.2,438.7 L1254.4,435.7 L1255.7,432.7 L1257.2,429.7 L1258.7,426.7 L1260.4,423.7 L1262.1,420.7 L1263.9,417.7 L1265.8,414.7 L1267.8,411.8 L1270.0,408.8 L1272.1,405.8 L1274.4,402.8 L1276.7,399.8 L1279.1,396.8 L1281.6,393.8 L1284.1,390.7 L1286.6,387.6 L1289.2,384.4 L1292.0,381.3 L1294.7,378.3 L1297.6,375.3 L1300.5,372.5 L1303.6,369.8 L1306.7,367.1 L1309.9,364.4 L1313.2,361.9 L1316.6,359.4 L1320.0,357.0 L1323.4,354.7 L1326.8,352.5 L1330.3,350.5 L1333.8,348.5 L1337.4,346.6 L1341.0,344.8 L1344.6,343.1 L1348.3,341.5 L1351.9,340.0 L1355.5,338.7 L1359.2,337.4 L1363.1,336.3 L1367.1,335.3 L1371.0,334.3 L1374.8,333.6 L1378.4,332.9 L1381.8,332.4Z" fill="none" stroke="#000000" stroke-width="1.8" stroke-linejoin="round"/>
<path d="M1362.8,365.4 L1364.5,365.6 L1366.2,365.8 L1367.8,366.0 L1369.4,366.4 L1370.9,366.9 L1372.4,367.5 L1373.7,368.2 L1375.0,369.1 L1376.1,370.1 L1377.2,371.3 L1378.2,372.6 L1379.1,374.0 L1379.9,375.4 L1380.6,377.0 L1381.3,378.5 L1381.8,380.0 L1382.2,381.6 L1382.6,383.1 L1382.9,384.6 L1383.0,386.2 L1383.1,387.9 L1383.1,389.6 L1383.0,391.4 L1382.8,393.4 L1382.4,395.6 L1382.0,397.9 L1381.5,400.3 L1380.9,402.8 L1380.2,405.4 L1379.4,407.9 L1378.4,410.5 L1377.4,412.9 L1376.3,415.3 L1375.0,417.7 L1373.6,420.0 L1372.2,422.4 L1370.6,424.7 L1369.0,427.1 L1367.3,429.4 L1365.5,431.6 L1363.6,433.9 L1361.7,436.1 L1359.7,438.4 L1357.6,440.6 L1355.4,442.7 L1353.2,444.9 L1351.0,446.9 L1348.7,448.9 L1346.4,450.8 L1344.0,452.8 L1341.6,454.6 L1339.2,456.5 L1336.7,458.2 L1334.2,459.9 L1331.7,461.4 L1329.2,462.8 L1326.7,464.0 L1324.2,465.2 L1321.6,466.2 L1319.0,467.1 L1316.4,468.0 L1313.9,468.7 L1311.5,469.3 L1309.3,469.8 L1307.2,470.2 L1305.2,470.5 L1303.2,470.7 L1301.4,470.8 L1299.6,470.8 L1297.9,470.7 L1296.3,470.4 L1294.7,470.1 L1293.2,469.6 L1291.7,468.9 L1290.3,468.1 L1288.9,467.3 L1287.7,466.3 L1286.5,465.2 L1285.4,464.0 L1284.5,462.8 L1283.6,461.4 L1282.9,459.9 L1282.2,458.4 L1281.7,456.7 L1281.2,454.9 L1280.9,453.1 L1280.7,451.3 L1280.6,449.4 L1280.6,447.4 L1280.7,445.4 L1281.0,443.4 L1281.3,441.3 L1281.8,439.1 L1282.3,436.9 L1283.0,434.6 L1283.7,432.4 L1284.6,430.0 L1285.6,427.7 L1286.6,425.2 L1287.8,422.8 L1289.1,420.3 L1290.5,417.8 L1291.9,415.3 L1293.5,412.9 L1295.1,410.4 L1296.9,407.9 L1298.8,405.4 L1300.8,402.9 L1302.8,400.5 L1304.9,398.0 L1307.1,395.7 L1309.3,393.4 L1311.6,391.2 L1313.9,389.1 L1316.3,387.0 L1318.8,384.9 L1321.3,382.9 L1323.8,381.1 L1326.3,379.3 L1328.8,377.6 L1331.2,376.1 L1333.7,374.6 L1336.3,373.2 L1338.8,371.9 L1341.3,370.7 L1343.7,369.7 L1346.0,368.7 L1348.2,367.9 L1350.3,367.2 L1352.3,366.6 L1354.2,366.2 L1356.0,365.8 L1357.7,365.6 L1359.5,365.5 L1361.1,365.4Z" fill="none" stroke="#000000" stroke-width="1.8" stroke-linejoin="round"/>
<path d="M1386.7,331.8 L1389.2,331.6 L1391.4,331.6 L1393.4,331.8 L1395.1,332.0 L1396.7,332.5 L1398.2,333.0 L1399.7,333.7 L1401.2,334.5 L1402.8,335.4 L1404.3,336.5 L1405.8,337.7 L1407.2,339.0 L1408.6,340.4 L1409.8,341.9 L1411.0,343.5 L1412.0,345.2 L1412.8,347.0 L1413.6,349.0 L1414.2,351.0 L1414.7,353.2 L1415.1,355.4 L1415.5,357.6 L1415.7,359.8 L1415.9,362.0 L1416.0,364.2 L1416.0,366.4 L1415.9,368.5 L1415.7,370.7 L1415.4,373.0 L1415.0,375.3 L1414.5,377.6 L1414.0,380.1 L1413.4,382.6 L1412.7,385.2 L1411.9,387.9 L1411.0,390.6 L1410.0,393.3 L1408.9,396.1 L1407.8,399.0 L1406.5,401.8 L1405.1,404.7 L1403.6,407.8 L1402.0,410.8 L1400.3,413.9 L1398.5,417.0 L1396.7,420.1 L1394.8,423.1 L1392.9,426.0 L1391.0,428.9 L1389.0,431.6 L1387.0,434.3 L1385.0,436.9 L1382.9,439.6 L1380.6,442.3 L1378.2,445.0 L1375.7,447.9 L1373.0,450.8 L1370.1,454.0 L1367.1,457.1 L1363.9,460.3 L1360.7,463.5 L1357.5,466.6 L1354.4,469.5 L1351.2,472.2 L1348.2,474.7 L1345.1,477.2 L1342.1,479.5 L1339.0,481.7 L1336.0,483.7 L1332.9,485.7 L1329.9,487.6 L1326.9,489.3 L1323.8,491.0 L1320.7,492.5 L1317.6,493.9 L1314.5,495.2 L1311.4,496.4 L1308.4,497.4 L1305.4,498.4 L1302.5,499.2 L1299.8,499.9 L1297.1,500.6 L1294.4,501.1 L1291.8,501.5 L1289.3,501.8 L1286.8,502.0 L1284.4,502.0 L1281.9,501.8 L1279.5,501.6 L1277.1,501.2 L1274.6,500.6 L1272.3,499.9 L1270.0,499.1 L1267.8,498.2 L1265.7,497.2 L1263.8,496.0 L1262.1,494.8 L1260.5,493.4 L1259.0,491.8 L1257.6,490.2 L1256.3,488.4 L1255.1,486.6 L1254.1,484.8 L1253.1,482.9 L1252.2,481.0 L1251.5,479.1 L1250.8,477.1 L1250.3,475.1 L1249.8,472.9 L1249.5,470.8 L1249.3,468.5 L1249.2,466.1 L1249.2,463.7 L1249.3,461.1 L1249.6,458.4 L1249.9,455.7 L1250.4,452.9 L1251.0,450.1 L1251.7,447.3 L1252.6,444.4 L1253.5,441.6 L1254.7,438.6 L1255.9,435.7 L1257.3,432.7 L1258.7,429.7 L1260.3,426.7 L1262.0,423.7 L1263.7,420.7 L1265.5,417.8 L1267.5,414.8 L1269.5,411.8 L1271.7,408.9 L1273.9,405.9 L1276.2,402.9 L1278.5,400.0 L1280.9,397.0 L1283.4,393.9 L1285.9,390.8 L1288.5,387.7 L1291.1,384.6 L1293.9,381.5 L1296.7,378.4 L1299.5,375.5 L1302.5,372.7 L1305.5,369.9 L1308.7,367.2 L1311.9,364.6 L1315.2,362.0 L1318.6,359.5 L1322.0,357.1 L1325.4,354.8 L1328.9,352.6 L1332.3,350.5 L1335.9,348.5 L1339.4,346.6 L1343.0,344.8 L1346.7,343.1 L1350.3,341.5 L1354.0,340.0 L1357.6,338.6 L1361.3,337.3 L1365.2,336.2 L1369.1,335.1 L1373.0,334.1 L1376.8,333.3 L1380.4,332.6 L1383.8,332.1Z" fill="none" stroke="#ff0000" stroke-width="1.8" stroke-linejoin="round"/>
<path d="M1364.5,365.0 L1366.2,365.1 L1367.9,365.3 L1369.5,365.5 L1371.1,365.9 L1372.6,366.4 L1374.0,366.9 L1375.4,367.6 L1376.6,368.5 L1377.7,369.4 L1378.8,370.6 L1379.8,371.8 L1380.6,373.2 L1381.4,374.7 L1382.1,376.2 L1382.7,377.7 L1383.3,379.2 L1383.7,380.7 L1384.0,382.2 L1384.3,383.7 L1384.4,385.3 L1384.5,386.9 L1384.5,388.6 L1384.3,390.5 L1384.1,392.4 L1383.7,394.6 L1383.3,396.8 L1382.8,399.3 L1382.1,401.7 L1381.4,404.3 L1380.5,406.8 L1379.6,409.3 L1378.5,411.7 L1377.4,414.1 L1376.1,416.5 L1374.7,418.9 L1373.2,421.2 L1371.6,423.5 L1370.0,425.9 L1368.3,428.1 L1366.5,430.4 L1364.6,432.7 L1362.7,434.9 L1360.6,437.1 L1358.5,439.3 L1356.3,441.5 L1354.1,443.6 L1351.9,445.7 L1349.6,447.7 L1347.3,449.6 L1344.9,451.6 L1342.5,453.4 L1340.0,455.3 L1337.5,457.0 L1335.0,458.7 L1332.5,460.2 L1330.1,461.6 L1327.6,462.9 L1325.0,464.0 L1322.4,465.1 L1319.8,466.1 L1317.2,466.9 L1314.7,467.6 L1312.4,468.3 L1310.1,468.8 L1308.0,469.2 L1306.0,469.6 L1304.1,469.8 L1302.3,469.9 L1300.5,469.9 L1298.8,469.8 L1297.2,469.6 L1295.6,469.2 L1294.1,468.7 L1292.6,468.1 L1291.2,467.4 L1289.9,466.5 L1288.6,465.5 L1287.5,464.5 L1286.4,463.3 L1285.5,462.1 L1284.7,460.8 L1284.0,459.3 L1283.3,457.8 L1282.8,456.1 L1282.4,454.4 L1282.1,452.6 L1281.9,450.8 L1281.8,448.9 L1281.8,447.0 L1282.0,445.0 L1282.2,443.0 L1282.6,440.9 L1283.1,438.7 L1283.7,436.5 L1284.3,434.3 L1285.1,432.0 L1286.0,429.7 L1287.0,427.4 L1288.1,425.0 L1289.3,422.5 L1290.6,420.0 L1292.0,417.6 L1293.5,415.1 L1295.0,412.7 L1296.7,410.2 L1298.5,407.7 L1300.4,405.2 L1302.4,402.7 L1304.5,400.3 L1306.6,397.9 L1308.8,395.5 L1311.0,393.2 L1313.2,391.1 L1315.6,388.9 L1318.0,386.8 L1320.5,384.7 L1323.0,382.7 L1325.5,380.8 L1328.1,379.1 L1330.5,377.4 L1333.0,375.8 L1335.5,374.3 L1338.0,372.9 L1340.6,371.6 L1343.0,370.4 L1345.5,369.4 L1347.8,368.4 L1350.0,367.6 L1352.1,366.8 L1354.0,366.3 L1355.9,365.8 L1357.7,365.4 L1359.5,365.2 L1361.2,365.0 L1362.9,365.0Z" fill="none" stroke="#ff0000" stroke-width="1.8" stroke-linejoin="round"/>
<path d="M1385.7,331.4 L1388.3,331.3 L1390.5,331.3 L1392.4,331.5 L1394.2,331.8 L1395.8,332.2 L1397.3,332.8 L1398.8,333.5 L1400.3,334.3 L1401.9,335.3 L1403.5,336.4 L1405.0,337.6 L1406.4,338.9 L1407.8,340.4 L1409.1,341.9 L1410.2,343.6 L1411.3,345.3 L1412.1,347.1 L1412.9,349.1 L1413.6,351.2 L1414.1,353.3 L1414.6,355.6 L1414.9,357.8 L1415.2,360.1 L1415.4,362.3 L1415.5,364.5 L1415.5,366.7 L1415.4,368.9 L1415.3,371.1 L1415.0,373.4 L1414.7,375.7 L1414.2,378.1 L1413.7,380.6 L1413.1,383.1 L1412.4,385.7 L1411.6,388.4 L1410.8,391.1 L1409.8,393.9 L1408.8,396.7 L1407.6,399.6 L1406.4,402.5 L1405.0,405.4 L1403.6,408.4 L1402.0,411.5 L1400.3,414.6 L1398.6,417.7 L1396.8,420.8 L1394.9,423.8 L1393.0,426.8 L1391.1,429.6 L1389.2,432.4 L1387.2,435.1 L1385.2,437.7 L1383.1,440.4 L1380.8,443.1 L1378.5,445.8 L1376.0,448.7 L1373.3,451.7 L1370.4,454.8 L1367.4,458.0 L1364.3,461.2 L1361.1,464.3 L1357.9,467.4 L1354.7,470.3 L1351.7,473.0 L1348.6,475.5 L1345.6,478.0 L1342.5,480.3 L1339.5,482.4 L1336.4,484.5 L1333.4,486.5 L1330.4,488.3 L1327.3,490.0 L1324.3,491.7 L1321.2,493.2 L1318.0,494.6 L1314.9,495.8 L1311.8,497.0 L1308.8,498.0 L1305.9,499.0 L1303.0,499.8 L1300.2,500.5 L1297.5,501.1 L1294.9,501.6 L1292.3,502.0 L1289.7,502.2 L1287.2,502.4 L1284.8,502.4 L1282.3,502.2 L1279.9,501.9 L1277.4,501.5 L1275.0,500.9 L1272.6,500.2 L1270.3,499.3 L1268.1,498.4 L1266.0,497.3 L1264.1,496.1 L1262.3,494.8 L1260.7,493.4 L1259.1,491.8 L1257.7,490.1 L1256.4,488.4 L1255.2,486.5 L1254.1,484.6 L1253.1,482.7 L1252.2,480.8 L1251.4,478.9 L1250.7,476.8 L1250.2,474.8 L1249.7,472.6 L1249.3,470.4 L1249.1,468.1 L1249.0,465.7 L1249.0,463.2 L1249.1,460.6 L1249.3,457.9 L1249.6,455.2 L1250.1,452.4 L1250.6,449.5 L1251.3,446.7 L1252.1,443.8 L1253.1,440.9 L1254.2,438.0 L1255.4,435.0 L1256.7,432.0 L1258.2,429.0 L1259.7,426.0 L1261.4,423.0 L1263.1,420.0 L1264.9,417.0 L1266.8,414.0 L1268.8,411.1 L1271.0,408.1 L1273.1,405.1 L1275.4,402.1 L1277.7,399.1 L1280.1,396.1 L1282.6,393.1 L1285.1,390.0 L1287.6,386.9 L1290.2,383.7 L1293.0,380.6 L1295.7,377.6 L1298.6,374.6 L1301.5,371.8 L1304.6,369.1 L1307.7,366.4 L1310.9,363.7 L1314.2,361.2 L1317.6,358.7 L1321.0,356.3 L1324.4,354.0 L1327.8,351.8 L1331.3,349.8 L1334.8,347.8 L1338.4,345.9 L1342.0,344.1 L1345.6,342.4 L1349.3,340.8 L1352.9,339.3 L1356.5,338.0 L1360.2,336.7 L1364.1,335.6 L1368.1,334.6 L1372.0,333.6 L1375.8,332.9 L1379.4,332.2 L1382.8,331.7Z" fill="none" stroke="#0000ff" stroke-width="1.8" stroke-linejoin="round"/>
<path d="M1363.8,364.7 L1365.5,364.9 L1367.2,365.1 L1368.8,365.3 L1370.4,365.7 L1371.9,366.2 L1373.4,366.8 L1374.7,367.5 L1376.0,368.4 L1377.1,369.4 L1378.2,370.6 L1379.2,371.9 L1380.1,373.3 L1380.9,374.7 L1381.6,376.3 L1382.3,377.8 L1382.8,379.3 L1383.2,380.9 L1383.6,382.4 L1383.9,383.9 L1384.0,385.5 L1384.1,387.2 L1384.1,388.9 L1384.0,390.7 L1383.8,392.7 L1383.4,394.9 L1383.0,397.2 L1382.5,399.6 L1381.9,402.1 L1381.2,404.7 L1380.4,407.2 L1379.4,409.8 L1378.4,412.2 L1377.3,414.6 L1376.0,417.0 L1374.6,419.3 L1373.2,421.7 L1371.6,424.0 L1370.0,426.4 L1368.3,428.7 L1366.5,430.9 L1364.6,433.2 L1362.7,435.4 L1360.7,437.7 L1358.6,439.9 L1356.4,442.0 L1354.2,444.2 L1352.0,446.2 L1349.7,448.2 L1347.4,450.1 L1345.0,452.1 L1342.6,453.9 L1340.2,455.8 L1337.7,457.5 L1335.2,459.2 L1332.7,460.7 L1330.2,462.1 L1327.7,463.3 L1325.2,464.5 L1322.6,465.5 L1320.0,466.4 L1317.4,467.3 L1314.9,468.0 L1312.5,468.6 L1310.3,469.1 L1308.2,469.5 L1306.2,469.8 L1304.2,470.0 L1302.4,470.1 L1300.6,470.1 L1298.9,470.0 L1297.3,469.7 L1295.7,469.4 L1294.2,468.9 L1292.7,468.2 L1291.3,467.4 L1289.9,466.6 L1288.7,465.6 L1287.5,464.5 L1286.4,463.3 L1285.5,462.1 L1284.6,460.7 L1283.9,459.2 L1283.2,457.7 L1282.7,456.0 L1282.2,454.2 L1281.9,452.4 L1281.7,450.6 L1281.6,448.7 L1281.6,446.7 L1281.7,444.7 L1282.0,442.7 L1282.3,440.6 L1282.8,438.4 L1283.3,436.2 L1284.0,433.9 L1284.7,431.7 L1285.6,429.3 L1286.6,427.0 L1287.6,424.5 L1288.8,422.1 L1290.1,419.6 L1291.5,417.1 L1292.9,414.6 L1294.5,412.2 L1296.1,409.7 L1297.9,407.2 L1299.8,404.7 L1301.8,402.2 L1303.8,399.8 L1305.9,397.3 L1308.1,395.0 L1310.3,392.7 L1312.6,390.5 L1314.9,388.4 L1317.3,386.3 L1319.8,384.2 L1322.3,382.2 L1324.8,380.4 L1327.3,378.6 L1329.8,376.9 L1332.2,375.4 L1334.7,373.9 L1337.3,372.5 L1339.8,371.2 L1342.3,370.0 L1344.7,369.0 L1347.0,368.0 L1349.2,367.2 L1351.3,366.5 L1353.3,365.9 L1355.2,365.5 L1357.0,365.1 L1358.7,364.9 L1360.5,364.8 L1362.1,364.7Z" fill="none" stroke="#0000ff" stroke-width="1.8" stroke-linejoin="round"/>
<path d="M1248.1,619.6 L1248.2,617.6 L1248.5,615.7 L1249.1,613.8 L1250.1,612.1 L1251.4,610.7 L1253.0,609.6 L1254.8,608.8 L1256.7,608.3 L1258.6,608.0 L1260.6,608.2 L1262.6,608.5 L1264.5,609.0 L1266.4,609.6 L1268.3,610.2 L1270.2,610.8 L1272.1,611.5 L1274.0,612.2 L1275.8,613.0 L1277.6,613.8 L1279.4,614.7 L1281.2,615.6 L1283.0,616.5 L1284.8,617.4 L1286.5,618.4 L1288.2,619.4 L1289.9,620.5 L1291.7,621.5 L1293.3,622.6 L1295.0,623.7 L1296.7,624.8 L1298.4,625.9 L1300.0,627.0 L1301.6,628.2 L1303.3,629.3 L1304.9,630.5 L1306.5,631.7 L1308.1,632.9 L1309.7,634.1 L1311.3,635.3 L1312.9,636.5 L1314.5,637.7 L1316.0,639.0 L1317.6,640.2 L1319.2,641.5 L1320.7,642.7 L1322.3,644.0 L1323.8,645.3 L1325.3,646.5 L1326.9,647.8 L1328.4,649.1 L1329.9,650.4 L1331.4,651.8 L1332.9,653.1 L1334.4,654.4 L1335.9,655.8 L1337.4,657.1 L1338.8,658.5 L1340.3,659.8 L1341.8,661.2 L1343.2,662.6 L1344.7,664.0 L1346.1,665.3 L1347.5,666.7 L1348.9,668.2 L1350.3,669.6 L1351.7,671.0 L1353.1,672.4 L1354.5,673.9 L1355.9,675.3 L1357.3,676.8 L1358.6,678.3 L1360.0,679.7 L1361.3,681.2 L1362.7,682.7 L1364.0,684.2 L1365.3,685.7 L1366.7,687.2 L1368.0,688.7 L1369.3,690.2 L1370.6,691.7 L1371.8,693.3 L1373.1,694.8 L1374.4,696.4 L1375.7,697.9 L1376.9,699.5 L1378.2,701.0 L1379.4,702.6 L1380.7,704.2 L1381.9,705.7 L1383.1,707.3 L1384.3,708.9 L1385.5,710.5 L1386.7,712.1 L1387.9,713.7 L1389.1,715.3 L1390.3,716.9 L1391.5,718.6 L1392.6,720.2 L1393.7,721.8 L1394.9,723.5 L1396.0,725.1 L1397.1,726.8 L1398.2,728.5 L1399.3,730.2 L1400.3,731.9 L1401.4,733.6 L1402.4,735.3 L1403.4,737.0 L1404.4,738.8 L1405.4,740.5 L1406.3,742.3 L1407.2,744.1 L1408.1,745.8 L1409.0,747.7 L1409.8,749.5 L1410.6,751.3 L1411.4,753.1 L1412.2,755.0 L1412.8,756.9 L1413.4,758.8 L1413.8,760.7 L1414.1,762.7 L1414.3,764.7 L1414.3,766.7 L1414.3,768.7 L1414.1,770.7 L1413.9,772.7 L1413.5,774.6 L1412.8,776.5 L1412.0,778.3 L1410.8,779.8 L1409.2,780.9 L1407.5,781.7 L1405.5,782.0 L1403.6,781.9 L1401.6,781.6 L1399.7,781.2 L1397.7,780.6 L1395.9,779.9 L1394.0,779.2 L1392.1,778.4 L1390.3,777.7 L1388.5,776.9 L1386.6,776.1 L1384.8,775.3 L1383.0,774.5 L1381.1,773.6 L1379.4,772.7 L1377.6,771.8 L1375.8,770.8 L1374.1,769.8 L1372.4,768.8 L1370.7,767.8 L1369.0,766.8 L1367.3,765.7 L1365.6,764.6 L1363.9,763.5 L1362.2,762.4 L1360.6,761.3 L1358.9,760.2 L1357.3,759.1 L1355.6,757.9 L1354.0,756.7 L1352.4,755.6 L1350.8,754.4 L1349.2,753.2 L1347.6,751.9 L1346.0,750.7 L1344.4,749.5 L1342.9,748.2 L1341.3,747.0 L1339.8,745.7 L1338.3,744.4 L1336.7,743.1 L1335.2,741.8 L1333.7,740.5 L1332.3,739.1 L1330.8,737.8 L1329.3,736.4 L1327.9,735.0 L1326.4,733.6 L1325.0,732.3 L1323.6,730.8 L1322.1,729.4 L1320.7,728.0 L1319.3,726.6 L1318.0,725.1 L1316.6,723.7 L1315.2,722.2 L1313.9,720.7 L1312.5,719.3 L1311.2,717.8 L1309.8,716.3 L1308.5,714.8 L1307.2,713.3 L1305.9,711.8 L1304.6,710.3 L1303.2,708.8 L1301.9,707.3 L1300.6,705.7 L1299.4,704.2 L1298.1,702.7 L1296.8,701.1 L1295.5,699.6 L1294.2,698.0 L1293.0,696.5 L1291.7,694.9 L1290.5,693.4 L1289.2,691.8 L1288.0,690.3 L1286.7,688.7 L1285.5,687.1 L1284.3,685.5 L1283.0,683.9 L1281.8,682.4 L1280.6,680.8 L1279.4,679.2 L1278.2,677.6 L1277.0,675.9 L1275.9,674.3 L1274.7,672.7 L1273.5,671.1 L1272.4,669.4 L1271.2,667.8 L1270.1,666.2 L1269.0,664.5 L1267.9,662.8 L1266.7,661.2 L1265.7,659.5 L1264.6,657.8 L1263.5,656.1 L1262.5,654.4 L1261.4,652.7 L1260.4,651.0 L1259.4,649.2 L1258.4,647.5 L1257.5,645.7 L1256.6,644.0 L1255.6,642.2 L1254.8,640.4 L1253.9,638.6 L1253.1,636.8 L1252.3,634.9 L1251.5,633.1 L1250.8,631.2 L1250.1,629.3 L1249.5,627.4 L1249.0,625.5 L1248.6,623.6 L1248.3,621.6Z" fill="none" stroke="#000000" stroke-width="1.8" stroke-linejoin="round"/>
<path d="M1279.9,647.0 L1280.1,645.1 L1280.7,643.3 L1281.9,641.9 L1283.6,640.9 L1285.4,640.5 L1287.4,640.6 L1289.3,641.0 L1291.3,641.6 L1293.1,642.2 L1295.0,642.9 L1296.9,643.7 L1298.7,644.6 L1300.5,645.5 L1302.2,646.4 L1304.0,647.4 L1305.7,648.4 L1307.4,649.5 L1309.1,650.6 L1310.7,651.7 L1312.4,652.8 L1314.0,654.0 L1315.6,655.2 L1317.2,656.4 L1318.8,657.6 L1320.4,658.8 L1322.0,660.1 L1323.5,661.3 L1325.1,662.6 L1326.6,663.9 L1328.1,665.2 L1329.6,666.5 L1331.1,667.9 L1332.6,669.2 L1334.1,670.6 L1335.6,672.0 L1337.0,673.3 L1338.5,674.7 L1339.9,676.1 L1341.3,677.5 L1342.7,679.0 L1344.1,680.4 L1345.5,681.9 L1346.9,683.3 L1348.2,684.8 L1349.6,686.3 L1350.9,687.8 L1352.2,689.3 L1353.6,690.8 L1354.9,692.3 L1356.1,693.9 L1357.4,695.4 L1358.7,697.0 L1359.9,698.5 L1361.1,700.1 L1362.4,701.7 L1363.6,703.3 L1364.7,704.9 L1365.9,706.6 L1367.1,708.2 L1368.2,709.9 L1369.3,711.5 L1370.4,713.2 L1371.5,714.9 L1372.5,716.6 L1373.6,718.3 L1374.6,720.1 L1375.5,721.8 L1376.5,723.6 L1377.4,725.4 L1378.2,727.2 L1379.0,729.0 L1379.8,730.9 L1380.5,732.8 L1381.1,734.7 L1381.7,736.6 L1382.1,738.5 L1382.3,740.5 L1382.3,742.5 L1382.1,744.4 L1381.3,746.2 L1380.1,747.6 L1378.5,748.4 L1376.6,748.6 L1374.6,748.4 L1372.7,747.9 L1370.8,747.3 L1368.9,746.6 L1367.0,745.8 L1365.2,745.0 L1363.4,744.2 L1361.6,743.3 L1359.8,742.3 L1358.1,741.3 L1356.4,740.3 L1354.7,739.2 L1353.0,738.1 L1351.3,737.0 L1349.7,735.9 L1348.1,734.7 L1346.4,733.5 L1344.8,732.3 L1343.2,731.1 L1341.7,729.9 L1340.1,728.6 L1338.5,727.3 L1337.0,726.1 L1335.5,724.8 L1334.0,723.4 L1332.5,722.1 L1331.0,720.8 L1329.5,719.4 L1328.0,718.1 L1326.6,716.7 L1325.1,715.3 L1323.7,713.9 L1322.3,712.5 L1320.9,711.0 L1319.5,709.6 L1318.1,708.1 L1316.8,706.7 L1315.4,705.2 L1314.0,703.7 L1312.7,702.2 L1311.4,700.7 L1310.1,699.2 L1308.8,697.7 L1307.5,696.1 L1306.2,694.6 L1304.9,693.0 L1303.7,691.5 L1302.4,689.9 L1301.2,688.3 L1300.0,686.7 L1298.8,685.1 L1297.6,683.5 L1296.4,681.9 L1295.3,680.2 L1294.1,678.6 L1293.0,676.9 L1291.9,675.3 L1290.8,673.6 L1289.8,671.9 L1288.7,670.2 L1287.7,668.4 L1286.8,666.7 L1285.8,664.9 L1284.9,663.1 L1284.1,661.3 L1283.3,659.5 L1282.5,657.6 L1281.8,655.7 L1281.1,653.8 L1280.6,651.9 L1280.2,650.0 L1279.9,648.0Z" fill="none" stroke="#000000" stroke-width="1.8" stroke-linejoin="round"/>
<path d="M1248.1,620.2 L1248.2,618.2 L1248.5,616.3 L1249.1,614.4 L1250.0,612.7 L1251.3,611.3 L1252.9,610.1 L1254.7,609.3 L1256.6,608.8 L1258.6,608.5 L1260.5,608.6 L1262.5,608.9 L1264.4,609.4 L1266.4,610.0 L1268.3,610.6 L1270.2,611.2 L1272.0,611.9 L1273.9,612.6 L1275.8,613.4 L1277.6,614.2 L1279.4,615.0 L1281.2,615.9 L1283.0,616.8 L1284.7,617.8 L1286.5,618.7 L1288.2,619.7 L1289.9,620.8 L1291.6,621.8 L1293.3,622.9 L1295.0,624.0 L1296.7,625.1 L1298.4,626.2 L1300.0,627.3 L1301.7,628.4 L1303.3,629.6 L1304.9,630.7 L1306.5,631.9 L1308.2,633.1 L1309.8,634.3 L1311.4,635.5 L1312.9,636.7 L1314.5,638.0 L1316.1,639.2 L1317.7,640.4 L1319.2,641.7 L1320.8,642.9 L1322.3,644.2 L1323.9,645.5 L1325.4,646.8 L1326.9,648.0 L1328.5,649.3 L1330.0,650.6 L1331.5,652.0 L1333.0,653.3 L1334.5,654.6 L1336.0,655.9 L1337.5,657.3 L1339.0,658.6 L1340.4,660.0 L1341.9,661.3 L1343.3,662.7 L1344.8,664.1 L1346.2,665.5 L1347.7,666.9 L1349.1,668.3 L1350.5,669.7 L1351.9,671.1 L1353.3,672.5 L1354.7,674.0 L1356.1,675.4 L1357.5,676.9 L1358.8,678.3 L1360.2,679.8 L1361.6,681.3 L1362.9,682.8 L1364.2,684.2 L1365.6,685.7 L1366.9,687.2 L1368.2,688.7 L1369.5,690.3 L1370.8,691.8 L1372.1,693.3 L1373.4,694.8 L1374.7,696.4 L1375.9,697.9 L1377.2,699.5 L1378.5,701.0 L1379.7,702.6 L1381.0,704.1 L1382.2,705.7 L1383.4,707.3 L1384.7,708.9 L1385.9,710.5 L1387.1,712.1 L1388.3,713.7 L1389.5,715.3 L1390.7,716.9 L1391.8,718.5 L1393.0,720.1 L1394.2,721.8 L1395.3,723.4 L1396.4,725.0 L1397.6,726.7 L1398.7,728.4 L1399.8,730.0 L1400.9,731.7 L1401.9,733.4 L1403.0,735.1 L1404.0,736.8 L1405.0,738.5 L1406.0,740.3 L1407.0,742.0 L1407.9,743.8 L1408.9,745.6 L1409.8,747.3 L1410.6,749.2 L1411.5,751.0 L1412.3,752.8 L1413.1,754.6 L1413.9,756.5 L1414.6,758.3 L1415.2,760.3 L1415.6,762.2 L1416.0,764.1 L1416.3,766.1 L1416.4,768.1 L1416.3,770.1 L1416.2,772.1 L1416.0,774.1 L1415.7,776.1 L1415.2,778.0 L1414.5,779.8 L1413.5,781.5 L1412.1,782.9 L1410.5,783.9 L1408.6,784.4 L1406.7,784.6 L1404.7,784.4 L1402.7,784.0 L1400.8,783.5 L1398.9,782.9 L1397.0,782.2 L1395.2,781.5 L1393.3,780.7 L1391.5,779.9 L1389.6,779.2 L1387.8,778.4 L1386.0,777.6 L1384.1,776.7 L1382.3,775.9 L1380.6,775.0 L1378.8,774.0 L1377.0,773.1 L1375.3,772.1 L1373.6,771.1 L1371.9,770.0 L1370.2,769.0 L1368.5,767.9 L1366.8,766.8 L1365.1,765.8 L1363.4,764.7 L1361.8,763.5 L1360.1,762.4 L1358.5,761.3 L1356.8,760.1 L1355.2,758.9 L1353.6,757.8 L1352.0,756.6 L1350.4,755.4 L1348.8,754.2 L1347.2,752.9 L1345.7,751.7 L1344.1,750.4 L1342.5,749.2 L1341.0,747.9 L1339.5,746.6 L1337.9,745.3 L1336.4,744.0 L1334.9,742.7 L1333.5,741.3 L1332.0,740.0 L1330.5,738.6 L1329.0,737.3 L1327.6,735.9 L1326.2,734.5 L1324.7,733.1 L1323.3,731.7 L1321.9,730.2 L1320.5,728.8 L1319.1,727.4 L1317.8,725.9 L1316.4,724.4 L1315.0,723.0 L1313.7,721.5 L1312.4,720.0 L1311.0,718.5 L1309.7,717.0 L1308.4,715.5 L1307.0,714.0 L1305.7,712.5 L1304.4,711.0 L1303.1,709.5 L1301.8,708.0 L1300.5,706.4 L1299.2,704.9 L1297.9,703.4 L1296.7,701.8 L1295.4,700.3 L1294.1,698.8 L1292.9,697.2 L1291.6,695.6 L1290.3,694.1 L1289.1,692.5 L1287.9,691.0 L1286.6,689.4 L1285.4,687.8 L1284.2,686.2 L1282.9,684.6 L1281.7,683.0 L1280.5,681.4 L1279.3,679.8 L1278.1,678.2 L1277.0,676.6 L1275.8,675.0 L1274.6,673.4 L1273.5,671.8 L1272.3,670.1 L1271.2,668.5 L1270.0,666.8 L1268.9,665.2 L1267.8,663.5 L1266.7,661.8 L1265.6,660.2 L1264.5,658.5 L1263.5,656.8 L1262.4,655.1 L1261.4,653.4 L1260.4,651.6 L1259.4,649.9 L1258.4,648.1 L1257.5,646.4 L1256.5,644.6 L1255.6,642.8 L1254.8,641.0 L1253.9,639.2 L1253.1,637.4 L1252.3,635.6 L1251.5,633.7 L1250.8,631.8 L1250.1,630.0 L1249.5,628.1 L1249.0,626.1 L1248.6,624.2 L1248.3,622.2Z" fill="none" stroke="#ff0000" stroke-width="1.8" stroke-linejoin="round"/>
<path d="M1280.3,648.0 L1280.5,646.0 L1281.1,644.2 L1282.3,642.8 L1283.9,641.8 L1285.8,641.4 L1287.7,641.5 L1289.7,641.8 L1291.6,642.4 L1293.5,643.0 L1295.4,643.7 L1297.2,644.5 L1299.0,645.3 L1300.8,646.2 L1302.6,647.2 L1304.3,648.2 L1306.1,649.2 L1307.8,650.2 L1309.5,651.3 L1311.1,652.4 L1312.8,653.6 L1314.4,654.7 L1316.0,655.9 L1317.6,657.1 L1319.2,658.3 L1320.8,659.5 L1322.4,660.8 L1323.9,662.0 L1325.5,663.3 L1327.0,664.6 L1328.5,665.9 L1330.1,667.2 L1331.6,668.5 L1333.0,669.9 L1334.5,671.2 L1336.0,672.6 L1337.4,674.0 L1338.9,675.3 L1340.3,676.7 L1341.8,678.1 L1343.2,679.6 L1344.6,681.0 L1346.0,682.4 L1347.3,683.9 L1348.7,685.4 L1350.1,686.8 L1351.4,688.3 L1352.7,689.8 L1354.0,691.3 L1355.3,692.8 L1356.6,694.4 L1357.9,695.9 L1359.2,697.5 L1360.4,699.0 L1361.7,700.6 L1362.9,702.2 L1364.1,703.8 L1365.3,705.4 L1366.5,707.0 L1367.6,708.6 L1368.8,710.3 L1369.9,711.9 L1371.0,713.6 L1372.1,715.3 L1373.2,717.0 L1374.2,718.7 L1375.3,720.4 L1376.3,722.1 L1377.2,723.9 L1378.2,725.7 L1379.1,727.5 L1379.9,729.3 L1380.7,731.1 L1381.4,733.0 L1382.1,734.8 L1382.8,736.7 L1383.3,738.7 L1383.7,740.6 L1384.0,742.6 L1384.0,744.6 L1383.7,746.5 L1383.0,748.3 L1381.8,749.7 L1380.2,750.5 L1378.3,750.7 L1376.3,750.5 L1374.4,750.1 L1372.5,749.5 L1370.6,748.8 L1368.7,748.1 L1366.9,747.3 L1365.1,746.4 L1363.3,745.5 L1361.5,744.6 L1359.8,743.6 L1358.1,742.6 L1356.4,741.5 L1354.7,740.4 L1353.0,739.3 L1351.4,738.2 L1349.7,737.0 L1348.1,735.9 L1346.5,734.7 L1344.9,733.4 L1343.3,732.2 L1341.8,731.0 L1340.2,729.7 L1338.7,728.4 L1337.1,727.1 L1335.6,725.8 L1334.1,724.5 L1332.6,723.2 L1331.1,721.8 L1329.7,720.5 L1328.2,719.1 L1326.8,717.7 L1325.3,716.3 L1323.9,714.9 L1322.5,713.5 L1321.1,712.0 L1319.7,710.6 L1318.3,709.1 L1317.0,707.7 L1315.6,706.2 L1314.3,704.7 L1313.0,703.2 L1311.6,701.7 L1310.3,700.2 L1309.0,698.6 L1307.8,697.1 L1306.5,695.6 L1305.2,694.0 L1304.0,692.4 L1302.7,690.9 L1301.5,689.3 L1300.3,687.7 L1299.1,686.1 L1297.9,684.5 L1296.7,682.8 L1295.6,681.2 L1294.5,679.6 L1293.3,677.9 L1292.2,676.2 L1291.2,674.5 L1290.1,672.8 L1289.1,671.1 L1288.1,669.4 L1287.1,667.6 L1286.2,665.8 L1285.3,664.1 L1284.4,662.2 L1283.7,660.4 L1282.9,658.5 L1282.2,656.7 L1281.5,654.8 L1281.0,652.9 L1280.6,650.9 L1280.3,648.9Z" fill="none" stroke="#ff0000" stroke-width="1.8" stroke-linejoin="round"/>
<path d="M1249.2,620.7 L1249.3,618.7 L1249.6,616.8 L1250.2,614.9 L1251.2,613.2 L1252.5,611.8 L1254.1,610.7 L1255.9,609.9 L1257.8,609.4 L1259.7,609.1 L1261.7,609.3 L1263.7,609.6 L1265.6,610.1 L1267.5,610.7 L1269.4,611.3 L1271.3,611.9 L1273.2,612.6 L1275.1,613.3 L1276.9,614.1 L1278.7,614.9 L1280.5,615.8 L1282.3,616.7 L1284.1,617.6 L1285.9,618.5 L1287.6,619.5 L1289.3,620.5 L1291.0,621.6 L1292.8,622.6 L1294.4,623.7 L1296.1,624.8 L1297.8,625.9 L1299.5,627.0 L1301.1,628.1 L1302.7,629.3 L1304.4,630.4 L1306.0,631.6 L1307.6,632.8 L1309.2,634.0 L1310.8,635.2 L1312.4,636.4 L1314.0,637.6 L1315.6,638.8 L1317.1,640.1 L1318.7,641.3 L1320.3,642.6 L1321.8,643.8 L1323.4,645.1 L1324.9,646.4 L1326.4,647.6 L1328.0,648.9 L1329.5,650.2 L1331.0,651.5 L1332.5,652.9 L1334.0,654.2 L1335.5,655.5 L1337.0,656.9 L1338.5,658.2 L1339.9,659.6 L1341.4,660.9 L1342.9,662.3 L1344.3,663.7 L1345.8,665.1 L1347.2,666.4 L1348.6,667.8 L1350.0,669.3 L1351.4,670.7 L1352.8,672.1 L1354.2,673.5 L1355.6,675.0 L1357.0,676.4 L1358.4,677.9 L1359.7,679.4 L1361.1,680.8 L1362.4,682.3 L1363.8,683.8 L1365.1,685.3 L1366.4,686.8 L1367.8,688.3 L1369.1,689.8 L1370.4,691.3 L1371.7,692.8 L1372.9,694.4 L1374.2,695.9 L1375.5,697.5 L1376.8,699.0 L1378.0,700.6 L1379.3,702.1 L1380.5,703.7 L1381.8,705.3 L1383.0,706.8 L1384.2,708.4 L1385.4,710.0 L1386.6,711.6 L1387.8,713.2 L1389.0,714.8 L1390.2,716.4 L1391.4,718.0 L1392.6,719.7 L1393.7,721.3 L1394.8,722.9 L1396.0,724.6 L1397.1,726.2 L1398.2,727.9 L1399.3,729.6 L1400.4,731.3 L1401.4,733.0 L1402.5,734.7 L1403.5,736.4 L1404.5,738.1 L1405.5,739.9 L1406.5,741.6 L1407.4,743.4 L1408.3,745.2 L1409.2,746.9 L1410.1,748.8 L1410.9,750.6 L1411.7,752.4 L1412.5,754.2 L1413.3,756.1 L1413.9,758.0 L1414.5,759.9 L1414.9,761.8 L1415.2,763.8 L1415.4,765.8 L1415.4,767.8 L1415.4,769.8 L1415.2,771.8 L1415.0,773.8 L1414.6,775.7 L1413.9,777.6 L1413.1,779.4 L1411.9,780.9 L1410.3,782.0 L1408.6,782.8 L1406.6,783.1 L1404.7,783.0 L1402.7,782.7 L1400.8,782.3 L1398.8,781.7 L1397.0,781.0 L1395.1,780.3 L1393.2,779.5 L1391.4,778.8 L1389.6,778.0 L1387.7,777.2 L1385.9,776.4 L1384.1,775.6 L1382.2,774.7 L1380.5,773.8 L1378.7,772.9 L1376.9,771.9 L1375.2,770.9 L1373.5,769.9 L1371.8,768.9 L1370.1,767.9 L1368.4,766.8 L1366.7,765.7 L1365.0,764.6 L1363.3,763.5 L1361.7,762.4 L1360.0,761.3 L1358.4,760.2 L1356.7,759.0 L1355.1,757.8 L1353.5,756.7 L1351.9,755.5 L1350.3,754.3 L1348.7,753.0 L1347.1,751.8 L1345.5,750.6 L1344.0,749.3 L1342.4,748.1 L1340.9,746.8 L1339.4,745.5 L1337.8,744.2 L1336.3,742.9 L1334.8,741.6 L1333.4,740.2 L1331.9,738.9 L1330.4,737.5 L1329.0,736.1 L1327.5,734.7 L1326.1,733.4 L1324.7,731.9 L1323.2,730.5 L1321.8,729.1 L1320.4,727.7 L1319.1,726.2 L1317.7,724.8 L1316.3,723.3 L1315.0,721.8 L1313.6,720.4 L1312.3,718.9 L1310.9,717.4 L1309.6,715.9 L1308.3,714.4 L1307.0,712.9 L1305.7,711.4 L1304.3,709.9 L1303.0,708.4 L1301.7,706.8 L1300.5,705.3 L1299.2,703.8 L1297.9,702.2 L1296.6,700.7 L1295.3,699.1 L1294.1,697.6 L1292.8,696.0 L1291.6,694.5 L1290.3,692.9 L1289.1,691.4 L1287.8,689.8 L1286.6,688.2 L1285.4,686.6 L1284.1,685.0 L1282.9,683.5 L1281.7,681.9 L1280.5,680.3 L1279.3,678.7 L1278.1,677.0 L1277.0,675.4 L1275.8,673.8 L1274.6,672.2 L1273.5,670.5 L1272.3,668.9 L1271.2,667.3 L1270.1,665.6 L1269.0,663.9 L1267.8,662.3 L1266.8,660.6 L1265.7,658.9 L1264.6,657.2 L1263.6,655.5 L1262.5,653.8 L1261.5,652.1 L1260.5,650.3 L1259.5,648.6 L1258.6,646.8 L1257.7,645.1 L1256.7,643.3 L1255.9,641.5 L1255.0,639.7 L1254.2,637.9 L1253.4,636.0 L1252.6,634.2 L1251.9,632.3 L1251.2,630.4 L1250.6,628.5 L1250.1,626.6 L1249.7,624.7 L1249.4,622.7Z" fill="none" stroke="#0000ff" stroke-width="1.8" stroke-linejoin="round"/>
<path d="M1281.0,648.1 L1281.2,646.2 L1281.8,644.4 L1283.0,643.0 L1284.7,642.0 L1286.5,641.6 L1288.5,641.7 L1290.4,642.1 L1292.4,642.7 L1294.2,643.3 L1296.1,644.0 L1298.0,644.8 L1299.8,645.7 L1301.6,646.6 L1303.3,647.5 L1305.1,648.5 L1306.8,649.5 L1308.5,650.6 L1310.2,651.7 L1311.8,652.8 L1313.5,653.9 L1315.1,655.1 L1316.7,656.3 L1318.3,657.5 L1319.9,658.7 L1321.5,659.9 L1323.1,661.2 L1324.6,662.4 L1326.2,663.7 L1327.7,665.0 L1329.2,666.3 L1330.7,667.6 L1332.2,669.0 L1333.7,670.3 L1335.2,671.7 L1336.7,673.1 L1338.1,674.4 L1339.6,675.8 L1341.0,677.2 L1342.4,678.6 L1343.8,680.1 L1345.2,681.5 L1346.6,683.0 L1348.0,684.4 L1349.3,685.9 L1350.7,687.4 L1352.0,688.9 L1353.3,690.4 L1354.7,691.9 L1356.0,693.4 L1357.2,695.0 L1358.5,696.5 L1359.8,698.1 L1361.0,699.6 L1362.2,701.2 L1363.5,702.8 L1364.7,704.4 L1365.8,706.0 L1367.0,707.7 L1368.2,709.3 L1369.3,711.0 L1370.4,712.6 L1371.5,714.3 L1372.6,716.0 L1373.6,717.7 L1374.7,719.4 L1375.7,721.2 L1376.6,722.9 L1377.6,724.7 L1378.5,726.5 L1379.3,728.3 L1380.1,730.1 L1380.9,732.0 L1381.6,733.9 L1382.2,735.8 L1382.8,737.7 L1383.2,739.6 L1383.4,741.6 L1383.4,743.6 L1383.2,745.5 L1382.4,747.3 L1381.2,748.7 L1379.6,749.5 L1377.7,749.7 L1375.7,749.5 L1373.8,749.0 L1371.9,748.4 L1370.0,747.7 L1368.1,746.9 L1366.3,746.1 L1364.5,745.3 L1362.7,744.4 L1360.9,743.4 L1359.2,742.4 L1357.5,741.4 L1355.8,740.3 L1354.1,739.2 L1352.4,738.1 L1350.8,737.0 L1349.2,735.8 L1347.5,734.6 L1345.9,733.4 L1344.3,732.2 L1342.8,731.0 L1341.2,729.7 L1339.6,728.4 L1338.1,727.2 L1336.6,725.9 L1335.1,724.5 L1333.6,723.2 L1332.1,721.9 L1330.6,720.5 L1329.1,719.2 L1327.7,717.8 L1326.2,716.4 L1324.8,715.0 L1323.4,713.6 L1322.0,712.1 L1320.6,710.7 L1319.2,709.2 L1317.9,707.8 L1316.5,706.3 L1315.1,704.8 L1313.8,703.3 L1312.5,701.8 L1311.2,700.3 L1309.9,698.8 L1308.6,697.2 L1307.3,695.7 L1306.0,694.1 L1304.8,692.6 L1303.5,691.0 L1302.3,689.4 L1301.1,687.8 L1299.9,686.2 L1298.7,684.6 L1297.5,683.0 L1296.4,681.3 L1295.2,679.7 L1294.1,678.0 L1293.0,676.4 L1291.9,674.7 L1290.9,673.0 L1289.8,671.3 L1288.8,669.5 L1287.9,667.8 L1286.9,666.0 L1286.0,664.2 L1285.2,662.4 L1284.4,660.6 L1283.6,658.7 L1282.9,656.8 L1282.2,654.9 L1281.7,653.0 L1281.3,651.1 L1281.0,649.1Z" fill="none" stroke="#0000ff" stroke-width="1.8" stroke-linejoin="round"/>
<path d="M1516.5,621.4 L1516.3,619.4 L1516.3,617.4 L1516.6,615.5 L1517.2,613.6 L1518.1,611.9 L1519.4,610.5 L1521.1,609.5 L1523.0,609.0 L1524.9,608.9 L1526.9,609.1 L1528.8,609.5 L1530.7,610.1 L1532.6,610.7 L1534.5,611.4 L1536.4,612.1 L1538.2,612.9 L1540.0,613.7 L1541.9,614.6 L1543.6,615.5 L1545.4,616.4 L1547.2,617.3 L1548.9,618.3 L1550.6,619.4 L1552.4,620.4 L1554.1,621.5 L1555.7,622.5 L1557.4,623.6 L1559.1,624.8 L1560.7,625.9 L1562.4,627.0 L1564.0,628.2 L1565.6,629.4 L1567.2,630.6 L1568.8,631.7 L1570.4,633.0 L1572.0,634.2 L1573.6,635.4 L1575.2,636.6 L1576.8,637.9 L1578.3,639.1 L1579.9,640.4 L1581.4,641.6 L1583.0,642.9 L1584.5,644.2 L1586.0,645.5 L1587.6,646.8 L1589.1,648.1 L1590.6,649.4 L1592.1,650.7 L1593.6,652.0 L1595.1,653.4 L1596.6,654.7 L1598.1,656.1 L1599.6,657.4 L1601.0,658.8 L1602.5,660.1 L1604.0,661.5 L1605.4,662.9 L1606.9,664.2 L1608.3,665.6 L1609.8,667.0 L1611.2,668.4 L1612.6,669.8 L1614.0,671.2 L1615.5,672.6 L1616.9,674.0 L1618.3,675.5 L1619.7,676.9 L1621.0,678.4 L1622.4,679.8 L1623.8,681.3 L1625.2,682.7 L1626.5,684.2 L1627.9,685.7 L1629.2,687.2 L1630.5,688.7 L1631.9,690.2 L1633.2,691.7 L1634.5,693.2 L1635.8,694.7 L1637.1,696.3 L1638.3,697.8 L1639.6,699.3 L1640.9,700.9 L1642.1,702.4 L1643.4,704.0 L1644.6,705.6 L1645.9,707.2 L1647.1,708.7 L1648.3,710.3 L1649.5,711.9 L1650.7,713.5 L1651.9,715.1 L1653.1,716.8 L1654.3,718.4 L1655.4,720.0 L1656.6,721.7 L1657.7,723.3 L1658.8,724.9 L1660.0,726.6 L1661.1,728.3 L1662.2,729.9 L1663.3,731.6 L1664.3,733.3 L1665.4,735.0 L1666.5,736.7 L1667.5,738.4 L1668.5,740.1 L1669.5,741.9 L1670.5,743.6 L1671.5,745.4 L1672.4,747.1 L1673.3,748.9 L1674.2,750.7 L1675.1,752.5 L1675.9,754.3 L1676.7,756.2 L1677.4,758.0 L1678.1,759.9 L1678.7,761.8 L1679.3,763.7 L1679.8,765.7 L1680.4,767.6 L1680.8,769.5 L1681.2,771.5 L1681.4,773.5 L1681.5,775.5 L1681.4,777.4 L1680.8,779.3 L1679.8,780.9 L1678.3,781.9 L1676.5,782.5 L1674.5,782.5 L1672.6,782.2 L1670.6,781.8 L1668.7,781.2 L1666.8,780.7 L1664.9,780.0 L1663.0,779.4 L1661.1,778.7 L1659.2,778.0 L1657.4,777.2 L1655.6,776.4 L1653.7,775.6 L1651.9,774.7 L1650.2,773.8 L1648.4,772.8 L1646.7,771.8 L1645.0,770.8 L1643.3,769.7 L1641.6,768.7 L1639.9,767.6 L1638.2,766.5 L1636.5,765.4 L1634.9,764.2 L1633.2,763.1 L1631.6,761.9 L1630.0,760.8 L1628.4,759.6 L1626.8,758.4 L1625.2,757.2 L1623.6,756.0 L1622.0,754.8 L1620.4,753.5 L1618.8,752.3 L1617.3,751.0 L1615.7,749.8 L1614.2,748.5 L1612.7,747.2 L1611.1,745.9 L1609.6,744.6 L1608.1,743.3 L1606.6,742.0 L1605.1,740.6 L1603.6,739.3 L1602.1,737.9 L1600.7,736.6 L1599.2,735.2 L1597.7,733.9 L1596.3,732.5 L1594.8,731.1 L1593.4,729.7 L1591.9,728.3 L1590.5,726.9 L1589.1,725.5 L1587.7,724.1 L1586.3,722.7 L1584.9,721.3 L1583.5,719.8 L1582.1,718.4 L1580.7,716.9 L1579.3,715.5 L1577.9,714.0 L1576.6,712.6 L1575.2,711.1 L1573.9,709.6 L1572.5,708.1 L1571.2,706.6 L1569.9,705.1 L1568.6,703.6 L1567.3,702.1 L1565.9,700.6 L1564.7,699.1 L1563.4,697.5 L1562.1,696.0 L1560.8,694.4 L1559.5,692.9 L1558.3,691.3 L1557.0,689.8 L1555.8,688.2 L1554.5,686.6 L1553.3,685.1 L1552.1,683.5 L1550.9,681.9 L1549.7,680.3 L1548.5,678.7 L1547.3,677.1 L1546.1,675.5 L1544.9,673.9 L1543.7,672.2 L1542.6,670.6 L1541.4,669.0 L1540.2,667.3 L1539.1,665.7 L1538.0,664.0 L1536.9,662.4 L1535.8,660.7 L1534.7,659.0 L1533.6,657.4 L1532.5,655.7 L1531.4,654.0 L1530.4,652.3 L1529.3,650.6 L1528.3,648.8 L1527.3,647.1 L1526.3,645.3 L1525.4,643.6 L1524.5,641.8 L1523.5,640.0 L1522.7,638.2 L1521.8,636.4 L1521.0,634.6 L1520.1,632.8 L1519.4,630.9 L1518.7,629.1 L1518.0,627.2 L1517.4,625.3 L1516.9,623.3Z" fill="none" stroke="#000000" stroke-width="1.8" stroke-linejoin="round"/>
<path d="M1549.3,650.9 L1549.4,648.9 L1550.0,647.1 L1551.0,645.5 L1552.4,644.2 L1554.2,643.5 L1556.1,643.2 L1558.0,643.4 L1560.0,643.9 L1561.8,644.5 L1563.7,645.4 L1565.4,646.3 L1567.2,647.3 L1568.9,648.3 L1570.7,649.3 L1572.4,650.3 L1574.1,651.4 L1575.7,652.5 L1577.4,653.7 L1579.0,654.9 L1580.6,656.1 L1582.2,657.3 L1583.8,658.5 L1585.3,659.8 L1586.9,661.0 L1588.4,662.3 L1589.9,663.6 L1591.4,665.0 L1592.9,666.3 L1594.4,667.6 L1595.9,669.0 L1597.3,670.4 L1598.8,671.8 L1600.2,673.2 L1601.7,674.6 L1603.1,676.0 L1604.5,677.4 L1605.9,678.9 L1607.2,680.3 L1608.6,681.8 L1610.0,683.3 L1611.3,684.7 L1612.7,686.2 L1614.0,687.7 L1615.3,689.2 L1616.6,690.8 L1617.9,692.3 L1619.2,693.8 L1620.5,695.3 L1621.8,696.9 L1623.1,698.4 L1624.3,700.0 L1625.6,701.6 L1626.8,703.1 L1628.0,704.7 L1629.3,706.3 L1630.5,707.9 L1631.7,709.5 L1632.8,711.2 L1634.0,712.8 L1635.1,714.4 L1636.3,716.1 L1637.4,717.8 L1638.5,719.5 L1639.5,721.2 L1640.6,722.9 L1641.6,724.6 L1642.5,726.4 L1643.5,728.1 L1644.4,729.9 L1645.3,731.7 L1646.1,733.5 L1646.9,735.4 L1647.6,737.2 L1648.2,739.2 L1648.6,741.1 L1648.7,743.1 L1648.4,745.0 L1647.6,746.7 L1646.3,748.0 L1644.6,748.6 L1642.7,748.6 L1640.8,748.2 L1638.9,747.6 L1637.0,746.9 L1635.2,746.2 L1633.3,745.4 L1631.5,744.6 L1629.7,743.7 L1627.9,742.8 L1626.2,741.8 L1624.5,740.7 L1622.8,739.6 L1621.2,738.5 L1619.5,737.3 L1617.9,736.1 L1616.3,735.0 L1614.7,733.7 L1613.1,732.5 L1611.5,731.3 L1610.0,730.0 L1608.4,728.7 L1606.9,727.4 L1605.4,726.1 L1603.9,724.8 L1602.3,723.5 L1600.9,722.1 L1599.4,720.8 L1597.9,719.4 L1596.5,718.1 L1595.0,716.7 L1593.6,715.3 L1592.1,713.9 L1590.7,712.4 L1589.3,711.0 L1587.9,709.6 L1586.5,708.1 L1585.1,706.7 L1583.8,705.2 L1582.4,703.7 L1581.1,702.2 L1579.7,700.8 L1578.4,699.2 L1577.1,697.7 L1575.8,696.2 L1574.5,694.7 L1573.2,693.1 L1572.0,691.6 L1570.7,690.0 L1569.5,688.4 L1568.3,686.8 L1567.1,685.2 L1565.9,683.6 L1564.7,682.0 L1563.5,680.4 L1562.4,678.7 L1561.2,677.1 L1560.1,675.4 L1559.0,673.7 L1558.0,672.0 L1557.0,670.3 L1555.9,668.6 L1555.0,666.8 L1554.0,665.0 L1553.1,663.3 L1552.3,661.4 L1551.5,659.6 L1550.8,657.7 L1550.2,655.8 L1549.8,653.9 L1549.4,651.9Z" fill="none" stroke="#000000" stroke-width="1.8" stroke-linejoin="round"/>
<path d="M1518.3,623.4 L1518.3,621.4 L1518.5,619.4 L1518.9,617.5 L1519.6,615.7 L1520.7,614.1 L1522.1,612.8 L1523.9,611.9 L1525.8,611.4 L1527.7,611.3 L1529.7,611.4 L1531.7,611.7 L1533.6,612.2 L1535.5,612.8 L1537.4,613.4 L1539.3,614.2 L1541.1,615.0 L1542.9,615.9 L1544.7,616.8 L1546.5,617.7 L1548.2,618.7 L1549.9,619.6 L1551.7,620.7 L1553.4,621.7 L1555.1,622.7 L1556.8,623.8 L1558.4,624.9 L1560.1,626.0 L1561.8,627.2 L1563.4,628.3 L1565.0,629.5 L1566.6,630.6 L1568.3,631.8 L1569.9,633.0 L1571.5,634.2 L1573.0,635.4 L1574.6,636.7 L1576.2,637.9 L1577.8,639.2 L1579.3,640.4 L1580.9,641.7 L1582.4,643.0 L1583.9,644.2 L1585.5,645.5 L1587.0,646.8 L1588.5,648.1 L1590.0,649.4 L1591.5,650.7 L1593.1,652.0 L1594.6,653.4 L1596.0,654.7 L1597.5,656.0 L1599.0,657.4 L1600.5,658.7 L1602.0,660.1 L1603.4,661.5 L1604.9,662.8 L1606.3,664.2 L1607.8,665.6 L1609.2,667.0 L1610.7,668.4 L1612.1,669.8 L1613.5,671.2 L1614.9,672.6 L1616.3,674.0 L1617.7,675.4 L1619.1,676.9 L1620.5,678.3 L1621.9,679.7 L1623.3,681.2 L1624.6,682.7 L1626.0,684.1 L1627.4,685.6 L1628.7,687.1 L1630.0,688.6 L1631.4,690.1 L1632.7,691.6 L1634.0,693.1 L1635.3,694.6 L1636.6,696.1 L1637.9,697.7 L1639.1,699.2 L1640.4,700.8 L1641.7,702.3 L1642.9,703.9 L1644.1,705.5 L1645.4,707.0 L1646.6,708.6 L1647.8,710.2 L1649.0,711.8 L1650.2,713.4 L1651.4,715.0 L1652.6,716.6 L1653.8,718.2 L1655.0,719.8 L1656.1,721.5 L1657.3,723.1 L1658.4,724.8 L1659.5,726.4 L1660.6,728.1 L1661.7,729.7 L1662.8,731.4 L1663.9,733.1 L1665.0,734.8 L1666.0,736.5 L1667.1,738.2 L1668.1,739.9 L1669.1,741.6 L1670.1,743.4 L1671.1,745.1 L1672.0,746.9 L1673.0,748.7 L1673.9,750.4 L1674.7,752.2 L1675.6,754.1 L1676.4,755.9 L1677.1,757.8 L1677.8,759.6 L1678.4,761.5 L1679.0,763.4 L1679.6,765.4 L1680.1,767.3 L1680.6,769.2 L1681.0,771.2 L1681.3,773.2 L1681.5,775.1 L1681.5,777.1 L1681.1,779.0 L1680.3,780.7 L1679.0,782.0 L1677.3,782.8 L1675.4,783.0 L1673.4,782.9 L1671.5,782.5 L1669.5,782.0 L1667.6,781.4 L1665.7,780.8 L1663.8,780.2 L1661.9,779.5 L1660.1,778.8 L1658.2,778.1 L1656.4,777.3 L1654.5,776.5 L1652.7,775.6 L1650.9,774.7 L1649.2,773.7 L1647.4,772.7 L1645.7,771.7 L1644.0,770.7 L1642.3,769.6 L1640.6,768.6 L1638.9,767.5 L1637.3,766.4 L1635.6,765.3 L1634.0,764.1 L1632.3,763.0 L1630.7,761.8 L1629.1,760.6 L1627.5,759.5 L1625.9,758.3 L1624.3,757.0 L1622.7,755.8 L1621.1,754.6 L1619.5,753.4 L1618.0,752.1 L1616.4,750.8 L1614.9,749.6 L1613.4,748.3 L1611.8,747.0 L1610.3,745.7 L1608.8,744.4 L1607.3,743.1 L1605.8,741.8 L1604.3,740.4 L1602.8,739.1 L1601.3,737.7 L1599.9,736.4 L1598.4,735.0 L1596.9,733.6 L1595.5,732.3 L1594.0,730.9 L1592.6,729.5 L1591.2,728.1 L1589.7,726.7 L1588.3,725.3 L1586.9,723.9 L1585.5,722.4 L1584.1,721.0 L1582.7,719.6 L1581.3,718.1 L1580.0,716.7 L1578.6,715.2 L1577.2,713.8 L1575.9,712.3 L1574.5,710.8 L1573.2,709.3 L1571.8,707.8 L1570.5,706.3 L1569.2,704.8 L1567.9,703.3 L1566.6,701.8 L1565.3,700.3 L1564.0,698.8 L1562.7,697.2 L1561.4,695.7 L1560.1,694.2 L1558.9,692.6 L1557.6,691.0 L1556.4,689.5 L1555.1,687.9 L1553.9,686.3 L1552.7,684.8 L1551.5,683.2 L1550.2,681.6 L1549.0,680.0 L1547.8,678.4 L1546.7,676.8 L1545.5,675.2 L1544.3,673.5 L1543.1,671.9 L1542.0,670.3 L1540.8,668.6 L1539.7,667.0 L1538.6,665.3 L1537.4,663.7 L1536.3,662.0 L1535.2,660.3 L1534.2,658.7 L1533.1,657.0 L1532.0,655.3 L1531.0,653.6 L1530.0,651.8 L1529.0,650.1 L1528.0,648.4 L1527.0,646.6 L1526.1,644.9 L1525.2,643.1 L1524.3,641.3 L1523.4,639.5 L1522.6,637.7 L1521.8,635.8 L1521.0,634.0 L1520.3,632.1 L1519.7,630.2 L1519.1,628.3 L1518.7,626.4 L1518.4,624.4Z" fill="none" stroke="#ff0000" stroke-width="1.8" stroke-linejoin="round"/>
<path d="M1548.1,650.4 L1548.0,648.4 L1548.2,646.5 L1549.0,644.8 L1550.3,643.4 L1551.9,642.4 L1553.8,642.0 L1555.7,642.1 L1557.6,642.5 L1559.5,643.2 L1561.3,644.1 L1563.0,645.0 L1564.8,645.9 L1566.5,646.9 L1568.3,647.9 L1570.0,649.0 L1571.7,650.0 L1573.3,651.2 L1575.0,652.3 L1576.6,653.4 L1578.2,654.6 L1579.8,655.8 L1581.4,657.0 L1583.0,658.3 L1584.5,659.5 L1586.1,660.8 L1587.6,662.1 L1589.1,663.4 L1590.6,664.7 L1592.1,666.0 L1593.6,667.4 L1595.1,668.7 L1596.5,670.1 L1598.0,671.5 L1599.4,672.9 L1600.8,674.3 L1602.3,675.7 L1603.7,677.1 L1605.1,678.6 L1606.4,680.0 L1607.8,681.5 L1609.2,682.9 L1610.5,684.4 L1611.9,685.9 L1613.2,687.4 L1614.5,688.9 L1615.8,690.4 L1617.2,691.9 L1618.4,693.4 L1619.7,694.9 L1621.0,696.5 L1622.3,698.0 L1623.5,699.6 L1624.8,701.1 L1626.0,702.7 L1627.3,704.3 L1628.5,705.9 L1629.7,707.5 L1630.9,709.1 L1632.1,710.7 L1633.2,712.3 L1634.4,713.9 L1635.5,715.6 L1636.6,717.2 L1637.7,718.9 L1638.8,720.6 L1639.9,722.3 L1640.9,724.0 L1641.9,725.8 L1642.8,727.5 L1643.8,729.3 L1644.7,731.1 L1645.6,732.9 L1646.4,734.7 L1647.2,736.5 L1647.8,738.4 L1648.4,740.3 L1648.7,742.3 L1648.7,744.2 L1648.2,746.1 L1647.3,747.7 L1645.8,748.8 L1644.0,749.2 L1642.1,749.0 L1640.2,748.5 L1638.3,747.9 L1636.4,747.2 L1634.6,746.5 L1632.7,745.7 L1630.9,744.9 L1629.1,744.0 L1627.4,743.0 L1625.7,741.9 L1624.0,740.9 L1622.3,739.8 L1620.7,738.6 L1619.0,737.5 L1617.4,736.3 L1615.8,735.1 L1614.2,733.9 L1612.6,732.6 L1611.1,731.4 L1609.5,730.1 L1608.0,728.8 L1606.5,727.6 L1605.0,726.2 L1603.4,724.9 L1602.0,723.6 L1600.5,722.3 L1599.0,720.9 L1597.5,719.5 L1596.1,718.2 L1594.6,716.8 L1593.2,715.4 L1591.8,714.0 L1590.4,712.6 L1589.0,711.1 L1587.6,709.7 L1586.2,708.3 L1584.8,706.8 L1583.5,705.3 L1582.1,703.9 L1580.8,702.4 L1579.4,700.9 L1578.1,699.4 L1576.8,697.9 L1575.5,696.3 L1574.2,694.8 L1573.0,693.3 L1571.7,691.7 L1570.5,690.1 L1569.2,688.6 L1568.0,687.0 L1566.8,685.4 L1565.6,683.8 L1564.4,682.2 L1563.3,680.5 L1562.1,678.9 L1561.0,677.3 L1559.9,675.6 L1558.8,673.9 L1557.7,672.2 L1556.7,670.5 L1555.7,668.8 L1554.7,667.1 L1553.7,665.3 L1552.8,663.5 L1551.9,661.7 L1551.1,659.9 L1550.5,658.0 L1549.8,656.1 L1549.2,654.2 L1548.6,652.3Z" fill="none" stroke="#ff0000" stroke-width="1.8" stroke-linejoin="round"/>
<path d="M1518.5,623.1 L1518.5,621.1 L1518.7,619.1 L1519.1,617.2 L1519.8,615.4 L1520.9,613.8 L1522.3,612.5 L1524.1,611.6 L1526.0,611.1 L1527.9,611.0 L1529.9,611.1 L1531.9,611.4 L1533.8,611.9 L1535.7,612.5 L1537.6,613.1 L1539.5,613.9 L1541.3,614.7 L1543.1,615.6 L1544.9,616.5 L1546.7,617.4 L1548.4,618.4 L1550.1,619.3 L1551.9,620.4 L1553.6,621.4 L1555.3,622.4 L1557.0,623.5 L1558.6,624.6 L1560.3,625.7 L1562.0,626.9 L1563.6,628.0 L1565.2,629.2 L1566.8,630.3 L1568.5,631.5 L1570.1,632.7 L1571.7,633.9 L1573.2,635.1 L1574.8,636.4 L1576.4,637.6 L1578.0,638.9 L1579.5,640.1 L1581.1,641.4 L1582.6,642.7 L1584.1,643.9 L1585.7,645.2 L1587.2,646.5 L1588.7,647.8 L1590.2,649.1 L1591.7,650.4 L1593.3,651.7 L1594.8,653.1 L1596.2,654.4 L1597.7,655.7 L1599.2,657.1 L1600.7,658.4 L1602.2,659.8 L1603.6,661.2 L1605.1,662.5 L1606.5,663.9 L1608.0,665.3 L1609.4,666.7 L1610.9,668.1 L1612.3,669.5 L1613.7,670.9 L1615.1,672.3 L1616.5,673.7 L1617.9,675.1 L1619.3,676.6 L1620.7,678.0 L1622.1,679.4 L1623.5,680.9 L1624.8,682.4 L1626.2,683.8 L1627.6,685.3 L1628.9,686.8 L1630.2,688.3 L1631.6,689.8 L1632.9,691.3 L1634.2,692.8 L1635.5,694.3 L1636.8,695.8 L1638.1,697.4 L1639.3,698.9 L1640.6,700.5 L1641.9,702.0 L1643.1,703.6 L1644.3,705.2 L1645.6,706.7 L1646.8,708.3 L1648.0,709.9 L1649.2,711.5 L1650.4,713.1 L1651.6,714.7 L1652.8,716.3 L1654.0,717.9 L1655.2,719.5 L1656.3,721.2 L1657.5,722.8 L1658.6,724.5 L1659.7,726.1 L1660.8,727.8 L1661.9,729.4 L1663.0,731.1 L1664.1,732.8 L1665.2,734.5 L1666.2,736.2 L1667.3,737.9 L1668.3,739.6 L1669.3,741.3 L1670.3,743.1 L1671.3,744.8 L1672.2,746.6 L1673.2,748.4 L1674.1,750.1 L1674.9,751.9 L1675.8,753.8 L1676.6,755.6 L1677.3,757.5 L1678.0,759.3 L1678.6,761.2 L1679.2,763.1 L1679.8,765.1 L1680.3,767.0 L1680.8,768.9 L1681.2,770.9 L1681.5,772.9 L1681.7,774.8 L1681.7,776.8 L1681.3,778.7 L1680.5,780.4 L1679.2,781.7 L1677.5,782.5 L1675.6,782.7 L1673.6,782.6 L1671.7,782.2 L1669.7,781.7 L1667.8,781.1 L1665.9,780.5 L1664.0,779.9 L1662.1,779.2 L1660.3,778.5 L1658.4,777.8 L1656.6,777.0 L1654.7,776.2 L1652.9,775.3 L1651.1,774.4 L1649.4,773.4 L1647.6,772.4 L1645.9,771.4 L1644.2,770.4 L1642.5,769.3 L1640.8,768.3 L1639.1,767.2 L1637.5,766.1 L1635.8,765.0 L1634.2,763.8 L1632.5,762.7 L1630.9,761.5 L1629.3,760.3 L1627.7,759.2 L1626.1,758.0 L1624.5,756.7 L1622.9,755.5 L1621.3,754.3 L1619.7,753.1 L1618.2,751.8 L1616.6,750.5 L1615.1,749.3 L1613.6,748.0 L1612.0,746.7 L1610.5,745.4 L1609.0,744.1 L1607.5,742.8 L1606.0,741.5 L1604.5,740.1 L1603.0,738.8 L1601.5,737.4 L1600.1,736.1 L1598.6,734.7 L1597.1,733.3 L1595.7,732.0 L1594.2,730.6 L1592.8,729.2 L1591.4,727.8 L1589.9,726.4 L1588.5,725.0 L1587.1,723.6 L1585.7,722.1 L1584.3,720.7 L1582.9,719.3 L1581.5,717.8 L1580.2,716.4 L1578.8,714.9 L1577.4,713.5 L1576.1,712.0 L1574.7,710.5 L1573.4,709.0 L1572.0,707.5 L1570.7,706.0 L1569.4,704.5 L1568.1,703.0 L1566.8,701.5 L1565.5,700.0 L1564.2,698.5 L1562.9,696.9 L1561.6,695.4 L1560.3,693.9 L1559.1,692.3 L1557.8,690.7 L1556.6,689.2 L1555.3,687.6 L1554.1,686.0 L1552.9,684.5 L1551.7,682.9 L1550.4,681.3 L1549.2,679.7 L1548.0,678.1 L1546.9,676.5 L1545.7,674.9 L1544.5,673.2 L1543.3,671.6 L1542.2,670.0 L1541.0,668.3 L1539.9,666.7 L1538.8,665.0 L1537.6,663.4 L1536.5,661.7 L1535.4,660.0 L1534.4,658.4 L1533.3,656.7 L1532.2,655.0 L1531.2,653.3 L1530.2,651.5 L1529.2,649.8 L1528.2,648.1 L1527.2,646.3 L1526.3,644.6 L1525.4,642.8 L1524.5,641.0 L1523.6,639.2 L1522.8,637.4 L1522.0,635.5 L1521.2,633.7 L1520.5,631.8 L1519.9,629.9 L1519.3,628.0 L1518.9,626.1 L1518.6,624.1Z" fill="none" stroke="#0000ff" stroke-width="1.8" stroke-linejoin="round"/>
<path d="M1549.5,651.1 L1549.6,649.1 L1550.2,647.3 L1551.2,645.7 L1552.6,644.4 L1554.4,643.7 L1556.3,643.4 L1558.2,643.6 L1560.2,644.1 L1562.0,644.7 L1563.9,645.6 L1565.6,646.5 L1567.4,647.5 L1569.1,648.5 L1570.9,649.5 L1572.6,650.5 L1574.3,651.6 L1575.9,652.7 L1577.6,653.9 L1579.2,655.1 L1580.8,656.3 L1582.4,657.5 L1584.0,658.7 L1585.5,660.0 L1587.1,661.2 L1588.6,662.5 L1590.1,663.8 L1591.6,665.2 L1593.1,666.5 L1594.6,667.8 L1596.1,669.2 L1597.5,670.6 L1599.0,672.0 L1600.4,673.4 L1601.9,674.8 L1603.3,676.2 L1604.7,677.6 L1606.1,679.1 L1607.4,680.5 L1608.8,682.0 L1610.2,683.5 L1611.5,684.9 L1612.9,686.4 L1614.2,687.9 L1615.5,689.4 L1616.8,691.0 L1618.1,692.5 L1619.4,694.0 L1620.7,695.5 L1622.0,697.1 L1623.3,698.6 L1624.5,700.2 L1625.8,701.8 L1627.0,703.3 L1628.2,704.9 L1629.5,706.5 L1630.7,708.1 L1631.9,709.7 L1633.0,711.4 L1634.2,713.0 L1635.3,714.6 L1636.5,716.3 L1637.6,718.0 L1638.7,719.7 L1639.7,721.4 L1640.8,723.1 L1641.8,724.8 L1642.7,726.6 L1643.7,728.3 L1644.6,730.1 L1645.5,731.9 L1646.3,733.7 L1647.1,735.6 L1647.8,737.4 L1648.4,739.4 L1648.8,741.3 L1648.9,743.3 L1648.6,745.2 L1647.8,746.9 L1646.5,748.2 L1644.8,748.8 L1642.9,748.8 L1641.0,748.4 L1639.1,747.8 L1637.2,747.1 L1635.4,746.4 L1633.5,745.6 L1631.7,744.8 L1629.9,743.9 L1628.1,743.0 L1626.4,742.0 L1624.7,740.9 L1623.0,739.8 L1621.4,738.7 L1619.7,737.5 L1618.1,736.3 L1616.5,735.2 L1614.9,733.9 L1613.3,732.7 L1611.7,731.5 L1610.2,730.2 L1608.6,728.9 L1607.1,727.6 L1605.6,726.3 L1604.1,725.0 L1602.5,723.7 L1601.1,722.3 L1599.6,721.0 L1598.1,719.6 L1596.7,718.3 L1595.2,716.9 L1593.8,715.5 L1592.3,714.1 L1590.9,712.6 L1589.5,711.2 L1588.1,709.8 L1586.7,708.3 L1585.3,706.9 L1584.0,705.4 L1582.6,703.9 L1581.3,702.4 L1579.9,701.0 L1578.6,699.4 L1577.3,697.9 L1576.0,696.4 L1574.7,694.9 L1573.4,693.3 L1572.2,691.8 L1570.9,690.2 L1569.7,688.6 L1568.5,687.0 L1567.3,685.4 L1566.1,683.8 L1564.9,682.2 L1563.7,680.6 L1562.6,678.9 L1561.4,677.3 L1560.3,675.6 L1559.2,673.9 L1558.2,672.2 L1557.2,670.5 L1556.1,668.8 L1555.2,667.0 L1554.2,665.2 L1553.3,663.5 L1552.5,661.6 L1551.7,659.8 L1551.0,657.9 L1550.4,656.0 L1550.0,654.1 L1549.6,652.1Z" fill="none" stroke="#0000ff" stroke-width="1.8" stroke-linejoin="round"/>
<clipPath id="c1199_0"><rect x="1199.05" y="1.05" width="266.95" height="277.65"/></clipPath>
<path d="M1199.0,278.64 L1199.9,278.63 L1200.8,278.62 L1201.7,278.61 L1202.6,278.60 L1203.5,278.59 L1204.4,278.58 L1205.3,278.56 L1206.2,278.55 L1207.1,278.53 L1208.0,278.51 L1208.9,278.48 L1209.8,278.46 L1210.7,278.43 L1211.5,278.40 L1212.4,278.37 L1213.3,278.33 L1214.2,278.29 L1215.1,278.25 L1216.0,278.20 L1216.9,278.15 L1217.8,278.09 L1218.7,278.02 L1219.6,277.95 L1220.5,277.88 L1221.4,277.79 L1222.3,277.70 L1223.2,277.60 L1224.0,277.49 L1224.9,277.38 L1225.8,277.25 L1226.7,277.11 L1227.6,276.96 L1228.5,276.80 L1229.4,276.62 L1230.3,276.43 L1231.2,276.23 L1232.1,276.01 L1233.0,275.77 L1233.9,275.51 L1234.8,275.24 L1235.7,274.94 L1236.5,274.62 L1237.4,274.28 L1238.3,273.91 L1239.2,273.52 L1240.1,273.10 L1241.0,272.65 L1241.9,272.18 L1242.8,271.67 L1243.7,271.12 L1244.6,270.55 L1245.5,269.93 L1246.4,269.28 L1247.3,268.59 L1248.2,267.85 L1249.0,267.08 L1249.9,266.25 L1250.8,265.38 L1251.7,264.46 L1252.6,263.49 L1253.5,262.47 L1254.4,261.40 L1255.3,260.26 L1256.2,259.07 L1257.1,257.82 L1258.0,256.51 L1258.9,255.14 L1259.8,253.70 L1260.7,252.19 L1261.5,250.62 L1262.4,248.97 L1263.3,247.26 L1264.2,245.47 L1265.1,243.61 L1266.0,241.68 L1266.9,239.67 L1267.8,237.58 L1268.7,235.41 L1269.6,233.17 L1270.5,230.85 L1271.4,228.45 L1272.3,225.97 L1273.2,223.41 L1274.0,220.77 L1274.9,218.06 L1275.8,215.26 L1276.7,212.39 L1277.6,209.44 L1278.5,206.41 L1279.4,203.31 L1280.3,200.14 L1281.2,196.89 L1282.1,193.58 L1283.0,190.19 L1283.9,186.74 L1284.8,183.23 L1285.7,179.66 L1286.5,176.03 L1287.4,172.35 L1288.3,168.61 L1289.2,164.83 L1290.1,161.01 L1291.0,157.14 L1291.9,153.24 L1292.8,149.31 L1293.7,145.36 L1294.6,141.38 L1295.5,137.38 L1296.4,133.38 L1297.3,129.36 L1298.2,125.35 L1299.0,121.34 L1299.9,117.34 L1300.8,113.35 L1301.7,109.39 L1302.6,105.45 L1303.5,101.55 L1304.4,97.69 L1305.3,93.87 L1306.2,90.10 L1307.1,86.38 L1308.0,82.73 L1308.9,79.15 L1309.8,75.64 L1310.7,72.21 L1311.5,68.87 L1312.4,65.62 L1313.3,62.47 L1314.2,59.41 L1315.1,56.47 L1316.0,53.63 L1316.9,50.91 L1317.8,48.32 L1318.7,45.85 L1319.6,43.51 L1320.5,41.30 L1321.4,39.23 L1322.3,37.30 L1323.2,35.52 L1324.0,33.88 L1324.9,32.40 L1325.8,31.06 L1326.7,29.88 L1327.6,28.86 L1328.5,27.99 L1329.4,27.28 L1330.3,26.73 L1331.2,26.35 L1332.1,26.12 L1333.0,26.05 L1333.9,26.16 L1334.8,26.46 L1335.6,26.95 L1336.5,27.63 L1337.4,28.49 L1338.3,29.54 L1339.2,30.77 L1340.1,32.18 L1341.0,33.76 L1341.9,35.51 L1342.8,37.43 L1343.7,39.51 L1344.6,41.75 L1345.5,44.14 L1346.4,46.68 L1347.3,49.36 L1348.1,52.18 L1349.0,55.13 L1349.9,58.20 L1350.8,61.38 L1351.7,64.68 L1352.6,68.08 L1353.5,71.58 L1354.4,75.17 L1355.3,78.84 L1356.2,82.58 L1357.1,86.40 L1358.0,90.28 L1358.9,94.21 L1359.8,98.19 L1360.6,102.21 L1361.5,106.27 L1362.4,110.35 L1363.3,114.45 L1364.2,118.57 L1365.1,122.70 L1366.0,126.83 L1366.9,130.95 L1367.8,135.06 L1368.7,139.16 L1369.6,143.24 L1370.5,147.29 L1371.4,151.31 L1372.3,155.29 L1373.1,159.24 L1374.0,163.14 L1374.9,166.98 L1375.8,170.78 L1376.7,174.52 L1377.6,178.20 L1378.5,181.82 L1379.4,185.37 L1380.3,188.86 L1381.2,192.27 L1382.1,195.61 L1383.0,198.88 L1383.9,202.07 L1384.8,205.19 L1385.6,208.22 L1386.5,211.18 L1387.4,214.06 L1388.3,216.86 L1389.2,219.57 L1390.1,222.21 L1391.0,224.76 L1391.9,227.24 L1392.8,229.63 L1393.7,231.95 L1394.6,234.18 L1395.5,236.34 L1396.4,238.42 L1397.3,240.42 L1398.1,242.35 L1399.0,244.20 L1399.9,245.98 L1400.8,247.69 L1401.7,249.34 L1402.6,250.91 L1403.5,252.41 L1404.4,253.85 L1405.3,255.23 L1406.2,256.54 L1407.1,257.80 L1408.0,259.00 L1408.9,260.14 L1409.8,261.22 L1410.6,262.26 L1411.5,263.24 L1412.4,264.17 L1413.3,265.06 L1414.2,265.90 L1415.1,266.70 L1416.0,267.45 L1416.9,268.16 L1417.8,268.84 L1418.7,269.47 L1419.6,270.08 L1420.5,270.64 L1421.4,271.18 L1422.3,271.68 L1423.1,272.16 L1424.0,272.60 L1424.9,273.02 L1425.8,273.42 L1426.7,273.79 L1427.6,274.13 L1428.5,274.46 L1429.4,274.76 L1430.3,275.05 L1431.2,275.31 L1432.1,275.56 L1433.0,275.80 L1433.9,276.01 L1434.8,276.22 L1435.6,276.40 L1436.5,276.58 L1437.4,276.74 L1438.3,276.89 L1439.2,277.04 L1440.1,277.17 L1441.0,277.29 L1441.9,277.40 L1442.8,277.51 L1443.7,277.60 L1444.6,277.69 L1445.5,277.77 L1446.4,277.85 L1447.3,277.92 L1448.1,277.99 L1449.0,278.05 L1449.9,278.10 L1450.8,278.15 L1451.7,278.20 L1452.6,278.24 L1453.5,278.28 L1454.4,278.32 L1455.3,278.35 L1456.2,278.38 L1457.1,278.41 L1458.0,278.44 L1458.9,278.46 L1459.8,278.48 L1460.6,278.50 L1461.5,278.52 L1462.4,278.54 L1463.3,278.55 L1464.2,278.57 L1465.1,278.58 L1466.0,278.59" fill="none" stroke="#000000" stroke-width="1.8" stroke-linejoin="round" clip-path="url(#c1199_0)"/>
<path d="M1199.0,278.63 L1199.9,278.62 L1200.8,278.61 L1201.7,278.60 L1202.6,278.59 L1203.5,278.57 L1204.4,278.56 L1205.3,278.55 L1206.2,278.53 L1207.1,278.51 L1208.0,278.49 L1208.9,278.47 L1209.8,278.44 L1210.7,278.42 L1211.5,278.39 L1212.4,278.36 L1213.3,278.32 L1214.2,278.28 L1215.1,278.24 L1216.0,278.20 L1216.9,278.15 L1217.8,278.09 L1218.7,278.03 L1219.6,277.97 L1220.5,277.90 L1221.4,277.82 L1222.3,277.74 L1223.2,277.65 L1224.0,277.55 L1224.9,277.45 L1225.8,277.33 L1226.7,277.21 L1227.6,277.08 L1228.5,276.93 L1229.4,276.78 L1230.3,276.61 L1231.2,276.43 L1232.1,276.24 L1233.0,276.03 L1233.9,275.80 L1234.8,275.56 L1235.7,275.30 L1236.5,275.03 L1237.4,274.73 L1238.3,274.41 L1239.2,274.07 L1240.1,273.71 L1241.0,273.32 L1241.9,272.91 L1242.8,272.47 L1243.7,272.00 L1244.6,271.50 L1245.5,270.97 L1246.4,270.41 L1247.3,269.81 L1248.2,269.17 L1249.0,268.50 L1249.9,267.79 L1250.8,267.03 L1251.7,266.23 L1252.6,265.39 L1253.5,264.50 L1254.4,263.56 L1255.3,262.58 L1256.2,261.53 L1257.1,260.44 L1258.0,259.29 L1258.9,258.08 L1259.8,256.81 L1260.7,255.48 L1261.5,254.09 L1262.4,252.63 L1263.3,251.11 L1264.2,249.52 L1265.1,247.86 L1266.0,246.13 L1266.9,244.32 L1267.8,242.44 L1268.7,240.49 L1269.6,238.46 L1270.5,236.35 L1271.4,234.17 L1272.3,231.90 L1273.2,229.56 L1274.0,227.13 L1274.9,224.63 L1275.8,222.04 L1276.7,219.37 L1277.6,216.62 L1278.5,213.79 L1279.4,210.88 L1280.3,207.90 L1281.2,204.83 L1282.1,201.68 L1283.0,198.46 L1283.9,195.17 L1284.8,191.80 L1285.7,188.36 L1286.5,184.85 L1287.4,181.27 L1288.3,177.64 L1289.2,173.94 L1290.1,170.18 L1291.0,166.37 L1291.9,162.51 L1292.8,158.61 L1293.7,154.66 L1294.6,150.67 L1295.5,146.65 L1296.4,142.61 L1297.3,138.54 L1298.2,134.45 L1299.0,130.35 L1299.9,126.24 L1300.8,122.13 L1301.7,118.03 L1302.6,113.93 L1303.5,109.86 L1304.4,105.80 L1305.3,101.78 L1306.2,97.80 L1307.1,93.85 L1308.0,89.96 L1308.9,86.13 L1309.8,82.35 L1310.7,78.65 L1311.5,75.02 L1312.4,71.48 L1313.3,68.03 L1314.2,64.67 L1315.1,61.42 L1316.0,58.27 L1316.9,55.24 L1317.8,52.34 L1318.7,49.56 L1319.6,46.91 L1320.5,44.40 L1321.4,42.03 L1322.3,39.81 L1323.2,37.74 L1324.0,35.83 L1324.9,34.08 L1325.8,32.50 L1326.7,31.08 L1327.6,29.84 L1328.5,28.76 L1329.4,27.87 L1330.3,27.15 L1331.2,26.61 L1332.1,26.25 L1333.0,26.07 L1333.9,26.07 L1334.8,26.25 L1335.6,26.61 L1336.5,27.14 L1337.4,27.84 L1338.3,28.72 L1339.2,29.77 L1340.1,30.98 L1341.0,32.37 L1341.9,33.91 L1342.8,35.62 L1343.7,37.48 L1344.6,39.49 L1345.5,41.66 L1346.4,43.96 L1347.3,46.41 L1348.1,48.99 L1349.0,51.70 L1349.9,54.54 L1350.8,57.49 L1351.7,60.56 L1352.6,63.74 L1353.5,67.01 L1354.4,70.38 L1355.3,73.85 L1356.2,77.39 L1357.1,81.01 L1358.0,84.70 L1358.9,88.46 L1359.8,92.27 L1360.6,96.13 L1361.5,100.04 L1362.4,103.99 L1363.3,107.97 L1364.2,111.97 L1365.1,116.00 L1366.0,120.03 L1366.9,124.08 L1367.8,128.13 L1368.7,132.17 L1369.6,136.20 L1370.5,140.22 L1371.4,144.22 L1372.3,148.20 L1373.1,152.15 L1374.0,156.06 L1374.9,159.93 L1375.8,163.77 L1376.7,167.55 L1377.6,171.29 L1378.5,174.97 L1379.4,178.60 L1380.3,182.17 L1381.2,185.67 L1382.1,189.11 L1383.0,192.49 L1383.9,195.79 L1384.8,199.02 L1385.6,202.18 L1386.5,205.27 L1387.4,208.28 L1388.3,211.22 L1389.2,214.07 L1390.1,216.85 L1391.0,219.55 L1391.9,222.18 L1392.8,224.72 L1393.7,227.19 L1394.6,229.57 L1395.5,231.88 L1396.4,234.12 L1397.3,236.27 L1398.1,238.35 L1399.0,240.35 L1399.9,242.28 L1400.8,244.14 L1401.7,245.93 L1402.6,247.64 L1403.5,249.28 L1404.4,250.86 L1405.3,252.37 L1406.2,253.82 L1407.1,255.20 L1408.0,256.53 L1408.9,257.79 L1409.8,258.99 L1410.6,260.14 L1411.5,261.23 L1412.4,262.27 L1413.3,263.26 L1414.2,264.20 L1415.1,265.09 L1416.0,265.94 L1416.9,266.74 L1417.8,267.50 L1418.7,268.22 L1419.6,268.90 L1420.5,269.54 L1421.4,270.15 L1422.3,270.72 L1423.1,271.25 L1424.0,271.76 L1424.9,272.24 L1425.8,272.69 L1426.7,273.11 L1427.6,273.50 L1428.5,273.87 L1429.4,274.22 L1430.3,274.54 L1431.2,274.85 L1432.1,275.13 L1433.0,275.40 L1433.9,275.65 L1434.8,275.88 L1435.6,276.09 L1436.5,276.30 L1437.4,276.48 L1438.3,276.66 L1439.2,276.82 L1440.1,276.97 L1441.0,277.11 L1441.9,277.24 L1442.8,277.36 L1443.7,277.47 L1444.6,277.57 L1445.5,277.66 L1446.4,277.75 L1447.3,277.83 L1448.1,277.90 L1449.0,277.97 L1449.9,278.04 L1450.8,278.09 L1451.7,278.15 L1452.6,278.20 L1453.5,278.24 L1454.4,278.28 L1455.3,278.32 L1456.2,278.36 L1457.1,278.39 L1458.0,278.42 L1458.9,278.44 L1459.8,278.47 L1460.6,278.49 L1461.5,278.51 L1462.4,278.53 L1463.3,278.54 L1464.2,278.56 L1465.1,278.57 L1466.0,278.58" fill="none" stroke="#ff0000" stroke-width="1.8" stroke-linejoin="round" clip-path="url(#c1199_0)"/>
<path d="M1199.0,278.61 L1199.9,278.60 L1200.8,278.59 L1201.7,278.58 L1202.6,278.57 L1203.5,278.55 L1204.4,278.54 L1205.3,278.52 L1206.2,278.50 L1207.1,278.48 L1208.0,278.46 L1208.9,278.43 L1209.8,278.40 L1210.7,278.37 L1211.5,278.34 L1212.4,278.30 L1213.3,278.26 L1214.2,278.22 L1215.1,278.17 L1216.0,278.12 L1216.9,278.07 L1217.8,278.01 L1218.7,277.94 L1219.6,277.87 L1220.5,277.79 L1221.4,277.71 L1222.3,277.61 L1223.2,277.52 L1224.0,277.41 L1224.9,277.29 L1225.8,277.17 L1226.7,277.03 L1227.6,276.89 L1228.5,276.73 L1229.4,276.56 L1230.3,276.38 L1231.2,276.18 L1232.1,275.97 L1233.0,275.75 L1233.9,275.50 L1234.8,275.24 L1235.7,274.97 L1236.5,274.67 L1237.4,274.35 L1238.3,274.01 L1239.2,273.65 L1240.1,273.26 L1241.0,272.84 L1241.9,272.40 L1242.8,271.94 L1243.7,271.44 L1244.6,270.91 L1245.5,270.35 L1246.4,269.75 L1247.3,269.12 L1248.2,268.45 L1249.0,267.74 L1249.9,266.99 L1250.8,266.20 L1251.7,265.36 L1252.6,264.48 L1253.5,263.55 L1254.4,262.57 L1255.3,261.54 L1256.2,260.46 L1257.1,259.32 L1258.0,258.12 L1258.9,256.87 L1259.8,255.56 L1260.7,254.18 L1261.5,252.75 L1262.4,251.24 L1263.3,249.68 L1264.2,248.04 L1265.1,246.33 L1266.0,244.55 L1266.9,242.70 L1267.8,240.78 L1268.7,238.78 L1269.6,236.71 L1270.5,234.56 L1271.4,232.33 L1272.3,230.03 L1273.2,227.64 L1274.0,225.18 L1274.9,222.64 L1275.8,220.01 L1276.7,217.31 L1277.6,214.53 L1278.5,211.67 L1279.4,208.74 L1280.3,205.72 L1281.2,202.63 L1282.1,199.46 L1283.0,196.22 L1283.9,192.91 L1284.8,189.53 L1285.7,186.08 L1286.5,182.56 L1287.4,178.99 L1288.3,175.35 L1289.2,171.65 L1290.1,167.90 L1291.0,164.10 L1291.9,160.25 L1292.8,156.36 L1293.7,152.43 L1294.6,148.47 L1295.5,144.47 L1296.4,140.45 L1297.3,136.41 L1298.2,132.36 L1299.0,128.29 L1299.9,124.23 L1300.8,120.16 L1301.7,116.10 L1302.6,112.06 L1303.5,108.03 L1304.4,104.04 L1305.3,100.07 L1306.2,96.14 L1307.1,92.26 L1308.0,88.43 L1308.9,84.65 L1309.8,80.94 L1310.7,77.31 L1311.5,73.75 L1312.4,70.27 L1313.3,66.88 L1314.2,63.59 L1315.1,60.41 L1316.0,57.33 L1316.9,54.37 L1317.8,51.52 L1318.7,48.81 L1319.6,46.22 L1320.5,43.77 L1321.4,41.47 L1322.3,39.31 L1323.2,37.30 L1324.0,35.44 L1324.9,33.74 L1325.8,32.21 L1326.7,30.84 L1327.6,29.63 L1328.5,28.60 L1329.4,27.74 L1330.3,27.06 L1331.2,26.55 L1332.1,26.22 L1333.0,26.06 L1333.9,26.09 L1334.8,26.29 L1335.6,26.67 L1336.5,27.23 L1337.4,27.96 L1338.3,28.87 L1339.2,29.95 L1340.1,31.21 L1341.0,32.63 L1341.9,34.22 L1342.8,35.96 L1343.7,37.87 L1344.6,39.93 L1345.5,42.14 L1346.4,44.50 L1347.3,46.99 L1348.1,49.63 L1349.0,52.39 L1349.9,55.28 L1350.8,58.28 L1351.7,61.40 L1352.6,64.63 L1353.5,67.96 L1354.4,71.38 L1355.3,74.90 L1356.2,78.49 L1357.1,82.16 L1358.0,85.91 L1358.9,89.71 L1359.8,93.57 L1360.6,97.48 L1361.5,101.43 L1362.4,105.42 L1363.3,109.44 L1364.2,113.48 L1365.1,117.54 L1366.0,121.61 L1366.9,125.69 L1367.8,129.77 L1368.7,133.84 L1369.6,137.90 L1370.5,141.94 L1371.4,145.96 L1372.3,149.95 L1373.1,153.91 L1374.0,157.84 L1374.9,161.73 L1375.8,165.57 L1376.7,169.36 L1377.6,173.10 L1378.5,176.78 L1379.4,180.41 L1380.3,183.97 L1381.2,187.47 L1382.1,190.90 L1383.0,194.26 L1383.9,197.55 L1384.8,200.77 L1385.6,203.91 L1386.5,206.98 L1387.4,209.97 L1388.3,212.88 L1389.2,215.72 L1390.1,218.47 L1391.0,221.14 L1391.9,223.74 L1392.8,226.25 L1393.7,228.69 L1394.6,231.05 L1395.5,233.32 L1396.4,235.52 L1397.3,237.64 L1398.1,239.69 L1399.0,241.66 L1399.9,243.55 L1400.8,245.37 L1401.7,247.12 L1402.6,248.80 L1403.5,250.41 L1404.4,251.95 L1405.3,253.43 L1406.2,254.84 L1407.1,256.19 L1408.0,257.47 L1408.9,258.70 L1409.8,259.87 L1410.6,260.99 L1411.5,262.05 L1412.4,263.05 L1413.3,264.01 L1414.2,264.92 L1415.1,265.78 L1416.0,266.60 L1416.9,267.37 L1417.8,268.10 L1418.7,268.79 L1419.6,269.44 L1420.5,270.06 L1421.4,270.64 L1422.3,271.19 L1423.1,271.70 L1424.0,272.18 L1424.9,272.64 L1425.8,273.07 L1426.7,273.47 L1427.6,273.84 L1428.5,274.19 L1429.4,274.52 L1430.3,274.83 L1431.2,275.12 L1432.1,275.39 L1433.0,275.64 L1433.9,275.87 L1434.8,276.09 L1435.6,276.29 L1436.5,276.48 L1437.4,276.66 L1438.3,276.82 L1439.2,276.97 L1440.1,277.11 L1441.0,277.24 L1441.9,277.36 L1442.8,277.47 L1443.7,277.57 L1444.6,277.67 L1445.5,277.76 L1446.4,277.84 L1447.3,277.91 L1448.1,277.98 L1449.0,278.04 L1449.9,278.10 L1450.8,278.15 L1451.7,278.20 L1452.6,278.25 L1453.5,278.29 L1454.4,278.33 L1455.3,278.36 L1456.2,278.39 L1457.1,278.42 L1458.0,278.45 L1458.9,278.47 L1459.8,278.49 L1460.6,278.51 L1461.5,278.53 L1462.4,278.55 L1463.3,278.56 L1464.2,278.58 L1465.1,278.59 L1466.0,278.60" fill="none" stroke="#0000ff" stroke-width="1.8" stroke-linejoin="round" clip-path="url(#c1199_0)"/>
<clipPath id="c1199_1"><rect x="1466" y="278.7" width="266.65" height="277.6"/></clipPath>
<path d="M1466.0,556.04 L1466.9,556.02 L1467.8,555.99 L1468.7,555.97 L1469.6,555.94 L1470.5,555.91 L1471.4,555.88 L1472.2,555.84 L1473.1,555.80 L1474.0,555.76 L1474.9,555.72 L1475.8,555.67 L1476.7,555.62 L1477.6,555.57 L1478.5,555.51 L1479.4,555.45 L1480.3,555.38 L1481.2,555.31 L1482.1,555.23 L1482.9,555.15 L1483.8,555.06 L1484.7,554.96 L1485.6,554.86 L1486.5,554.75 L1487.4,554.63 L1488.3,554.51 L1489.2,554.37 L1490.1,554.23 L1491.0,554.08 L1491.9,553.91 L1492.8,553.74 L1493.6,553.56 L1494.5,553.36 L1495.4,553.15 L1496.3,552.92 L1497.2,552.69 L1498.1,552.43 L1499.0,552.16 L1499.9,551.88 L1500.8,551.57 L1501.7,551.25 L1502.6,550.91 L1503.5,550.55 L1504.3,550.17 L1505.2,549.76 L1506.1,549.33 L1507.0,548.88 L1507.9,548.39 L1508.8,547.89 L1509.7,547.35 L1510.6,546.78 L1511.5,546.19 L1512.4,545.56 L1513.3,544.90 L1514.2,544.20 L1515.0,543.46 L1515.9,542.69 L1516.8,541.88 L1517.7,541.03 L1518.6,540.13 L1519.5,539.19 L1520.4,538.21 L1521.3,537.18 L1522.2,536.10 L1523.1,534.97 L1524.0,533.78 L1524.9,532.55 L1525.8,531.26 L1526.6,529.91 L1527.5,528.51 L1528.4,527.04 L1529.3,525.52 L1530.2,523.93 L1531.1,522.28 L1532.0,520.56 L1532.9,518.78 L1533.8,516.93 L1534.7,515.01 L1535.6,513.02 L1536.5,510.95 L1537.3,508.82 L1538.2,506.61 L1539.1,504.33 L1540.0,501.98 L1540.9,499.55 L1541.8,497.04 L1542.7,494.46 L1543.6,491.81 L1544.5,489.08 L1545.4,486.27 L1546.3,483.39 L1547.2,480.43 L1548.0,477.40 L1548.9,474.30 L1549.8,471.13 L1550.7,467.88 L1551.6,464.57 L1552.5,461.18 L1553.4,457.74 L1554.3,454.23 L1555.2,450.66 L1556.1,447.03 L1557.0,443.34 L1557.9,439.61 L1558.7,435.82 L1559.6,431.99 L1560.5,428.12 L1561.4,424.21 L1562.3,420.27 L1563.2,416.30 L1564.1,412.31 L1565.0,408.29 L1565.9,404.27 L1566.8,400.23 L1567.7,396.20 L1568.6,392.16 L1569.4,388.14 L1570.3,384.13 L1571.2,380.14 L1572.1,376.18 L1573.0,372.26 L1573.9,368.37 L1574.8,364.54 L1575.7,360.76 L1576.6,357.04 L1577.5,353.40 L1578.4,349.83 L1579.3,346.34 L1580.2,342.94 L1581.0,339.64 L1581.9,336.45 L1582.8,333.36 L1583.7,330.40 L1584.6,327.56 L1585.5,324.85 L1586.4,322.28 L1587.3,319.85 L1588.2,317.58 L1589.1,315.45 L1590.0,313.49 L1590.9,311.70 L1591.7,310.07 L1592.6,308.63 L1593.5,307.36 L1594.4,306.27 L1595.3,305.37 L1596.2,304.67 L1597.1,304.15 L1598.0,303.83 L1598.9,303.70 L1599.8,303.78 L1600.7,304.08 L1601.6,304.59 L1602.4,305.32 L1603.3,306.25 L1604.2,307.39 L1605.1,308.73 L1606.0,310.27 L1606.9,312.00 L1607.8,313.91 L1608.7,316.01 L1609.6,318.27 L1610.5,320.71 L1611.4,323.30 L1612.3,326.05 L1613.1,328.94 L1614.0,331.97 L1614.9,335.13 L1615.8,338.41 L1616.7,341.81 L1617.6,345.31 L1618.5,348.91 L1619.4,352.60 L1620.3,356.37 L1621.2,360.22 L1622.1,364.13 L1623.0,368.10 L1623.8,372.12 L1624.7,376.19 L1625.6,380.28 L1626.5,384.41 L1627.4,388.56 L1628.3,392.72 L1629.2,396.88 L1630.1,401.05 L1631.0,405.21 L1631.9,409.36 L1632.8,413.48 L1633.7,417.59 L1634.6,421.67 L1635.4,425.71 L1636.3,429.71 L1637.2,433.67 L1638.1,437.58 L1639.0,441.44 L1639.9,445.24 L1640.8,448.99 L1641.7,452.67 L1642.6,456.29 L1643.5,459.85 L1644.4,463.33 L1645.3,466.74 L1646.1,470.08 L1647.0,473.34 L1647.9,476.53 L1648.8,479.64 L1649.7,482.67 L1650.6,485.62 L1651.5,488.49 L1652.4,491.29 L1653.3,494.00 L1654.2,496.63 L1655.1,499.19 L1656.0,501.67 L1656.8,504.06 L1657.7,506.38 L1658.6,508.62 L1659.5,510.79 L1660.4,512.88 L1661.3,514.90 L1662.2,516.84 L1663.1,518.71 L1664.0,520.52 L1664.9,522.25 L1665.8,523.92 L1666.7,525.52 L1667.5,527.05 L1668.4,528.53 L1669.3,529.94 L1670.2,531.29 L1671.1,532.59 L1672.0,533.83 L1672.9,535.01 L1673.8,536.14 L1674.7,537.22 L1675.6,538.25 L1676.5,539.24 L1677.4,540.18 L1678.2,541.07 L1679.1,541.92 L1680.0,542.73 L1680.9,543.50 L1681.8,544.23 L1682.7,544.92 L1683.6,545.58 L1684.5,546.21 L1685.4,546.80 L1686.3,547.36 L1687.2,547.90 L1688.1,548.40 L1689.0,548.88 L1689.8,549.33 L1690.7,549.76 L1691.6,550.16 L1692.5,550.54 L1693.4,550.90 L1694.3,551.24 L1695.2,551.56 L1696.1,551.86 L1697.0,552.14 L1697.9,552.41 L1698.8,552.66 L1699.7,552.90 L1700.5,553.12 L1701.4,553.33 L1702.3,553.52 L1703.2,553.71 L1704.1,553.88 L1705.0,554.04 L1705.9,554.20 L1706.8,554.34 L1707.7,554.47 L1708.6,554.60 L1709.5,554.71 L1710.4,554.82 L1711.2,554.93 L1712.1,555.02 L1713.0,555.11 L1713.9,555.20 L1714.8,555.27 L1715.7,555.35 L1716.6,555.41 L1717.5,555.48 L1718.4,555.54 L1719.3,555.59 L1720.2,555.64 L1721.1,555.69 L1721.9,555.74 L1722.8,555.78 L1723.7,555.82 L1724.6,555.85 L1725.5,555.89 L1726.4,555.92 L1727.3,555.95 L1728.2,555.97 L1729.1,556.00 L1730.0,556.02 L1730.9,556.04 L1731.8,556.06 L1732.7,556.08" fill="none" stroke="#000000" stroke-width="1.8" stroke-linejoin="round" clip-path="url(#c1199_1)"/>
<path d="M1466.0,556.23 L1466.9,556.22 L1467.8,556.21 L1468.7,556.20 L1469.6,556.19 L1470.5,556.18 L1471.4,556.16 L1472.2,556.15 L1473.1,556.13 L1474.0,556.11 L1474.9,556.09 L1475.8,556.06 L1476.7,556.04 L1477.6,556.01 L1478.5,555.98 L1479.4,555.95 L1480.3,555.91 L1481.2,555.87 L1482.1,555.82 L1482.9,555.77 L1483.8,555.72 L1484.7,555.66 L1485.6,555.60 L1486.5,555.53 L1487.4,555.45 L1488.3,555.37 L1489.2,555.28 L1490.1,555.18 L1491.0,555.07 L1491.9,554.95 L1492.8,554.83 L1493.6,554.69 L1494.5,554.55 L1495.4,554.39 L1496.3,554.22 L1497.2,554.03 L1498.1,553.83 L1499.0,553.62 L1499.9,553.39 L1500.8,553.14 L1501.7,552.87 L1502.6,552.59 L1503.5,552.28 L1504.3,551.95 L1505.2,551.60 L1506.1,551.22 L1507.0,550.82 L1507.9,550.39 L1508.8,549.93 L1509.7,549.44 L1510.6,548.92 L1511.5,548.37 L1512.4,547.78 L1513.3,547.16 L1514.2,546.50 L1515.0,545.79 L1515.9,545.05 L1516.8,544.26 L1517.7,543.43 L1518.6,542.55 L1519.5,541.63 L1520.4,540.65 L1521.3,539.62 L1522.2,538.53 L1523.1,537.39 L1524.0,536.20 L1524.9,534.94 L1525.8,533.62 L1526.6,532.24 L1527.5,530.80 L1528.4,529.28 L1529.3,527.70 L1530.2,526.06 L1531.1,524.34 L1532.0,522.54 L1532.9,520.68 L1533.8,518.74 L1534.7,516.72 L1535.6,514.63 L1536.5,512.46 L1537.3,510.21 L1538.2,507.89 L1539.1,505.48 L1540.0,502.99 L1540.9,500.43 L1541.8,497.78 L1542.7,495.05 L1543.6,492.25 L1544.5,489.36 L1545.4,486.40 L1546.3,483.36 L1547.2,480.25 L1548.0,477.06 L1548.9,473.79 L1549.8,470.46 L1550.7,467.06 L1551.6,463.59 L1552.5,460.05 L1553.4,456.45 L1554.3,452.80 L1555.2,449.09 L1556.1,445.33 L1557.0,441.51 L1557.9,437.66 L1558.7,433.76 L1559.6,429.82 L1560.5,425.86 L1561.4,421.86 L1562.3,417.85 L1563.2,413.81 L1564.1,409.77 L1565.0,405.71 L1565.9,401.66 L1566.8,397.61 L1567.7,393.57 L1568.6,389.54 L1569.4,385.54 L1570.3,381.56 L1571.2,377.62 L1572.1,373.72 L1573.0,369.87 L1573.9,366.07 L1574.8,362.32 L1575.7,358.65 L1576.6,355.04 L1577.5,351.51 L1578.4,348.07 L1579.3,344.72 L1580.2,341.46 L1581.0,338.30 L1581.9,335.25 L1582.8,332.32 L1583.7,329.50 L1584.6,326.80 L1585.5,324.24 L1586.4,321.81 L1587.3,319.51 L1588.2,317.36 L1589.1,315.35 L1590.0,313.49 L1590.9,311.79 L1591.7,310.24 L1592.6,308.85 L1593.5,307.62 L1594.4,306.56 L1595.3,305.66 L1596.2,304.93 L1597.1,304.37 L1598.0,303.98 L1598.9,303.76 L1599.8,303.70 L1600.7,303.82 L1601.6,304.12 L1602.4,304.59 L1603.3,305.23 L1604.2,306.05 L1605.1,307.03 L1606.0,308.19 L1606.9,309.51 L1607.8,310.99 L1608.7,312.64 L1609.6,314.45 L1610.5,316.41 L1611.4,318.52 L1612.3,320.79 L1613.1,323.19 L1614.0,325.73 L1614.9,328.41 L1615.8,331.21 L1616.7,334.14 L1617.6,337.19 L1618.5,340.35 L1619.4,343.61 L1620.3,346.98 L1621.2,350.43 L1622.1,353.98 L1623.0,357.61 L1623.8,361.31 L1624.7,365.09 L1625.6,368.92 L1626.5,372.81 L1627.4,376.75 L1628.3,380.74 L1629.2,384.76 L1630.1,388.80 L1631.0,392.88 L1631.9,396.97 L1632.8,401.07 L1633.7,405.17 L1634.6,409.28 L1635.4,413.38 L1636.3,417.46 L1637.2,421.53 L1638.1,425.58 L1639.0,429.60 L1639.9,433.58 L1640.8,437.53 L1641.7,441.44 L1642.6,445.30 L1643.5,449.11 L1644.4,452.87 L1645.3,456.57 L1646.1,460.21 L1647.0,463.78 L1647.9,467.29 L1648.8,470.74 L1649.7,474.11 L1650.6,477.40 L1651.5,480.62 L1652.4,483.77 L1653.3,486.84 L1654.2,489.82 L1655.1,492.73 L1656.0,495.56 L1656.8,498.30 L1657.7,500.97 L1658.6,503.55 L1659.5,506.05 L1660.4,508.47 L1661.3,510.80 L1662.2,513.06 L1663.1,515.23 L1664.0,517.33 L1664.9,519.35 L1665.8,521.29 L1666.7,523.15 L1667.5,524.94 L1668.4,526.66 L1669.3,528.30 L1670.2,529.88 L1671.1,531.38 L1672.0,532.82 L1672.9,534.19 L1673.8,535.50 L1674.7,536.74 L1675.6,537.93 L1676.5,539.06 L1677.4,540.13 L1678.2,541.14 L1679.1,542.11 L1680.0,543.02 L1680.9,543.88 L1681.8,544.70 L1682.7,545.47 L1683.6,546.20 L1684.5,546.89 L1685.4,547.54 L1686.3,548.15 L1687.2,548.72 L1688.1,549.26 L1689.0,549.76 L1689.8,550.24 L1690.7,550.68 L1691.6,551.10 L1692.5,551.49 L1693.4,551.85 L1694.3,552.19 L1695.2,552.51 L1696.1,552.80 L1697.0,553.08 L1697.9,553.33 L1698.8,553.57 L1699.7,553.79 L1700.5,554.00 L1701.4,554.19 L1702.3,554.36 L1703.2,554.52 L1704.1,554.67 L1705.0,554.81 L1705.9,554.94 L1706.8,555.06 L1707.7,555.17 L1708.6,555.27 L1709.5,555.36 L1710.4,555.45 L1711.2,555.52 L1712.1,555.59 L1713.0,555.66 L1713.9,555.72 L1714.8,555.77 L1715.7,555.82 L1716.6,555.87 L1717.5,555.91 L1718.4,555.95 L1719.3,555.98 L1720.2,556.01 L1721.1,556.04 L1721.9,556.07 L1722.8,556.09 L1723.7,556.11 L1724.6,556.13 L1725.5,556.15 L1726.4,556.16 L1727.3,556.18 L1728.2,556.19 L1729.1,556.20 L1730.0,556.21 L1730.9,556.22 L1731.8,556.23 L1732.7,556.24" fill="none" stroke="#ff0000" stroke-width="1.8" stroke-linejoin="round" clip-path="url(#c1199_1)"/>
<path d="M1466.0,556.25 L1466.9,556.25 L1467.8,556.24 L1468.7,556.23 L1469.6,556.22 L1470.5,556.22 L1471.4,556.21 L1472.2,556.19 L1473.1,556.18 L1474.0,556.17 L1474.9,556.15 L1475.8,556.13 L1476.7,556.12 L1477.6,556.09 L1478.5,556.07 L1479.4,556.04 L1480.3,556.02 L1481.2,555.98 L1482.1,555.95 L1482.9,555.91 L1483.8,555.87 L1484.7,555.83 L1485.6,555.78 L1486.5,555.72 L1487.4,555.66 L1488.3,555.59 L1489.2,555.52 L1490.1,555.44 L1491.0,555.36 L1491.9,555.27 L1492.8,555.16 L1493.6,555.05 L1494.5,554.93 L1495.4,554.80 L1496.3,554.66 L1497.2,554.51 L1498.1,554.34 L1499.0,554.17 L1499.9,553.97 L1500.8,553.76 L1501.7,553.54 L1502.6,553.29 L1503.5,553.03 L1504.3,552.75 L1505.2,552.45 L1506.1,552.13 L1507.0,551.78 L1507.9,551.41 L1508.8,551.01 L1509.7,550.58 L1510.6,550.12 L1511.5,549.64 L1512.4,549.12 L1513.3,548.56 L1514.2,547.97 L1515.0,547.35 L1515.9,546.68 L1516.8,545.97 L1517.7,545.22 L1518.6,544.43 L1519.5,543.59 L1520.4,542.70 L1521.3,541.75 L1522.2,540.76 L1523.1,539.71 L1524.0,538.61 L1524.9,537.45 L1525.8,536.22 L1526.6,534.94 L1527.5,533.59 L1528.4,532.17 L1529.3,530.69 L1530.2,529.14 L1531.1,527.51 L1532.0,525.82 L1532.9,524.05 L1533.8,522.20 L1534.7,520.28 L1535.6,518.28 L1536.5,516.20 L1537.3,514.03 L1538.2,511.79 L1539.1,509.47 L1540.0,507.06 L1540.9,504.57 L1541.8,501.99 L1542.7,499.33 L1543.6,496.59 L1544.5,493.76 L1545.4,490.86 L1546.3,487.87 L1547.2,484.79 L1548.0,481.64 L1548.9,478.41 L1549.8,475.11 L1550.7,471.72 L1551.6,468.27 L1552.5,464.74 L1553.4,461.14 L1554.3,457.48 L1555.2,453.76 L1556.1,449.98 L1557.0,446.14 L1557.9,442.25 L1558.7,438.31 L1559.6,434.33 L1560.5,430.31 L1561.4,426.26 L1562.3,422.17 L1563.2,418.07 L1564.1,413.94 L1565.0,409.80 L1565.9,405.65 L1566.8,401.51 L1567.7,397.36 L1568.6,393.23 L1569.4,389.11 L1570.3,385.02 L1571.2,380.96 L1572.1,376.93 L1573.0,372.95 L1573.9,369.02 L1574.8,365.14 L1575.7,361.33 L1576.6,357.59 L1577.5,353.92 L1578.4,350.34 L1579.3,346.85 L1580.2,343.46 L1581.0,340.16 L1581.9,336.98 L1582.8,333.91 L1583.7,330.96 L1584.6,328.14 L1585.5,325.45 L1586.4,322.90 L1587.3,320.49 L1588.2,318.22 L1589.1,316.11 L1590.0,314.15 L1590.9,312.35 L1591.7,310.71 L1592.6,309.24 L1593.5,307.94 L1594.4,306.81 L1595.3,305.85 L1596.2,305.07 L1597.1,304.46 L1598.0,304.03 L1598.9,303.78 L1599.8,303.70 L1600.7,303.80 L1601.6,304.08 L1602.4,304.54 L1603.3,305.18 L1604.2,305.99 L1605.1,306.98 L1606.0,308.14 L1606.9,309.47 L1607.8,310.96 L1608.7,312.63 L1609.6,314.45 L1610.5,316.43 L1611.4,318.57 L1612.3,320.86 L1613.1,323.29 L1614.0,325.87 L1614.9,328.58 L1615.8,331.42 L1616.7,334.39 L1617.6,337.48 L1618.5,340.68 L1619.4,343.99 L1620.3,347.40 L1621.2,350.91 L1622.1,354.50 L1623.0,358.18 L1623.8,361.93 L1624.7,365.76 L1625.6,369.64 L1626.5,373.58 L1627.4,377.57 L1628.3,381.60 L1629.2,385.67 L1630.1,389.77 L1631.0,393.88 L1631.9,398.02 L1632.8,402.16 L1633.7,406.31 L1634.6,410.46 L1635.4,414.60 L1636.3,418.72 L1637.2,422.82 L1638.1,426.90 L1639.0,430.95 L1639.9,434.97 L1640.8,438.94 L1641.7,442.87 L1642.6,446.75 L1643.5,450.58 L1644.4,454.36 L1645.3,458.07 L1646.1,461.72 L1647.0,465.30 L1647.9,468.82 L1648.8,472.27 L1649.7,475.64 L1650.6,478.93 L1651.5,482.15 L1652.4,485.29 L1653.3,488.35 L1654.2,491.32 L1655.1,494.22 L1656.0,497.03 L1656.8,499.76 L1657.7,502.41 L1658.6,504.97 L1659.5,507.45 L1660.4,509.84 L1661.3,512.15 L1662.2,514.38 L1663.1,516.53 L1664.0,518.60 L1664.9,520.59 L1665.8,522.50 L1666.7,524.33 L1667.5,526.09 L1668.4,527.78 L1669.3,529.39 L1670.2,530.93 L1671.1,532.40 L1672.0,533.81 L1672.9,535.15 L1673.8,536.42 L1674.7,537.63 L1675.6,538.79 L1676.5,539.88 L1677.4,540.92 L1678.2,541.91 L1679.1,542.84 L1680.0,543.72 L1680.9,544.56 L1681.8,545.35 L1682.7,546.09 L1683.6,546.79 L1684.5,547.45 L1685.4,548.07 L1686.3,548.65 L1687.2,549.20 L1688.1,549.72 L1689.0,550.20 L1689.8,550.65 L1690.7,551.07 L1691.6,551.47 L1692.5,551.84 L1693.4,552.18 L1694.3,552.50 L1695.2,552.80 L1696.1,553.08 L1697.0,553.33 L1697.9,553.57 L1698.8,553.80 L1699.7,554.00 L1700.5,554.19 L1701.4,554.37 L1702.3,554.53 L1703.2,554.69 L1704.1,554.83 L1705.0,554.95 L1705.9,555.07 L1706.8,555.18 L1707.7,555.28 L1708.6,555.37 L1709.5,555.46 L1710.4,555.53 L1711.2,555.61 L1712.1,555.67 L1713.0,555.73 L1713.9,555.78 L1714.8,555.83 L1715.7,555.88 L1716.6,555.92 L1717.5,555.96 L1718.4,555.99 L1719.3,556.02 L1720.2,556.05 L1721.1,556.07 L1721.9,556.10 L1722.8,556.12 L1723.7,556.14 L1724.6,556.15 L1725.5,556.17 L1726.4,556.18 L1727.3,556.20 L1728.2,556.21 L1729.1,556.22 L1730.0,556.23 L1730.9,556.23 L1731.8,556.24 L1732.7,556.25" fill="none" stroke="#0000ff" stroke-width="1.8" stroke-linejoin="round" clip-path="url(#c1199_1)"/>
<clipPath id="c1199_2"><rect x="1732.65" y="556.3" width="266.4" height="277.7"/></clipPath>
<path d="M1732.7,833.73 L1733.5,833.71 L1734.4,833.69 L1735.3,833.66 L1736.2,833.63 L1737.1,833.60 L1738.0,833.57 L1738.9,833.53 L1739.8,833.50 L1740.7,833.46 L1741.6,833.41 L1742.5,833.36 L1743.3,833.31 L1744.2,833.26 L1745.1,833.20 L1746.0,833.14 L1746.9,833.07 L1747.8,832.99 L1748.7,832.92 L1749.6,832.83 L1750.5,832.74 L1751.4,832.65 L1752.3,832.54 L1753.1,832.43 L1754.0,832.32 L1754.9,832.19 L1755.8,832.05 L1756.7,831.91 L1757.6,831.76 L1758.5,831.59 L1759.4,831.42 L1760.3,831.23 L1761.2,831.04 L1762.1,830.82 L1762.9,830.60 L1763.8,830.36 L1764.7,830.11 L1765.6,829.84 L1766.5,829.55 L1767.4,829.25 L1768.3,828.93 L1769.2,828.58 L1770.1,828.22 L1771.0,827.84 L1771.9,827.43 L1772.7,827.00 L1773.6,826.55 L1774.5,826.07 L1775.4,825.56 L1776.3,825.02 L1777.2,824.46 L1778.1,823.86 L1779.0,823.23 L1779.9,822.57 L1780.8,821.88 L1781.7,821.14 L1782.5,820.37 L1783.4,819.56 L1784.3,818.71 L1785.2,817.82 L1786.1,816.88 L1787.0,815.90 L1787.9,814.87 L1788.8,813.80 L1789.7,812.67 L1790.6,811.49 L1791.5,810.26 L1792.3,808.98 L1793.2,807.63 L1794.1,806.23 L1795.0,804.78 L1795.9,803.26 L1796.8,801.68 L1797.7,800.03 L1798.6,798.32 L1799.5,796.55 L1800.4,794.71 L1801.3,792.80 L1802.1,790.82 L1803.0,788.77 L1803.9,786.64 L1804.8,784.45 L1805.7,782.18 L1806.6,779.84 L1807.5,777.42 L1808.4,774.93 L1809.3,772.37 L1810.2,769.73 L1811.1,767.01 L1811.9,764.22 L1812.8,761.35 L1813.7,758.41 L1814.6,755.40 L1815.5,752.31 L1816.4,749.16 L1817.3,745.93 L1818.2,742.64 L1819.1,739.27 L1820.0,735.84 L1820.9,732.35 L1821.7,728.80 L1822.6,725.19 L1823.5,721.53 L1824.4,717.81 L1825.3,714.04 L1826.2,710.23 L1827.1,706.38 L1828.0,702.49 L1828.9,698.56 L1829.8,694.61 L1830.7,690.63 L1831.5,686.63 L1832.4,682.62 L1833.3,678.60 L1834.2,674.58 L1835.1,670.55 L1836.0,666.54 L1836.9,662.54 L1837.8,658.56 L1838.7,654.61 L1839.6,650.69 L1840.5,646.81 L1841.3,642.97 L1842.2,639.19 L1843.1,635.47 L1844.0,631.82 L1844.9,628.25 L1845.8,624.75 L1846.7,621.34 L1847.6,618.03 L1848.5,614.82 L1849.4,611.72 L1850.3,608.73 L1851.1,605.87 L1852.0,603.13 L1852.9,600.54 L1853.8,598.08 L1854.7,595.77 L1855.6,593.61 L1856.5,591.61 L1857.4,589.78 L1858.3,588.11 L1859.2,586.62 L1860.1,585.30 L1860.9,584.17 L1861.8,583.22 L1862.7,582.46 L1863.6,581.88 L1864.5,581.50 L1865.4,581.32 L1866.3,581.33 L1867.2,581.53 L1868.1,581.91 L1869.0,582.47 L1869.9,583.22 L1870.8,584.14 L1871.6,585.24 L1872.5,586.51 L1873.4,587.95 L1874.3,589.56 L1875.2,591.32 L1876.1,593.25 L1877.0,595.32 L1877.9,597.54 L1878.8,599.90 L1879.7,602.40 L1880.6,605.03 L1881.4,607.78 L1882.3,610.65 L1883.2,613.64 L1884.1,616.73 L1885.0,619.92 L1885.9,623.20 L1886.8,626.57 L1887.7,630.02 L1888.6,633.54 L1889.5,637.13 L1890.4,640.79 L1891.2,644.49 L1892.1,648.25 L1893.0,652.05 L1893.9,655.88 L1894.8,659.74 L1895.7,663.63 L1896.6,667.54 L1897.5,671.45 L1898.4,675.38 L1899.3,679.30 L1900.2,683.22 L1901.0,687.13 L1901.9,691.02 L1902.8,694.90 L1903.7,698.75 L1904.6,702.58 L1905.5,706.37 L1906.4,710.13 L1907.3,713.85 L1908.2,717.52 L1909.1,721.15 L1910.0,724.73 L1910.8,728.26 L1911.7,731.73 L1912.6,735.15 L1913.5,738.50 L1914.4,741.80 L1915.3,745.03 L1916.2,748.19 L1917.1,751.29 L1918.0,754.32 L1918.9,757.29 L1919.8,760.18 L1920.6,763.00 L1921.5,765.76 L1922.4,768.44 L1923.3,771.05 L1924.2,773.59 L1925.1,776.06 L1926.0,778.45 L1926.9,780.78 L1927.8,783.04 L1928.7,785.22 L1929.6,787.34 L1930.4,789.38 L1931.3,791.36 L1932.2,793.28 L1933.1,795.12 L1934.0,796.91 L1934.9,798.63 L1935.8,800.28 L1936.7,801.88 L1937.6,803.41 L1938.5,804.89 L1939.4,806.30 L1940.2,807.67 L1941.1,808.97 L1942.0,810.23 L1942.9,811.43 L1943.8,812.58 L1944.7,813.68 L1945.6,814.74 L1946.5,815.75 L1947.4,816.71 L1948.3,817.63 L1949.2,818.51 L1950.0,819.35 L1950.9,820.15 L1951.8,820.91 L1952.7,821.64 L1953.6,822.33 L1954.5,822.99 L1955.4,823.61 L1956.3,824.21 L1957.2,824.77 L1958.1,825.31 L1959.0,825.82 L1959.8,826.30 L1960.7,826.75 L1961.6,827.19 L1962.5,827.60 L1963.4,827.98 L1964.3,828.35 L1965.2,828.70 L1966.1,829.02 L1967.0,829.33 L1967.9,829.62 L1968.8,829.90 L1969.6,830.16 L1970.5,830.40 L1971.4,830.63 L1972.3,830.85 L1973.2,831.06 L1974.1,831.25 L1975.0,831.43 L1975.9,831.60 L1976.8,831.76 L1977.7,831.91 L1978.6,832.05 L1979.4,832.18 L1980.3,832.30 L1981.2,832.42 L1982.1,832.53 L1983.0,832.63 L1983.9,832.72 L1984.8,832.81 L1985.7,832.90 L1986.6,832.97 L1987.5,833.05 L1988.4,833.11 L1989.2,833.18 L1990.1,833.24 L1991.0,833.29 L1991.9,833.34 L1992.8,833.39 L1993.7,833.43 L1994.6,833.48 L1995.5,833.52 L1996.4,833.55 L1997.3,833.58 L1998.2,833.62 L1999.0,833.64" fill="none" stroke="#000000" stroke-width="1.8" stroke-linejoin="round" clip-path="url(#c1199_2)"/>
<path d="M1732.7,833.63 L1733.5,833.60 L1734.4,833.57 L1735.3,833.54 L1736.2,833.50 L1737.1,833.46 L1738.0,833.42 L1738.9,833.37 L1739.8,833.32 L1740.7,833.27 L1741.6,833.21 L1742.5,833.15 L1743.3,833.08 L1744.2,833.01 L1745.1,832.94 L1746.0,832.86 L1746.9,832.77 L1747.8,832.68 L1748.7,832.58 L1749.6,832.48 L1750.5,832.37 L1751.4,832.25 L1752.3,832.12 L1753.1,831.99 L1754.0,831.84 L1754.9,831.69 L1755.8,831.52 L1756.7,831.35 L1757.6,831.16 L1758.5,830.97 L1759.4,830.76 L1760.3,830.53 L1761.2,830.30 L1762.1,830.04 L1762.9,829.78 L1763.8,829.50 L1764.7,829.20 L1765.6,828.88 L1766.5,828.54 L1767.4,828.19 L1768.3,827.81 L1769.2,827.41 L1770.1,827.00 L1771.0,826.55 L1771.9,826.08 L1772.7,825.59 L1773.6,825.07 L1774.5,824.52 L1775.4,823.94 L1776.3,823.34 L1777.2,822.70 L1778.1,822.02 L1779.0,821.32 L1779.9,820.58 L1780.8,819.80 L1781.7,818.98 L1782.5,818.12 L1783.4,817.23 L1784.3,816.28 L1785.2,815.30 L1786.1,814.27 L1787.0,813.19 L1787.9,812.07 L1788.8,810.90 L1789.7,809.67 L1790.6,808.39 L1791.5,807.06 L1792.3,805.67 L1793.2,804.23 L1794.1,802.73 L1795.0,801.17 L1795.9,799.55 L1796.8,797.86 L1797.7,796.11 L1798.6,794.30 L1799.5,792.43 L1800.4,790.48 L1801.3,788.47 L1802.1,786.40 L1803.0,784.25 L1803.9,782.03 L1804.8,779.74 L1805.7,777.39 L1806.6,774.96 L1807.5,772.46 L1808.4,769.89 L1809.3,767.24 L1810.2,764.53 L1811.1,761.75 L1811.9,758.89 L1812.8,755.97 L1813.7,752.97 L1814.6,749.91 L1815.5,746.78 L1816.4,743.58 L1817.3,740.32 L1818.2,737.00 L1819.1,733.62 L1820.0,730.18 L1820.9,726.68 L1821.7,723.13 L1822.6,719.53 L1823.5,715.88 L1824.4,712.18 L1825.3,708.45 L1826.2,704.67 L1827.1,700.87 L1828.0,697.03 L1828.9,693.16 L1829.8,689.28 L1830.7,685.37 L1831.5,681.46 L1832.4,677.54 L1833.3,673.61 L1834.2,669.69 L1835.1,665.78 L1836.0,661.88 L1836.9,658.01 L1837.8,654.16 L1838.7,650.34 L1839.6,646.56 L1840.5,642.82 L1841.3,639.14 L1842.2,635.51 L1843.1,631.95 L1844.0,628.46 L1844.9,625.04 L1845.8,621.71 L1846.7,618.47 L1847.6,615.33 L1848.5,612.28 L1849.4,609.35 L1850.3,606.53 L1851.1,603.83 L1852.0,601.26 L1852.9,598.83 L1853.8,596.53 L1854.7,594.37 L1855.6,592.37 L1856.5,590.51 L1857.4,588.82 L1858.3,587.29 L1859.2,585.92 L1860.1,584.73 L1860.9,583.70 L1861.8,582.86 L1862.7,582.20 L1863.6,581.71 L1864.5,581.41 L1865.4,581.30 L1866.3,581.37 L1867.2,581.63 L1868.1,582.07 L1869.0,582.68 L1869.9,583.48 L1870.8,584.44 L1871.6,585.59 L1872.5,586.90 L1873.4,588.37 L1874.3,590.01 L1875.2,591.80 L1876.1,593.75 L1877.0,595.84 L1877.9,598.08 L1878.8,600.46 L1879.7,602.97 L1880.6,605.60 L1881.4,608.36 L1882.3,611.23 L1883.2,614.21 L1884.1,617.30 L1885.0,620.48 L1885.9,623.75 L1886.8,627.11 L1887.7,630.55 L1888.6,634.06 L1889.5,637.63 L1890.4,641.26 L1891.2,644.95 L1892.1,648.68 L1893.0,652.46 L1893.9,656.26 L1894.8,660.10 L1895.7,663.96 L1896.6,667.84 L1897.5,671.73 L1898.4,675.62 L1899.3,679.51 L1900.2,683.40 L1901.0,687.28 L1901.9,691.15 L1902.8,695.00 L1903.7,698.82 L1904.6,702.62 L1905.5,706.38 L1906.4,710.11 L1907.3,713.80 L1908.2,717.45 L1909.1,721.05 L1910.0,724.61 L1910.8,728.11 L1911.7,731.56 L1912.6,734.95 L1913.5,738.29 L1914.4,741.56 L1915.3,744.77 L1916.2,747.92 L1917.1,751.00 L1918.0,754.02 L1918.9,756.97 L1919.8,759.85 L1920.6,762.66 L1921.5,765.40 L1922.4,768.07 L1923.3,770.67 L1924.2,773.20 L1925.1,775.66 L1926.0,778.06 L1926.9,780.38 L1927.8,782.63 L1928.7,784.81 L1929.6,786.92 L1930.4,788.97 L1931.3,790.95 L1932.2,792.86 L1933.1,794.71 L1934.0,796.49 L1934.9,798.21 L1935.8,799.87 L1936.7,801.47 L1937.6,803.01 L1938.5,804.49 L1939.4,805.91 L1940.2,807.28 L1941.1,808.59 L1942.0,809.85 L1942.9,811.06 L1943.8,812.22 L1944.7,813.33 L1945.6,814.39 L1946.5,815.41 L1947.4,816.38 L1948.3,817.31 L1949.2,818.20 L1950.0,819.05 L1950.9,819.85 L1951.8,820.63 L1952.7,821.36 L1953.6,822.06 L1954.5,822.72 L1955.4,823.36 L1956.3,823.96 L1957.2,824.53 L1958.1,825.08 L1959.0,825.59 L1959.8,826.08 L1960.7,826.55 L1961.6,826.99 L1962.5,827.40 L1963.4,827.80 L1964.3,828.17 L1965.2,828.53 L1966.1,828.86 L1967.0,829.18 L1967.9,829.48 L1968.8,829.76 L1969.6,830.02 L1970.5,830.27 L1971.4,830.51 L1972.3,830.73 L1973.2,830.94 L1974.1,831.14 L1975.0,831.33 L1975.9,831.50 L1976.8,831.66 L1977.7,831.82 L1978.6,831.96 L1979.4,832.10 L1980.3,832.23 L1981.2,832.35 L1982.1,832.46 L1983.0,832.56 L1983.9,832.66 L1984.8,832.75 L1985.7,832.84 L1986.6,832.92 L1987.5,833.00 L1988.4,833.07 L1989.2,833.13 L1990.1,833.19 L1991.0,833.25 L1991.9,833.31 L1992.8,833.36 L1993.7,833.40 L1994.6,833.45 L1995.5,833.49 L1996.4,833.52 L1997.3,833.56 L1998.2,833.59 L1999.0,833.62" fill="none" stroke="#ff0000" stroke-width="1.8" stroke-linejoin="round" clip-path="url(#c1199_2)"/>
<path d="M1732.7,833.68 L1733.5,833.65 L1734.4,833.62 L1735.3,833.59 L1736.2,833.56 L1737.1,833.52 L1738.0,833.48 L1738.9,833.44 L1739.8,833.40 L1740.7,833.35 L1741.6,833.30 L1742.5,833.24 L1743.3,833.18 L1744.2,833.12 L1745.1,833.05 L1746.0,832.97 L1746.9,832.90 L1747.8,832.81 L1748.7,832.72 L1749.6,832.63 L1750.5,832.52 L1751.4,832.41 L1752.3,832.29 L1753.1,832.17 L1754.0,832.03 L1754.9,831.89 L1755.8,831.74 L1756.7,831.58 L1757.6,831.40 L1758.5,831.22 L1759.4,831.02 L1760.3,830.81 L1761.2,830.59 L1762.1,830.35 L1762.9,830.10 L1763.8,829.84 L1764.7,829.55 L1765.6,829.26 L1766.5,828.94 L1767.4,828.60 L1768.3,828.24 L1769.2,827.87 L1770.1,827.47 L1771.0,827.05 L1771.9,826.60 L1772.7,826.13 L1773.6,825.63 L1774.5,825.11 L1775.4,824.55 L1776.3,823.97 L1777.2,823.35 L1778.1,822.71 L1779.0,822.03 L1779.9,821.31 L1780.8,820.56 L1781.7,819.77 L1782.5,818.94 L1783.4,818.07 L1784.3,817.16 L1785.2,816.20 L1786.1,815.20 L1787.0,814.15 L1787.9,813.06 L1788.8,811.91 L1789.7,810.72 L1790.6,809.47 L1791.5,808.16 L1792.3,806.80 L1793.2,805.39 L1794.1,803.91 L1795.0,802.38 L1795.9,800.79 L1796.8,799.13 L1797.7,797.41 L1798.6,795.62 L1799.5,793.77 L1800.4,791.85 L1801.3,789.86 L1802.1,787.80 L1803.0,785.67 L1803.9,783.48 L1804.8,781.20 L1805.7,778.86 L1806.6,776.45 L1807.5,773.96 L1808.4,771.40 L1809.3,768.76 L1810.2,766.06 L1811.1,763.28 L1811.9,760.42 L1812.8,757.50 L1813.7,754.50 L1814.6,751.43 L1815.5,748.30 L1816.4,745.09 L1817.3,741.82 L1818.2,738.49 L1819.1,735.09 L1820.0,731.63 L1820.9,728.11 L1821.7,724.54 L1822.6,720.91 L1823.5,717.23 L1824.4,713.51 L1825.3,709.74 L1826.2,705.93 L1827.1,702.08 L1828.0,698.20 L1828.9,694.30 L1829.8,690.37 L1830.7,686.42 L1831.5,682.46 L1832.4,678.49 L1833.3,674.52 L1834.2,670.54 L1835.1,666.58 L1836.0,662.63 L1836.9,658.70 L1837.8,654.80 L1838.7,650.92 L1839.6,647.09 L1840.5,643.30 L1841.3,639.56 L1842.2,635.89 L1843.1,632.27 L1844.0,628.73 L1844.9,625.27 L1845.8,621.89 L1846.7,618.60 L1847.6,615.41 L1848.5,612.33 L1849.4,609.36 L1850.3,606.50 L1851.1,603.77 L1852.0,601.17 L1852.9,598.71 L1853.8,596.39 L1854.7,594.22 L1855.6,592.20 L1856.5,590.34 L1857.4,588.64 L1858.3,587.11 L1859.2,585.75 L1860.1,584.56 L1860.9,583.55 L1861.8,582.73 L1862.7,582.09 L1863.6,581.64 L1864.5,581.37 L1865.4,581.30 L1866.3,581.42 L1867.2,581.73 L1868.1,582.22 L1869.0,582.91 L1869.9,583.77 L1870.8,584.82 L1871.6,586.05 L1872.5,587.45 L1873.4,589.02 L1874.3,590.76 L1875.2,592.66 L1876.1,594.71 L1877.0,596.92 L1877.9,599.28 L1878.8,601.77 L1879.7,604.40 L1880.6,607.16 L1881.4,610.04 L1882.3,613.04 L1883.2,616.15 L1884.1,619.36 L1885.0,622.67 L1885.9,626.07 L1886.8,629.55 L1887.7,633.11 L1888.6,636.74 L1889.5,640.44 L1890.4,644.19 L1891.2,647.99 L1892.1,651.83 L1893.0,655.71 L1893.9,659.62 L1894.8,663.56 L1895.7,667.51 L1896.6,671.47 L1897.5,675.45 L1898.4,679.42 L1899.3,683.39 L1900.2,687.35 L1901.0,691.29 L1901.9,695.22 L1902.8,699.12 L1903.7,702.99 L1904.6,706.82 L1905.5,710.62 L1906.4,714.38 L1907.3,718.10 L1908.2,721.77 L1909.1,725.38 L1910.0,728.94 L1910.8,732.45 L1911.7,735.89 L1912.6,739.28 L1913.5,742.60 L1914.4,745.85 L1915.3,749.04 L1916.2,752.16 L1917.1,755.21 L1918.0,758.19 L1918.9,761.10 L1919.8,763.93 L1920.6,766.70 L1921.5,769.39 L1922.4,772.01 L1923.3,774.55 L1924.2,777.02 L1925.1,779.42 L1926.0,781.74 L1926.9,784.00 L1927.8,786.18 L1928.7,788.29 L1929.6,790.33 L1930.4,792.30 L1931.3,794.21 L1932.2,796.04 L1933.1,797.82 L1934.0,799.52 L1934.9,801.17 L1935.8,802.75 L1936.7,804.27 L1937.6,805.73 L1938.5,807.13 L1939.4,808.47 L1940.2,809.76 L1941.1,811.00 L1942.0,812.18 L1942.9,813.32 L1943.8,814.40 L1944.7,815.44 L1945.6,816.43 L1946.5,817.37 L1947.4,818.28 L1948.3,819.14 L1949.2,819.96 L1950.0,820.74 L1950.9,821.48 L1951.8,822.19 L1952.7,822.86 L1953.6,823.50 L1954.5,824.11 L1955.4,824.68 L1956.3,825.23 L1957.2,825.75 L1958.1,826.24 L1959.0,826.71 L1959.8,827.15 L1960.7,827.56 L1961.6,827.96 L1962.5,828.33 L1963.4,828.68 L1964.3,829.01 L1965.2,829.33 L1966.1,829.62 L1967.0,829.90 L1967.9,830.16 L1968.8,830.41 L1969.6,830.64 L1970.5,830.86 L1971.4,831.07 L1972.3,831.26 L1973.2,831.44 L1974.1,831.62 L1975.0,831.78 L1975.9,831.93 L1976.8,832.07 L1977.7,832.20 L1978.6,832.32 L1979.4,832.44 L1980.3,832.55 L1981.2,832.65 L1982.1,832.74 L1983.0,832.83 L1983.9,832.92 L1984.8,832.99 L1985.7,833.06 L1986.6,833.13 L1987.5,833.19 L1988.4,833.25 L1989.2,833.31 L1990.1,833.36 L1991.0,833.41 L1991.9,833.45 L1992.8,833.49 L1993.7,833.53 L1994.6,833.56 L1995.5,833.60 L1996.4,833.63 L1997.3,833.66 L1998.2,833.68 L1999.0,833.71" fill="none" stroke="#0000ff" stroke-width="1.8" stroke-linejoin="round" clip-path="url(#c1199_2)"/>
<line x1="1199.05" y1="1.05" x2="1466" y2="1.05" stroke="#000" stroke-width="2.1" stroke-linecap="square"/>
<line x1="1199.05" y1="278.7" x2="1732.65" y2="278.7" stroke="#000" stroke-width="2.1" stroke-linecap="square"/>
<line x1="1199.05" y1="556.3" x2="1999.05" y2="556.3" stroke="#000" stroke-width="2.1" stroke-linecap="square"/>
<line x1="1199.05" y1="834" x2="1999.05" y2="834" stroke="#000" stroke-width="2.1" stroke-linecap="square"/>
<line x1="1199.05" y1="1.05" x2="1199.05" y2="834" stroke="#000" stroke-width="2.1" stroke-linecap="square"/>
<line x1="1466" y1="1.05" x2="1466" y2="834" stroke="#000" stroke-width="2.1" stroke-linecap="square"/>
<line x1="1732.65" y1="278.7" x2="1732.65" y2="834" stroke="#000" stroke-width="2.1" stroke-linecap="square"/>
<line x1="1999.05" y1="556.3" x2="1999.05" y2="834" stroke="#000" stroke-width="2.1" stroke-linecap="square"/>
<line x1="1255.65" y1="278.7" x2="1255.65" y2="270.95" stroke="#000" stroke-width="2.0" />
<line x1="1387.1" y1="278.7" x2="1387.1" y2="270.95" stroke="#000" stroke-width="2.0" />
<line x1="1255.65" y1="556.3" x2="1255.65" y2="548.55" stroke="#000" stroke-width="2.0" />
<line x1="1255.65" y1="278.7" x2="1255.65" y2="286.45" stroke="#000" stroke-width="2.0" />
<line x1="1387.1" y1="556.3" x2="1387.1" y2="548.55" stroke="#000" stroke-width="2.0" />
<line x1="1387.1" y1="278.7" x2="1387.1" y2="286.45" stroke="#000" stroke-width="2.0" />
<line x1="1199.05" y1="324.95" x2="1206.8" y2="324.95" stroke="#000" stroke-width="2.0" />
<line x1="1466" y1="324.95" x2="1458.25" y2="324.95" stroke="#000" stroke-width="2.0" />
<line x1="1199.05" y1="387.78" x2="1206.8" y2="387.78" stroke="#000" stroke-width="2.0" />
<line x1="1466" y1="387.78" x2="1458.25" y2="387.78" stroke="#000" stroke-width="2.0" />
<line x1="1199.05" y1="450.62" x2="1206.8" y2="450.62" stroke="#000" stroke-width="2.0" />
<line x1="1466" y1="450.62" x2="1458.25" y2="450.62" stroke="#000" stroke-width="2.0" />
<line x1="1199.05" y1="513.45" x2="1206.8" y2="513.45" stroke="#000" stroke-width="2.0" />
<line x1="1466" y1="513.45" x2="1458.25" y2="513.45" stroke="#000" stroke-width="2.0" />
<line x1="1507.05" y1="556.3" x2="1507.05" y2="548.55" stroke="#000" stroke-width="2.0" />
<line x1="1627.7" y1="556.3" x2="1627.7" y2="548.55" stroke="#000" stroke-width="2.0" />
<line x1="1255.65" y1="834" x2="1255.65" y2="826.25" stroke="#000" stroke-width="2.0" />
<line x1="1255.65" y1="556.3" x2="1255.65" y2="564.05" stroke="#000" stroke-width="2.0" />
<line x1="1387.1" y1="834" x2="1387.1" y2="826.25" stroke="#000" stroke-width="2.0" />
<line x1="1387.1" y1="556.3" x2="1387.1" y2="564.05" stroke="#000" stroke-width="2.0" />
<line x1="1199.05" y1="570.75" x2="1206.8" y2="570.75" stroke="#000" stroke-width="2.0" />
<line x1="1466" y1="570.75" x2="1458.25" y2="570.75" stroke="#000" stroke-width="2.0" />
<line x1="1199.05" y1="637.35" x2="1206.8" y2="637.35" stroke="#000" stroke-width="2.0" />
<line x1="1466" y1="637.35" x2="1458.25" y2="637.35" stroke="#000" stroke-width="2.0" />
<line x1="1199.05" y1="703.95" x2="1206.8" y2="703.95" stroke="#000" stroke-width="2.0" />
<line x1="1466" y1="703.95" x2="1458.25" y2="703.95" stroke="#000" stroke-width="2.0" />
<line x1="1199.05" y1="770.55" x2="1206.8" y2="770.55" stroke="#000" stroke-width="2.0" />
<line x1="1466" y1="770.55" x2="1458.25" y2="770.55" stroke="#000" stroke-width="2.0" />
<line x1="1507.05" y1="834" x2="1507.05" y2="826.25" stroke="#000" stroke-width="2.0" />
<line x1="1507.05" y1="556.3" x2="1507.05" y2="564.05" stroke="#000" stroke-width="2.0" />
<line x1="1627.7" y1="834" x2="1627.7" y2="826.25" stroke="#000" stroke-width="2.0" />
<line x1="1627.7" y1="556.3" x2="1627.7" y2="564.05" stroke="#000" stroke-width="2.0" />
<line x1="1466" y1="570.75" x2="1473.75" y2="570.75" stroke="#000" stroke-width="2.0" />
<line x1="1732.65" y1="570.75" x2="1724.9" y2="570.75" stroke="#000" stroke-width="2.0" />
<line x1="1466" y1="637.35" x2="1473.75" y2="637.35" stroke="#000" stroke-width="2.0" />
<line x1="1732.65" y1="637.35" x2="1724.9" y2="637.35" stroke="#000" stroke-width="2.0" />
<line x1="1466" y1="703.95" x2="1473.75" y2="703.95" stroke="#000" stroke-width="2.0" />
<line x1="1732.65" y1="703.95" x2="1724.9" y2="703.95" stroke="#000" stroke-width="2.0" />
<line x1="1466" y1="770.55" x2="1473.75" y2="770.55" stroke="#000" stroke-width="2.0" />
<line x1="1732.65" y1="770.55" x2="1724.9" y2="770.55" stroke="#000" stroke-width="2.0" />
<line x1="1857.65" y1="834" x2="1857.65" y2="826.25" stroke="#000" stroke-width="2.0" />
<line x1="1953.6" y1="834" x2="1953.6" y2="826.25" stroke="#000" stroke-width="2.0" />
<text transform="translate(1225.05 859.23) scale(1.3548 1.3000)" font-size="20.0" font-family='"Liberation Serif", serif' fill="#000">−</text>
<text transform="translate(1240.37 856.00) scale(1.0326 0.9500)" font-size="20.0" font-family='"Liberation Serif", serif' stroke="#000" stroke-width="0.3" fill="#000">0.001</text>
<text transform="translate(1363.98 856.00) scale(1.0302 0.9500)" font-size="20.0" font-family='"Liberation Serif", serif' stroke="#000" stroke-width="0.3" fill="#000">0.001</text>
<text transform="translate(1483.98 856.00) scale(1.0253 0.9500)" font-size="20.0" font-family='"Liberation Serif", serif' stroke="#000" stroke-width="0.3" fill="#000">67.26</text>
<text transform="translate(1604.48 856.00) scale(1.0276 0.9500)" font-size="20.0" font-family='"Liberation Serif", serif' stroke="#000" stroke-width="0.3" fill="#000">67.27</text>
<text transform="translate(1829.48 856.00) scale(1.0205 0.9500)" font-size="20.0" font-family='"Liberation Serif", serif' stroke="#000" stroke-width="0.3" fill="#000">0.3166</text>
<text transform="translate(1925.68 856.00) scale(1.0243 0.9500)" font-size="20.0" font-family='"Liberation Serif", serif' stroke="#000" stroke-width="0.3" fill="#000">0.3169</text>
<text transform="translate(1134.67 332.10) scale(1.0338 0.9500)" font-size="20.0" font-family='"Liberation Serif", serif' stroke="#000" stroke-width="0.3" fill="#000">67.275</text>
<text transform="translate(1134.67 394.93) scale(1.0338 0.9500)" font-size="20.0" font-family='"Liberation Serif", serif' stroke="#000" stroke-width="0.3" fill="#000">67.270</text>
<text transform="translate(1134.67 457.77) scale(1.0338 0.9500)" font-size="20.0" font-family='"Liberation Serif", serif' stroke="#000" stroke-width="0.3" fill="#000">67.265</text>
<text transform="translate(1134.67 520.60) scale(1.0338 0.9500)" font-size="20.0" font-family='"Liberation Serif", serif' stroke="#000" stroke-width="0.3" fill="#000">67.260</text>
<text transform="translate(1134.77 577.90) scale(1.0318 0.9500)" font-size="20.0" font-family='"Liberation Serif", serif' stroke="#000" stroke-width="0.3" fill="#000">0.3170</text>
<text transform="translate(1134.77 644.50) scale(1.0318 0.9500)" font-size="20.0" font-family='"Liberation Serif", serif' stroke="#000" stroke-width="0.3" fill="#000">0.3168</text>
<text transform="translate(1134.78 711.10) scale(1.0280 0.9500)" font-size="20.0" font-family='"Liberation Serif", serif' stroke="#000" stroke-width="0.3" fill="#000">0.3166</text>
<text transform="translate(1134.78 777.70) scale(1.0223 0.9500)" font-size="20.0" font-family='"Liberation Serif", serif' stroke="#000" stroke-width="0.3" fill="#000">0.3164</text>
<text transform="translate(1325.68 897.00) scale(1.0838 1.0000)" font-size="29.4" font-family='"Liberation Serif", serif' font-style="italic" fill="#000">β</text>
<text transform="translate(1482.71 897.00) scale(1.0498 1.0000)" font-size="29.5" font-family='"Liberation Serif", serif' font-style="italic" fill="#000">H</text>
<text transform="translate(1504.50 901.50) scale(1.0658 1.0000)" font-size="21.0" font-family='"Liberation Serif", serif' fill="#000">0</text>
<text transform="translate(1527.27 899.45) scale(0.6009 1.1900)" font-size="29.5" font-family='"Liberation Serif", serif' fill="#000">[</text>
<text transform="translate(1532.80 897.00) scale(1.0087 1.0000)" font-size="29.5" font-family='"Liberation Serif", serif' fill="#000">km</text>
<text transform="translate(1579.58 897.00) scale(1.0331 1.0000)" font-size="29.5" font-family='"Liberation Serif", serif' fill="#000">s</text>
<text transform="translate(1591.32 888.30) scale(1.3108 1.0000)" font-size="21.0" font-family='"Liberation Serif", serif' fill="#000">−</text>
<text transform="translate(1607.12 886.90) scale(0.9932 1.0000)" font-size="21.0" font-family='"Liberation Serif", serif' fill="#000">1</text>
<text transform="translate(1628.21 897.00) scale(1.0093 1.0000)" font-size="29.5" font-family='"Liberation Serif", serif' fill="#000">Mpc</text>
<text transform="translate(1682.11 888.30) scale(1.3210 1.0000)" font-size="21.0" font-family='"Liberation Serif", serif' fill="#000">−</text>
<text transform="translate(1697.24 886.90) scale(1.0884 1.0000)" font-size="21.0" font-family='"Liberation Serif", serif' fill="#000">1</text>
<text transform="translate(1708.94 899.45) scale(0.7382 1.1900)" font-size="29.5" font-family='"Liberation Serif", serif' fill="#000">]</text>
<text transform="translate(1846.30 897.00) scale(0.9799 1.0400)" font-size="29.5" font-family='"Liberation Serif", serif' fill="#000">Ω</text>
<text transform="translate(1867.57 901.50) scale(1.0547 1.0000)" font-size="20.5" font-family='"Liberation Serif", serif' fill="#000">m</text>
<text transform="translate(1119.30 533.29) rotate(-90) scale(1.0498 1.0000)" font-size="29.5" font-family='"Liberation Serif", serif' font-style="italic" fill="#000">H</text>
<text transform="translate(1123.80 511.50) rotate(-90) scale(1.0658 1.0000)" font-size="21.0" font-family='"Liberation Serif", serif' fill="#000">0</text>
<text transform="translate(1121.75 488.73) rotate(-90) scale(0.6009 1.1900)" font-size="29.5" font-family='"Liberation Serif", serif' fill="#000">[</text>
<text transform="translate(1119.30 483.20) rotate(-90) scale(1.0087 1.0000)" font-size="29.5" font-family='"Liberation Serif", serif' fill="#000">km</text>
<text transform="translate(1119.30 436.42) rotate(-90) scale(1.0331 1.0000)" font-size="29.5" font-family='"Liberation Serif", serif' fill="#000">s</text>
<text transform="translate(1110.60 424.68) rotate(-90) scale(1.3108 1.0000)" font-size="21.0" font-family='"Liberation Serif", serif' fill="#000">−</text>
<text transform="translate(1109.20 408.88) rotate(-90) scale(0.9932 1.0000)" font-size="21.0" font-family='"Liberation Serif", serif' fill="#000">1</text>
<text transform="translate(1119.30 387.79) rotate(-90) scale(1.0093 1.0000)" font-size="29.5" font-family='"Liberation Serif", serif' fill="#000">Mpc</text>
<text transform="translate(1110.60 333.89) rotate(-90) scale(1.3210 1.0000)" font-size="21.0" font-family='"Liberation Serif", serif' fill="#000">−</text>
<text transform="translate(1109.20 318.76) rotate(-90) scale(1.0884 1.0000)" font-size="21.0" font-family='"Liberation Serif", serif' fill="#000">1</text>
<text transform="translate(1121.75 307.06) rotate(-90) scale(0.7382 1.1900)" font-size="29.5" font-family='"Liberation Serif", serif' fill="#000">]</text>
<text transform="translate(1120.50 714.75) rotate(-90) scale(0.9799 1.0400)" font-size="29.5" font-family='"Liberation Serif", serif' fill="#000">Ω</text>
<text transform="translate(1125.00 693.48) rotate(-90) scale(1.0547 1.0000)" font-size="20.5" font-family='"Liberation Serif", serif' fill="#000">m</text>
<line x1="1582.2" y1="27" x2="1649.2" y2="27" stroke="#000000" stroke-width="1.4" />
<text transform="translate(1674.26 39.00) scale(0.8761 1.0000)" font-size="34.0" font-family='"Liberation Sans", sans-serif' fill="#000">SLy</text>
<text transform="translate(1735.46 39.00) scale(0.9503 1.0000)" font-size="34.0" font-family='"Liberation Sans", sans-serif' fill="#000">(CMB</text>
<text transform="translate(1815.40 41.60) scale(1.0635 0.9929)" font-size="34.0" font-family='"DejaVu Sans", sans-serif' font-weight="200" fill="#000">+</text>
<text transform="translate(1842.82 39.00) scale(0.9112 1.0000)" font-size="34.0" font-family='"Liberation Sans", sans-serif' fill="#000">ET2CE)</text>
<line x1="1582.2" y1="76.4" x2="1649.2" y2="76.4" stroke="#ff0000" stroke-width="1.4" />
<text transform="translate(1674.49 88.30) scale(0.9232 1.0000)" font-size="34.0" font-family='"Liberation Sans", sans-serif' fill="#000">MPA1</text>
<text transform="translate(1768.56 88.30) scale(0.9503 1.0000)" font-size="34.0" font-family='"Liberation Sans", sans-serif' fill="#000">(CMB</text>
<text transform="translate(1848.50 90.90) scale(1.0635 0.9929)" font-size="34.0" font-family='"DejaVu Sans", sans-serif' font-weight="200" fill="#000">+</text>
<text transform="translate(1875.92 88.30) scale(0.9112 1.0000)" font-size="34.0" font-family='"Liberation Sans", sans-serif' fill="#000">ET2CE)</text>
<line x1="1582.2" y1="125.8" x2="1649.2" y2="125.8" stroke="#0000ff" stroke-width="1.4" />
<text transform="translate(1674.60 137.50) scale(0.8831 1.0000)" font-size="34.0" font-family='"Liberation Sans", sans-serif' fill="#000">MS1</text>
<text transform="translate(1747.36 137.50) scale(0.9503 1.0000)" font-size="34.0" font-family='"Liberation Sans", sans-serif' fill="#000">(CMB</text>
<text transform="translate(1827.30 140.10) scale(1.0635 0.9929)" font-size="34.0" font-family='"DejaVu Sans", sans-serif' font-weight="200" fill="#000">+</text>
<text transform="translate(1854.72 137.50) scale(0.9112 1.0000)" font-size="34.0" font-family='"Liberation Sans", sans-serif' fill="#000">ET2CE)</text>
</svg></body></html>
